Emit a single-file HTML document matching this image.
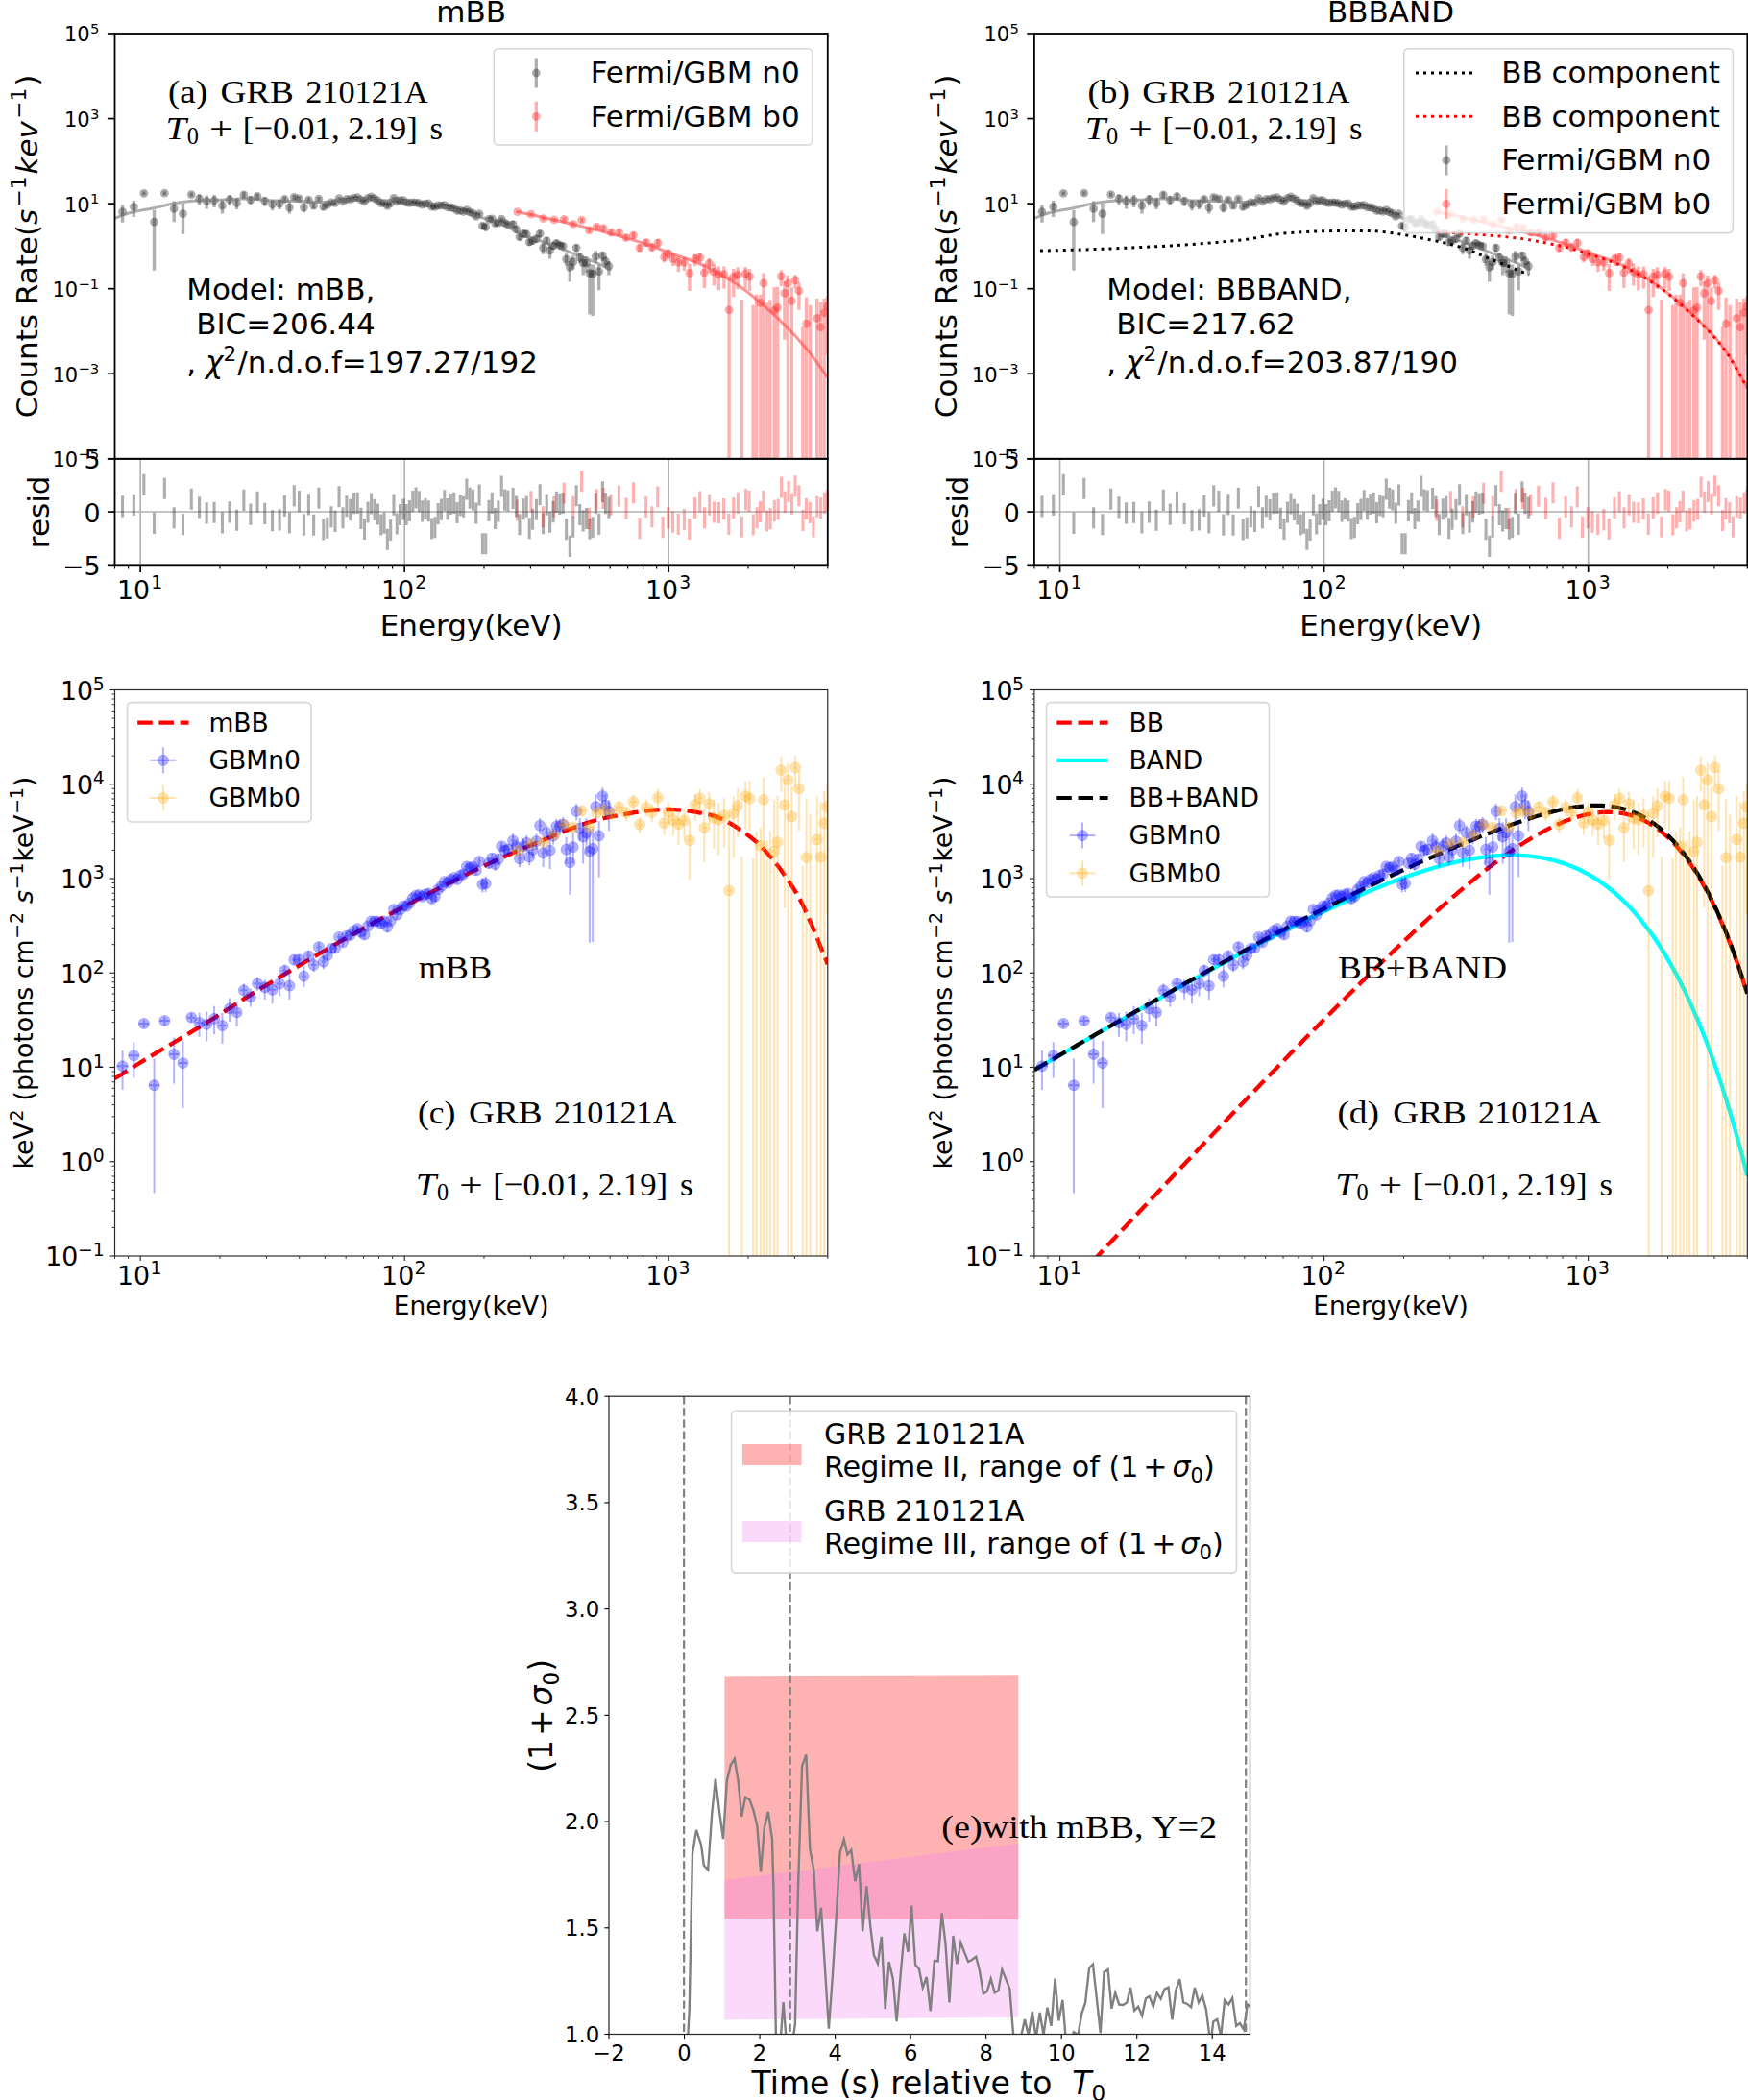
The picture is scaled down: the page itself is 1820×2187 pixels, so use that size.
<!DOCTYPE html>
<html><head><meta charset="utf-8"><title>GRB 210121A spectra</title>
<style>html,body{margin:0;padding:0;background:#fff;overflow:hidden}svg{display:block}</style></head>
<body>
<svg width="1820" height="2187" viewBox="0 0 1820 2187">
<rect x="0" y="0" width="1820" height="2187" fill="#fff" stroke="none" stroke-width="1" />
<!-- panel a -->
<line x1="146.15" y1="477.8" x2="146.15" y2="588.3" stroke="#b0b0b0" stroke-width="1.6" />
<line x1="421.18" y1="477.8" x2="421.18" y2="588.3" stroke="#b0b0b0" stroke-width="1.6" />
<line x1="696.21" y1="477.8" x2="696.21" y2="588.3" stroke="#b0b0b0" stroke-width="1.6" />
<line x1="119.5" y1="533.05" x2="861.8" y2="533.05" stroke="#b0b0b0" stroke-width="1.6" />
<clipPath id="clipa"><rect x="119.5" y="35" width="742.3" height="442.8"/></clipPath>
<g clip-path="url(#clipa)">
<path d="M127.55 213.4V231.8M139.35 209.1V225.9M149.85 199.5V203.3M160.56 218.7V281.8M171.36 199.3V203.3M181.21 209.5V231.2M190.47 212.1V243.7M199.27 200.6V204.8M207.57 202.2V213.4M215.17 203.5V217.4M223.08 202.9V216M231.48 208.2V222.6M239.08 202.9V214M246.58 206.2V218M253.88 199.8V206.4M260.89 204.2V212.8M268.09 201.5V207.9M275.69 205.5V214.7M283.59 208.2V219.3M291.1 208.2V218M296.4 204.8V210.5M301.4 209.5V222.6M306.3 203V207.9M311.5 204.4V209.5M316.4 210.8V221.3M321.4 205.8V210.8M326.61 211V217.4M331.91 205V209.6M336.81 212.3V218.8M340.81 211.22V215.5M344.95 209.01V212.84M349.02 209.38V213.39M353.04 205.18V208.41M356.99 208V211.87M360.89 205.84V209.33M364.73 206V209.6M368.51 204.6V208M372.23 204.13V207.53M375.9 206.14V210.03M379.51 207.71V212.06M383.07 204.67V208.35M386.57 203.36V206.77M390.02 205.1V208.69M393.42 207.02V210.77M396.77 209.72V213.87M400.07 209.53V213.6M403.37 212.08V216.96M406.67 209.54V213.93M409.98 204.78V208.22M413.28 207.8V211.91M416.58 206.84V210.6M419.88 206.97V210.55M423.18 209.02V212.78M426.48 209.64V213.27M429.78 209.27V212.61M433.08 209.49V212.74M436.38 210.17V213.52M439.68 211.29V214.93M442.98 210.39V213.96M446.29 210.26V213.9M449.59 213.11V217.42M452.89 213.4V217.66M456.19 212V215.73M459.49 212.41V216M462.79 212.01V215.34M466.09 214.18V217.76M469.39 214.39V217.81M472.69 215.23V218.62M475.99 217.72V221.42M479.3 217.59V221.06M482.6 218.76V222.35M485.9 217.07V220.27M489.2 219.19V222.72M492.5 220.29V223.99M495.8 223.35V227.69M499.1 221V224.72M502.4 232V239.02M505.7 233.08V240.42M509 226.27V230.98M512.31 225.76V230.2M515.61 230V235.5M518.91 229.63V234.75M522.21 226.21V230.19M525.51 230.01V234.69M528.81 231.59V236.42M534.16 230.06V237.56M537.56 235.41V242.91M540.97 243.19V250.69M544.86 239.79V247.29M548.27 240.27V247.77M551.19 248.54V256.04M554.59 247.08V254.58M558.48 245.14V252.64M562.18 239.79V247.29M565.59 252.53V264.69M569.19 247.08V254.58M572.59 254.47V269.55M576 252.43V259.93M579.41 249.81V257.31M582.81 251.95V259.45M586.22 252.92V260.42M589.62 264.2V276.85M593.32 271.98V293.39M596.73 266.15V280.74M600.13 254.47V262.26M603.73 263.23V273.93M607.14 267.12V286.58M610.54 267.12V283.66M613.95 274.9V327.43M617.16 275.39V328.89M620.27 261.28V273.93M623.68 275.88V302.14M627.38 262.26V271.98M630.49 267.12V278.79M633.9 271.98V286.58" stroke="#000" stroke-opacity="0.31" stroke-width="3.4" fill="none"/>
<g fill="#000" fill-opacity="0.32"><circle cx="127.55" cy="220.7" r="4.4"/><circle cx="139.35" cy="215.4" r="4.4"/><circle cx="149.85" cy="201.3" r="4.4"/><circle cx="160.56" cy="231.2" r="4.4"/><circle cx="171.36" cy="201.2" r="4.4"/><circle cx="181.21" cy="217.4" r="4.4"/><circle cx="190.47" cy="222.6" r="4.4"/><circle cx="199.27" cy="202.6" r="4.4"/><circle cx="207.57" cy="206.8" r="4.4"/><circle cx="215.17" cy="209.5" r="4.4"/><circle cx="223.08" cy="208.8" r="4.4"/><circle cx="231.48" cy="214.1" r="4.4"/><circle cx="239.08" cy="207.8" r="4.4"/><circle cx="246.58" cy="211.4" r="4.4"/><circle cx="253.88" cy="202.9" r="4.4"/><circle cx="260.89" cy="208.2" r="4.4"/><circle cx="268.09" cy="204.5" r="4.4"/><circle cx="275.69" cy="209.1" r="4.4"/><circle cx="283.59" cy="212.8" r="4.4"/><circle cx="291.1" cy="212.1" r="4.4"/><circle cx="296.4" cy="207.5" r="4.4"/><circle cx="301.4" cy="216.1" r="4.4"/><circle cx="306.3" cy="205.3" r="4.4"/><circle cx="311.5" cy="206.8" r="4.4"/><circle cx="316.4" cy="216.1" r="4.4"/><circle cx="321.4" cy="208.2" r="4.4"/><circle cx="326.61" cy="214.1" r="4.4"/><circle cx="331.91" cy="207.2" r="4.4"/><circle cx="336.81" cy="215.4" r="4.4"/><circle cx="340.81" cy="213.24" r="4.4"/><circle cx="344.95" cy="210.83" r="4.4"/><circle cx="349.02" cy="211.28" r="4.4"/><circle cx="353.04" cy="206.73" r="4.4"/><circle cx="356.99" cy="209.84" r="4.4"/><circle cx="360.89" cy="207.5" r="4.4"/><circle cx="364.73" cy="207.71" r="4.4"/><circle cx="368.51" cy="206.22" r="4.4"/><circle cx="372.23" cy="205.75" r="4.4"/><circle cx="375.9" cy="207.99" r="4.4"/><circle cx="379.51" cy="209.76" r="4.4"/><circle cx="383.07" cy="206.42" r="4.4"/><circle cx="386.57" cy="204.99" r="4.4"/><circle cx="390.02" cy="206.81" r="4.4"/><circle cx="393.42" cy="208.81" r="4.4"/><circle cx="396.77" cy="211.69" r="4.4"/><circle cx="400.07" cy="211.46" r="4.4"/><circle cx="403.37" cy="214.37" r="4.4"/><circle cx="406.67" cy="211.61" r="4.4"/><circle cx="409.98" cy="206.42" r="4.4"/><circle cx="413.28" cy="209.75" r="4.4"/><circle cx="416.58" cy="208.63" r="4.4"/><circle cx="419.88" cy="208.68" r="4.4"/><circle cx="423.18" cy="210.81" r="4.4"/><circle cx="426.48" cy="211.37" r="4.4"/><circle cx="429.78" cy="210.87" r="4.4"/><circle cx="433.08" cy="211.05" r="4.4"/><circle cx="436.38" cy="211.77" r="4.4"/><circle cx="439.68" cy="213.03" r="4.4"/><circle cx="442.98" cy="212.1" r="4.4"/><circle cx="446.29" cy="212" r="4.4"/><circle cx="449.59" cy="215.14" r="4.4"/><circle cx="452.89" cy="215.41" r="4.4"/><circle cx="456.19" cy="213.78" r="4.4"/><circle cx="459.49" cy="214.12" r="4.4"/><circle cx="462.79" cy="213.6" r="4.4"/><circle cx="466.09" cy="215.89" r="4.4"/><circle cx="469.39" cy="216.02" r="4.4"/><circle cx="472.69" cy="216.85" r="4.4"/><circle cx="475.99" cy="219.48" r="4.4"/><circle cx="479.3" cy="219.25" r="4.4"/><circle cx="482.6" cy="220.47" r="4.4"/><circle cx="485.9" cy="218.61" r="4.4"/><circle cx="489.2" cy="220.87" r="4.4"/><circle cx="492.5" cy="222.05" r="4.4"/><circle cx="495.8" cy="225.4" r="4.4"/><circle cx="499.1" cy="222.77" r="4.4"/><circle cx="502.4" cy="235.19" r="4.4"/><circle cx="505.7" cy="236.4" r="4.4"/><circle cx="509" cy="228.48" r="4.4"/><circle cx="512.31" cy="227.86" r="4.4"/><circle cx="515.61" cy="232.55" r="4.4"/><circle cx="518.91" cy="232.02" r="4.4"/><circle cx="522.21" cy="228.1" r="4.4"/><circle cx="525.51" cy="232.2" r="4.4"/><circle cx="528.81" cy="233.85" r="4.4"/><circle cx="534.16" cy="233.56" r="4.4"/><circle cx="537.56" cy="238.91" r="4.4"/><circle cx="540.97" cy="246.69" r="4.4"/><circle cx="544.86" cy="243.29" r="4.4"/><circle cx="548.27" cy="243.77" r="4.4"/><circle cx="551.19" cy="252.04" r="4.4"/><circle cx="554.59" cy="250.58" r="4.4"/><circle cx="558.48" cy="248.64" r="4.4"/><circle cx="562.18" cy="243.29" r="4.4"/><circle cx="565.59" cy="258.07" r="4.4"/><circle cx="569.19" cy="250.58" r="4.4"/><circle cx="572.59" cy="260.8" r="4.4"/><circle cx="576" cy="255.93" r="4.4"/><circle cx="579.41" cy="253.31" r="4.4"/><circle cx="582.81" cy="255.45" r="4.4"/><circle cx="586.22" cy="256.42" r="4.4"/><circle cx="589.62" cy="270.04" r="4.4"/><circle cx="593.32" cy="278.31" r="4.4"/><circle cx="596.73" cy="272.96" r="4.4"/><circle cx="600.13" cy="258.07" r="4.4"/><circle cx="603.73" cy="268.09" r="4.4"/><circle cx="607.14" cy="273.93" r="4.4"/><circle cx="610.54" cy="273.93" r="4.4"/><circle cx="613.95" cy="284.63" r="4.4"/><circle cx="617.16" cy="285.12" r="4.4"/><circle cx="620.27" cy="267.12" r="4.4"/><circle cx="623.68" cy="282.68" r="4.4"/><circle cx="627.38" cy="266.15" r="4.4"/><circle cx="630.49" cy="272.47" r="4.4"/><circle cx="633.9" cy="277.33" r="4.4"/></g>
<path d="M538.83 219.52V222.1M552.94 221.69V224.63M565.78 226V229.29M576.97 227.19V230.85M587.38 226.54V230.55M596.73 231.33V235.7M605.68 226.98V231.71M613.46 237.52V242.6M621.25 233.65V239.1M628.35 235.04V240.85M636.33 239.16V245.32M644.6 238.99V245.51M651.9 244.17V251.05M659.49 241.67V248.91M666.01 254.54V262.14M672.82 249.02V256.98M678.85 253.53V261.84M684.98 248.98V257.65M691.55 262.11V273.26M695.89 259.63V269.54M700.84 263.35V276.97M706.42 267.06V283.17M712.37 267.68V281.93M717.94 275.12V302.98M723.76 264.59V276.97M728.72 263.97V274.5M733.3 274.5V299.89M738.38 268.92V284.4M743.34 274.5V297.41M748.29 277.59V302.36M753.87 277.59V300.51M759.07 287.5V482.8M763.78 280.07V309.18M768.12 278.21V301.12M772.45 311.9V482.8M776.17 277.96V300.51M780.51 280.07V302.98M784.1 317.84V482.8M787.57 306.7V482.8M791.9 306.7V482.8M795 284.4V482.8M798.72 315.37V482.8M801.81 312.27V482.8M806.15 299.27V482.8M809.5 298.65V482.8M813.34 281.31V298.03M816.93 293.07V353.76M820.4 286.88V482.8M824.36 299.27V482.8M828.08 286.26V300.51M831.92 294.31V322.8M835.88 340.14V482.8M839.6 309.79V482.8M843.69 317.84V482.8M850.75 311.03V482.8M854.47 314.75V482.8M858.19 311.03V482.8M861.28 308.56V369.86" stroke="#ff0000" stroke-opacity="0.31" stroke-width="3.4" fill="none"/>
<g fill="#ff0000" fill-opacity="0.33"><circle cx="538.83" cy="220.72" r="4.4"/><circle cx="552.94" cy="223.05" r="4.4"/><circle cx="565.78" cy="227.53" r="4.4"/><circle cx="576.97" cy="228.89" r="4.4"/><circle cx="587.38" cy="228.4" r="4.4"/><circle cx="596.73" cy="233.37" r="4.4"/><circle cx="605.68" cy="229.18" r="4.4"/><circle cx="613.46" cy="239.88" r="4.4"/><circle cx="621.25" cy="236.19" r="4.4"/><circle cx="628.35" cy="237.74" r="4.4"/><circle cx="636.33" cy="242.02" r="4.4"/><circle cx="644.6" cy="242.02" r="4.4"/><circle cx="651.9" cy="247.37" r="4.4"/><circle cx="659.49" cy="245.04" r="4.4"/><circle cx="666.01" cy="258.07" r="4.4"/><circle cx="672.82" cy="252.72" r="4.4"/><circle cx="678.85" cy="257.39" r="4.4"/><circle cx="684.98" cy="253.02" r="4.4"/><circle cx="691.55" cy="267.68" r="4.4"/><circle cx="695.89" cy="263.97" r="4.4"/><circle cx="700.84" cy="269.54" r="4.4"/><circle cx="706.42" cy="273.26" r="4.4"/><circle cx="712.37" cy="273.26" r="4.4"/><circle cx="717.94" cy="284.4" r="4.4"/><circle cx="723.76" cy="269.54" r="4.4"/><circle cx="728.72" cy="268.3" r="4.4"/><circle cx="733.3" cy="283.78" r="4.4"/><circle cx="738.38" cy="274.5" r="4.4"/><circle cx="743.34" cy="283.17" r="4.4"/><circle cx="748.29" cy="285.64" r="4.4"/><circle cx="753.87" cy="285.64" r="4.4"/><circle cx="759.07" cy="322.8" r="4.4"/><circle cx="763.78" cy="288.12" r="4.4"/><circle cx="768.12" cy="286.26" r="4.4"/><circle cx="772.45" cy="1200" r="4.4"/><circle cx="776.17" cy="285.02" r="4.4"/><circle cx="780.51" cy="288.12" r="4.4"/><circle cx="784.1" cy="1200" r="4.4"/><circle cx="787.57" cy="1200" r="4.4"/><circle cx="791.9" cy="315.37" r="4.4"/><circle cx="795" cy="294.93" r="4.4"/><circle cx="798.72" cy="1200" r="4.4"/><circle cx="801.81" cy="1200" r="4.4"/><circle cx="806.15" cy="323.42" r="4.4"/><circle cx="809.5" cy="320.32" r="4.4"/><circle cx="813.34" cy="287.87" r="4.4"/><circle cx="816.93" cy="305.46" r="4.4"/><circle cx="820.4" cy="294.93" r="4.4"/><circle cx="824.36" cy="313.51" r="4.4"/><circle cx="828.08" cy="291.84" r="4.4"/><circle cx="831.92" cy="302.98" r="4.4"/><circle cx="835.88" cy="1200" r="4.4"/><circle cx="839.6" cy="337.04" r="4.4"/><circle cx="843.69" cy="1200" r="4.4"/><circle cx="850.75" cy="331.47" r="4.4"/><circle cx="854.47" cy="340.76" r="4.4"/><circle cx="858.19" cy="325.9" r="4.4"/><circle cx="861.28" cy="319.08" r="4.4"/></g>
<polyline points="119.48,227.41 122.72,226.18 125.97,224.9 129.22,223.64 132.47,222.49 135.72,221.49 138.97,220.69 142.21,219.99 145.46,219.37 148.71,218.79 151.96,218.23 155.21,217.66 158.46,217.05 161.71,216.36 164.95,215.61 168.2,214.8 171.45,213.98 174.7,213.19 177.95,212.46 181.2,211.83 184.44,211.31 187.69,210.81 190.94,210.35 194.19,209.94 197.44,209.58 200.69,209.31 203.94,209.11 207.18,208.95 210.43,208.81 213.68,208.7 216.93,208.59 220.18,208.49 223.43,208.39 226.68,208.28 229.92,208.14 233.17,207.97 236.42,207.78 239.67,207.59 242.92,207.4 246.17,207.23 249.41,207.1 252.66,207.02 255.91,207.01 259.16,207.11 262.41,207.3 265.66,207.56 268.91,207.86 272.15,208.17 275.4,208.45 278.65,208.68 281.9,208.82 285.15,208.93 288.4,209.01 291.64,209.09 294.89,209.15 298.14,209.22 301.39,209.28 304.64,209.35 307.89,209.43 311.14,209.53 314.38,209.67 317.63,209.84 320.88,210.03 324.13,210.2 327.38,210.35 330.63,210.46 333.87,210.5 337.12,210.45 340.37,210.29 343.62,210.07 346.87,209.78 350.12,209.47 353.37,209.14 356.61,208.82 359.86,208.53 363.11,208.24 366.36,207.89 369.61,207.51 372.86,207.14 376.1,206.81 379.35,206.54 382.6,206.36 385.85,206.31 389.1,206.88 392.35,208 395.6,209.07 398.84,209.5 402.09,209.16 405.34,208.47 408.59,207.8 411.84,207.5 415.09,207.81 418.34,208.61 421.58,209.71 424.83,210.93 428.08,212.09 431.33,213 434.58,213.47 437.83,213.38 441.07,212.92 444.32,212.38 447.57,212.03 450.82,212.15 454.07,212.83 457.32,213.81 460.57,214.84 463.81,215.73 467.06,216.64 470.31,217.59 473.56,218.57 476.81,219.57 480.06,220.57 483.3,221.56 486.55,222.53 489.8,223.47 493.05,224.37 496.3,225.24 499.55,226.1 502.8,226.97 506.04,227.87 509.29,228.83 512.54,229.85 515.79,230.97 519.04,232.23 522.29,233.6 525.53,235.04 528.78,236.52 532.03,238.12 535.28,239.8 538.53,241.44 541.78,242.95 545.03,244.37 548.27,245.71 551.52,246.98 554.77,248.16 558.02,249.29 561.27,250.43 564.52,251.62 567.77,252.83 571.01,254.03 574.26,255.25 577.51,256.48 580.76,257.72 584.01,258.98 587.26,260.24 590.5,261.51 593.75,262.78 597,264.04 600.25,265.31 603.5,266.58 606.75,267.86 610,269.16 613.24,270.49 616.49,271.85 619.74,273.24 622.99,274.68 626.24,276.16 629.49,277.71 632.73,279.37 635.98,281.12" fill="none" stroke="#777" stroke-width="3" stroke-opacity="0.6"/>
<polyline points="538.62,220.65 541.89,221.33 545.15,222.01 548.42,222.7 551.68,223.4 554.94,224.1 558.21,224.81 561.47,225.53 564.74,226.25 568,226.98 571.26,227.72 574.53,228.46 577.79,229.2 581.06,229.95 584.32,230.71 587.59,231.47 590.85,232.24 594.11,233 597.38,233.77 600.64,234.55 603.91,235.33 607.17,236.11 610.44,236.9 613.7,237.69 616.96,238.5 620.23,239.31 623.49,240.13 626.76,240.97 630.02,241.82 633.29,242.68 636.55,243.56 639.81,244.45 643.08,245.36 646.34,246.27 649.61,247.19 652.87,248.13 656.14,249.09 659.4,250.06 662.66,251.06 665.93,252.07 669.19,253.12 672.46,254.19 675.72,255.28 678.99,256.44 682.25,257.69 685.51,258.97 688.78,260.25 692.04,261.48 695.31,262.66 698.57,263.81 701.84,264.95 705.1,266.08 708.36,267.21 711.63,268.35 714.89,269.53 718.16,270.74 721.42,272 724.68,273.33 727.95,274.72 731.21,276.18 734.48,277.7 737.74,279.27 741.01,280.89 744.27,282.58 747.53,284.32 750.8,286.12 754.06,287.99 757.33,289.91 760.59,291.89 763.86,293.94 767.12,296.07 770.38,298.31 773.65,300.66 776.91,303.11 780.18,305.65 783.44,308.27 786.71,310.97 789.97,313.72 793.23,316.54 796.5,319.4 799.76,322.3 803.03,325.23 806.29,328.21 809.56,331.26 812.82,334.38 816.08,337.56 819.35,340.82 822.61,344.16 825.88,347.59 829.14,351.1 832.41,354.7 835.67,358.4 838.93,362.2 842.2,366.2 845.46,370.44 848.73,374.86 851.99,379.41 855.25,384 858.52,388.58 861.78,393.09" fill="none" stroke="#ff4a4a" stroke-width="3" stroke-opacity="0.6"/>
</g>
<path d="M127.55 516.36V538.46M139.35 514.82V536.92M149.85 493.82V515.92M160.56 533.82V555.92M171.36 497.69V519.79M181.21 528.19V550.29M190.47 535.26V557.36M199.27 508.74V530.84M207.57 517.36V539.46M215.17 523.37V545.47M223.08 522.64V544.74M231.48 533.35V555.45M239.08 522.35V544.45M246.58 530.67V552.77M253.88 509.86V531.96M260.89 524.55V546.65M268.09 511.72V533.82M275.69 523.78V545.88M283.59 531.24V553.34M291.1 530.37V552.47M296.4 515.86V537.96M301.4 533.49V555.59M306.3 505.33V527.43M311.5 510.94V533.04M316.4 535.56V557.66M321.4 514.35V536.45M326.61 535.71V557.81M331.91 507.69V529.79M336.81 540.52V562.62M340.81 538.65V560.75M344.95 527.16V549.26M349.02 531.85V553.95M353.04 506.23V528.33M356.99 528.19V550.29M360.89 516.17V538.27M364.73 519.84V541.94M368.51 513.08V535.18M372.23 512.82V534.92M375.9 528.8V550.9M379.51 540.02V562.12M383.07 522.47V544.57M386.57 513.44V535.54M390.02 519.79V541.89M393.42 524.51V546.61M396.77 535.44V557.54M400.07 533.62V555.72M403.37 550.73V572.83M406.67 541V563.1M409.98 514.61V536.71M413.28 534.48V556.58M416.58 525V547.1M419.88 519.38V541.48M423.18 524.98V547.08M426.48 520.97V543.07M429.78 510.97V533.07M433.08 507.4V529.5M436.38 511.2V533.3M439.68 521.28V543.38M442.98 518.93V541.03M446.29 521.19V543.29M449.59 539.39V561.49M452.89 538.15V560.25M456.19 523.93V546.03M459.49 519.62V541.72M462.79 510.25V532.35M466.09 519.08V541.18M469.39 513.88V535.98M472.69 512.83V534.93M475.99 523.01V545.11M479.3 515.25V537.35M482.6 516.74V538.84M485.9 498.5V520.6M489.2 507.69V529.79M492.5 509.72V531.82M495.8 523.51V545.61M499.1 504.38V526.48M502.4 555.15V577.25M505.7 555.15V577.25M509 520.78V542.88M512.31 512.86V534.96M515.61 528.96V551.06M518.91 521.32V543.42M522.21 495.48V517.58M525.51 509.54V531.64M528.81 510.49V532.59M534.16 507.89V529.99M537.56 516.4V538.5M540.97 535.16V557.26M544.86 519.17V541.27M548.27 516.7V538.8M551.19 539.16V561.26M554.59 529.66V551.76M558.48 519.71V541.81M562.18 504.17V526.27M565.59 534.24V556.34M569.19 514.57V536.67M572.59 532.74V554.84M576 522.07V544.17M579.41 511.84V533.94M582.81 513.84V535.94M586.22 513V535.1M589.62 540.26V562.36M593.32 557.82V579.92M596.73 537.57V559.67M600.13 505.26V527.36M603.73 524.95V547.05M607.14 531.36V553.46M610.54 528.93V551.03M613.95 539.7V561.8M617.16 538.19V560.29M620.27 513.23V535.33M623.68 534.79V556.89M627.38 501.2V523.3M630.49 513.1V535.2M633.9 517.56V539.66" stroke="#000" stroke-opacity="0.32" stroke-width="3.1" fill="none"/>
<path d="M538.51 520.47V542.57M552.89 511.27V533.37M565.35 527.17V549.27M576.66 517.02V539.12M587.2 502.64V524.74M596.79 516.63V538.73M605.6 490.19V512.29M613.27 529.09V551.19M620.94 509.35V531.45M628.03 508.01V530.11M636.08 514.72V536.82M644.33 505.71V527.81M652 518.55V540.65M659.47 502.26V524.36M665.99 539.06V561.16M672.7 517.02V539.12M678.83 527.17V549.27M684.78 506.48V528.58M690.14 538.1V560.2M695.7 528.13V550.23M700.5 532.54V554.64M706.25 534.84V556.94M712.38 530.05V552.15M717.75 540.01V562.11M723.5 517.98V540.08M728.68 511.46V533.56M733.47 528.13V550.23M738.64 514.72V536.82M743.44 522.38V544.48M748.42 522.96V545.06M753.6 518.93V541.03M758.77 534.84V556.94M763.76 517.98V540.08M768.36 512.8V534.9M772.38 537.71V559.81M776.6 509.35V531.45M780.05 510.88V532.98M784.27 535.41V557.51M788.1 528.13V550.23M791.55 522V544.1M794.81 510.88V532.98M798.65 531.39V553.49M802.1 529.09V551.19M806.32 521.04V543.14M810.15 519.51V541.61M813.6 496.51V518.61M817.24 511.84V533.94M821.08 500.92V523.02M824.53 513.76V535.86M827.98 495.17V517.27M831.81 505.14V527.24M836.03 531.01V553.11M839.48 518.93V541.03M843.31 522.96V545.06M846.96 537.71V559.81M850.79 516.63V538.73M854.62 517.98V540.08M858.46 512.8V534.9M861.33 509.93V532.03" stroke="#ff0000" stroke-opacity="0.31" stroke-width="3.1" fill="none"/>
<rect x="119.5" y="35" width="742.3" height="442.8" fill="none" stroke="#000" stroke-width="1.8" />
<rect x="119.5" y="477.8" width="742.3" height="110.5" fill="none" stroke="#000" stroke-width="1.8" />
<line x1="111.9" y1="35" x2="119.5" y2="35" stroke="#000" stroke-width="1.7" />
<text x="103.4" y="43.4" font-size="21" font-family="'DejaVu Sans','Liberation Sans',sans-serif" text-anchor="end">10<tspan font-size="14.7" dx="0.3" dy="-8.19">5</tspan></text>
<line x1="111.9" y1="123.56" x2="119.5" y2="123.56" stroke="#000" stroke-width="1.7" />
<text x="103.4" y="131.96" font-size="21" font-family="'DejaVu Sans','Liberation Sans',sans-serif" text-anchor="end">10<tspan font-size="14.7" dx="0.3" dy="-8.19">3</tspan></text>
<line x1="111.9" y1="212.12" x2="119.5" y2="212.12" stroke="#000" stroke-width="1.7" />
<text x="103.4" y="220.52" font-size="21" font-family="'DejaVu Sans','Liberation Sans',sans-serif" text-anchor="end">10<tspan font-size="14.7" dx="0.3" dy="-8.19">1</tspan></text>
<line x1="111.9" y1="300.68" x2="119.5" y2="300.68" stroke="#000" stroke-width="1.7" />
<text x="103.1" y="309.08" font-size="21" font-family="'DejaVu Sans','Liberation Sans',sans-serif" text-anchor="end">10<tspan font-size="14.7" dx="0.3" dy="-8.19">−1</tspan></text>
<line x1="111.9" y1="389.24" x2="119.5" y2="389.24" stroke="#000" stroke-width="1.7" />
<text x="103.1" y="397.64" font-size="21" font-family="'DejaVu Sans','Liberation Sans',sans-serif" text-anchor="end">10<tspan font-size="14.7" dx="0.3" dy="-8.19">−3</tspan></text>
<line x1="111.9" y1="477.8" x2="119.5" y2="477.8" stroke="#000" stroke-width="1.7" />
<text x="103.1" y="486.2" font-size="21" font-family="'DejaVu Sans','Liberation Sans',sans-serif" text-anchor="end">10<tspan font-size="14.7" dx="0.3" dy="-8.19">−5</tspan></text>
<line x1="111.9" y1="477.8" x2="119.5" y2="477.8" stroke="#000" stroke-width="1.7" />
<text x="104.5" y="488.3" font-size="26.8" font-family="'DejaVu Sans','Liberation Sans',sans-serif" text-anchor="end" fill="#000" >5</text>
<line x1="111.9" y1="533.05" x2="119.5" y2="533.05" stroke="#000" stroke-width="1.7" />
<text x="104.5" y="543.55" font-size="26.8" font-family="'DejaVu Sans','Liberation Sans',sans-serif" text-anchor="end" fill="#000" >0</text>
<line x1="111.9" y1="588.3" x2="119.5" y2="588.3" stroke="#000" stroke-width="1.7" />
<text x="104.5" y="598.8" font-size="26.8" font-family="'DejaVu Sans','Liberation Sans',sans-serif" text-anchor="end" fill="#000" >−5</text>
<line x1="146.15" y1="588.3" x2="146.15" y2="595.9" stroke="#000" stroke-width="1.7" />
<text x="145.55" y="623.5" font-size="26.8" font-family="'DejaVu Sans','Liberation Sans',sans-serif" text-anchor="middle">10<tspan font-size="18.76" dx="1.2" dy="-10.45">1</tspan></text>
<line x1="421.18" y1="588.3" x2="421.18" y2="595.9" stroke="#000" stroke-width="1.7" />
<text x="420.58" y="623.5" font-size="26.8" font-family="'DejaVu Sans','Liberation Sans',sans-serif" text-anchor="middle">10<tspan font-size="18.76" dx="1.2" dy="-10.45">2</tspan></text>
<line x1="696.21" y1="588.3" x2="696.21" y2="595.9" stroke="#000" stroke-width="1.7" />
<text x="695.61" y="623.5" font-size="26.8" font-family="'DejaVu Sans','Liberation Sans',sans-serif" text-anchor="middle">10<tspan font-size="18.76" dx="1.2" dy="-10.45">3</tspan></text>
<line x1="119.5" y1="588.3" x2="119.5" y2="592.5" stroke="#000" stroke-width="1.2" />
<line x1="133.57" y1="588.3" x2="133.57" y2="592.5" stroke="#000" stroke-width="1.2" />
<line x1="228.95" y1="588.3" x2="228.95" y2="592.5" stroke="#000" stroke-width="1.2" />
<line x1="277.38" y1="588.3" x2="277.38" y2="592.5" stroke="#000" stroke-width="1.2" />
<line x1="311.74" y1="588.3" x2="311.74" y2="592.5" stroke="#000" stroke-width="1.2" />
<line x1="338.39" y1="588.3" x2="338.39" y2="592.5" stroke="#000" stroke-width="1.2" />
<line x1="360.17" y1="588.3" x2="360.17" y2="592.5" stroke="#000" stroke-width="1.2" />
<line x1="378.58" y1="588.3" x2="378.58" y2="592.5" stroke="#000" stroke-width="1.2" />
<line x1="394.53" y1="588.3" x2="394.53" y2="592.5" stroke="#000" stroke-width="1.2" />
<line x1="408.6" y1="588.3" x2="408.6" y2="592.5" stroke="#000" stroke-width="1.2" />
<line x1="503.98" y1="588.3" x2="503.98" y2="592.5" stroke="#000" stroke-width="1.2" />
<line x1="552.41" y1="588.3" x2="552.41" y2="592.5" stroke="#000" stroke-width="1.2" />
<line x1="586.77" y1="588.3" x2="586.77" y2="592.5" stroke="#000" stroke-width="1.2" />
<line x1="613.42" y1="588.3" x2="613.42" y2="592.5" stroke="#000" stroke-width="1.2" />
<line x1="635.2" y1="588.3" x2="635.2" y2="592.5" stroke="#000" stroke-width="1.2" />
<line x1="653.61" y1="588.3" x2="653.61" y2="592.5" stroke="#000" stroke-width="1.2" />
<line x1="669.56" y1="588.3" x2="669.56" y2="592.5" stroke="#000" stroke-width="1.2" />
<line x1="683.63" y1="588.3" x2="683.63" y2="592.5" stroke="#000" stroke-width="1.2" />
<line x1="779.01" y1="588.3" x2="779.01" y2="592.5" stroke="#000" stroke-width="1.2" />
<line x1="827.44" y1="588.3" x2="827.44" y2="592.5" stroke="#000" stroke-width="1.2" />
<line x1="861.8" y1="588.3" x2="861.8" y2="592.5" stroke="#000" stroke-width="1.2" />
<text x="490.65" y="22.9" font-size="31" font-family="'DejaVu Sans','Liberation Sans',sans-serif" text-anchor="middle" fill="#000" >mBB</text>
<text x="490.65" y="661.8" font-size="31" font-family="'DejaVu Sans','Liberation Sans',sans-serif" text-anchor="middle" fill="#000" >Energy(keV)</text>
<text transform="translate(38.5,256.4) rotate(-90)" font-size="31" font-family="'DejaVu Sans','Liberation Sans',sans-serif" text-anchor="middle">Counts Rate(<tspan font-style="oblique">s</tspan><tspan font-size="21.7" dy="-12" dx="2.4">−1</tspan><tspan font-style="oblique" dy="12" dx="2">kev</tspan><tspan font-size="21.7" dy="-12" dx="2.4">−1</tspan><tspan dy="12" dx="2">)</tspan></text>
<text transform="translate(50.7,533.35) rotate(-90)" font-size="31" font-family="'DejaVu Sans','Liberation Sans',sans-serif" text-anchor="middle">resid</text>
<g font-family="'Liberation Serif','DejaVu Serif',serif" font-size="34.71" fill="#000">
<text x="175" y="107.2" textLength="41" lengthAdjust="spacingAndGlyphs">(a)</text>
<text x="229.4" y="107.2" textLength="76.5" lengthAdjust="spacingAndGlyphs">GRB</text>
<text x="318.2" y="107.2" textLength="127.5" lengthAdjust="spacingAndGlyphs">210121A</text>
</g>
<g font-family="'Liberation Serif','DejaVu Serif',serif" font-size="34.71" fill="#000">
<text x="172.4" y="144.6" font-style="italic" textLength="21.5" lengthAdjust="spacingAndGlyphs">T</text>
<text x="194.7" y="149.8" font-size="24.26">0</text>
<text x="217.9" y="144.6" textLength="24.5" lengthAdjust="spacingAndGlyphs">+</text>
<text x="252.8" y="144.6" textLength="182" lengthAdjust="spacingAndGlyphs">[−0.01, 2.19]</text>
<text x="447.6" y="144.6">s</text>
</g>
<rect x="514.3" y="50.8" width="331.6" height="100.2" rx="4.5" ry="4.5" fill="#fff" fill-opacity="0.8" stroke="#ccc" stroke-opacity="0.8" stroke-width="1.6"/>
<line x1="558.3" y1="60.4" x2="558.3" y2="91.6" stroke="#000" stroke-opacity="0.31" stroke-width="3.4"/>
<circle cx="558.3" cy="76" r="4.4" fill="#000" fill-opacity="0.32"/>
<line x1="558.3" y1="105.7" x2="558.3" y2="136.9" stroke="#ff0000" stroke-opacity="0.31" stroke-width="3.4"/>
<circle cx="558.3" cy="121.3" r="4.4" fill="#ff0000" fill-opacity="0.33"/>
<text x="614.7" y="85.9" font-size="31" font-family="'DejaVu Sans','Liberation Sans',sans-serif" text-anchor="start" fill="#000" >Fermi/GBM n0</text>
<text x="614.7" y="131.7" font-size="31" font-family="'DejaVu Sans','Liberation Sans',sans-serif" text-anchor="start" fill="#000" >Fermi/GBM b0</text>
<text x="194.3" y="312.3" font-size="31" font-family="'DejaVu Sans','Liberation Sans',sans-serif" text-anchor="start" fill="#000" >Model: mBB,</text>
<text x="194.3" y="347.7" font-size="31" font-family="'DejaVu Sans','Liberation Sans',sans-serif" text-anchor="start" fill="#000" > BIC=206.44</text>
<text x="194.3" y="387.8" font-size="31" font-family="'DejaVu Sans','Liberation Sans',sans-serif">, <tspan font-style="oblique">χ</tspan><tspan font-size="21.7" dy="-12">2</tspan><tspan dy="12" dx="1">/n.d.o.f=197.27/192</tspan></text>
<!-- panel b -->
<line x1="1103.56" y1="477.8" x2="1103.56" y2="588.3" stroke="#b0b0b0" stroke-width="1.6" />
<line x1="1378.62" y1="477.8" x2="1378.62" y2="588.3" stroke="#b0b0b0" stroke-width="1.6" />
<line x1="1653.69" y1="477.8" x2="1653.69" y2="588.3" stroke="#b0b0b0" stroke-width="1.6" />
<line x1="1076.9" y1="533.05" x2="1819.3" y2="533.05" stroke="#b0b0b0" stroke-width="1.6" />
<clipPath id="clipb"><rect x="1076.9" y="35" width="742.4" height="442.8"/></clipPath>
<g clip-path="url(#clipb)">
<path d="M1084.95 213.4V231.8M1096.75 209.1V225.9M1107.26 199.5V203.3M1117.96 218.7V281.8M1128.77 199.3V203.3M1138.62 209.5V231.2M1147.88 212.1V243.7M1156.68 200.6V204.8M1164.98 202.2V213.4M1172.59 203.5V217.4M1180.49 202.9V216M1188.89 208.2V222.6M1196.5 202.9V214M1204 206.2V218M1211.3 199.8V206.4M1218.31 204.2V212.8M1225.51 201.5V207.9M1233.11 205.5V214.7M1241.02 208.2V219.3M1248.52 208.2V218M1253.82 204.8V210.5M1258.82 209.5V222.6M1263.73 203V207.9M1268.93 204.4V209.5M1273.83 210.8V221.3M1278.83 205.8V210.8M1284.03 211V217.4M1289.34 205V209.6M1294.24 212.3V218.8M1298.24 211.22V215.5M1302.38 209.01V212.84M1306.46 209.38V213.39M1310.47 205.18V208.41M1314.43 208V211.87M1318.32 205.84V209.33M1322.16 206V209.6M1325.94 204.6V208M1329.66 204.13V207.53M1333.33 206.14V210.03M1336.94 207.71V212.06M1340.5 204.67V208.35M1344.01 203.36V206.77M1347.46 205.1V208.69M1350.86 207.02V210.77M1354.21 209.72V213.87M1357.51 209.53V213.6M1360.81 212.08V216.96M1364.11 209.54V213.93M1367.41 204.78V208.22M1370.72 207.8V211.91M1374.02 206.84V210.6M1377.32 206.97V210.55M1380.62 209.02V212.78M1383.92 209.64V213.27M1387.22 209.27V212.61M1390.52 209.49V212.74M1393.83 210.17V213.52M1397.13 211.29V214.93M1400.43 210.39V213.96M1403.73 210.26V213.9M1407.03 213.11V217.42M1410.33 213.4V217.66M1413.63 212V215.73M1416.94 212.41V216M1420.24 212.01V215.34M1423.54 214.18V217.76M1426.84 214.39V217.81M1430.14 215.23V218.62M1433.44 217.72V221.42M1436.74 217.59V221.06M1440.05 218.76V222.35M1443.35 217.07V220.27M1446.65 219.19V222.72M1449.95 220.29V223.99M1453.25 223.35V227.69M1456.55 221V224.72M1459.85 232V239.02M1463.16 233.08V240.42M1466.46 226.27V230.98M1469.76 225.76V230.2M1473.06 230V235.5M1476.36 229.63V234.75M1479.66 226.21V230.19M1482.96 230.01V234.69M1486.27 231.59V236.42M1491.61 230.06V237.56M1495.02 235.41V242.91M1498.43 243.19V250.69M1502.32 239.79V247.29M1505.73 240.27V247.77M1508.64 248.54V256.04M1512.05 247.08V254.58M1515.94 245.14V252.64M1519.64 239.79V247.29M1523.05 252.53V264.69M1526.65 247.08V254.58M1530.05 254.47V269.55M1533.46 252.43V259.93M1536.87 249.81V257.31M1540.27 251.95V259.45M1543.68 252.92V260.42M1547.09 264.2V276.85M1550.78 271.98V293.39M1554.19 266.15V280.74M1557.6 254.47V262.26M1561.2 263.23V273.93M1564.6 267.12V286.58M1568.01 267.12V283.66M1571.41 274.9V327.43M1574.63 275.39V328.89M1577.74 261.28V273.93M1581.15 275.88V302.14M1584.84 262.26V271.98M1587.96 267.12V278.79M1591.37 271.98V286.58" stroke="#000" stroke-opacity="0.31" stroke-width="3.4" fill="none"/>
<g fill="#000" fill-opacity="0.32"><circle cx="1084.95" cy="220.7" r="4.4"/><circle cx="1096.75" cy="215.4" r="4.4"/><circle cx="1107.26" cy="201.3" r="4.4"/><circle cx="1117.96" cy="231.2" r="4.4"/><circle cx="1128.77" cy="201.2" r="4.4"/><circle cx="1138.62" cy="217.4" r="4.4"/><circle cx="1147.88" cy="222.6" r="4.4"/><circle cx="1156.68" cy="202.6" r="4.4"/><circle cx="1164.98" cy="206.8" r="4.4"/><circle cx="1172.59" cy="209.5" r="4.4"/><circle cx="1180.49" cy="208.8" r="4.4"/><circle cx="1188.89" cy="214.1" r="4.4"/><circle cx="1196.5" cy="207.8" r="4.4"/><circle cx="1204" cy="211.4" r="4.4"/><circle cx="1211.3" cy="202.9" r="4.4"/><circle cx="1218.31" cy="208.2" r="4.4"/><circle cx="1225.51" cy="204.5" r="4.4"/><circle cx="1233.11" cy="209.1" r="4.4"/><circle cx="1241.02" cy="212.8" r="4.4"/><circle cx="1248.52" cy="212.1" r="4.4"/><circle cx="1253.82" cy="207.5" r="4.4"/><circle cx="1258.82" cy="216.1" r="4.4"/><circle cx="1263.73" cy="205.3" r="4.4"/><circle cx="1268.93" cy="206.8" r="4.4"/><circle cx="1273.83" cy="216.1" r="4.4"/><circle cx="1278.83" cy="208.2" r="4.4"/><circle cx="1284.03" cy="214.1" r="4.4"/><circle cx="1289.34" cy="207.2" r="4.4"/><circle cx="1294.24" cy="215.4" r="4.4"/><circle cx="1298.24" cy="213.24" r="4.4"/><circle cx="1302.38" cy="210.83" r="4.4"/><circle cx="1306.46" cy="211.28" r="4.4"/><circle cx="1310.47" cy="206.73" r="4.4"/><circle cx="1314.43" cy="209.84" r="4.4"/><circle cx="1318.32" cy="207.5" r="4.4"/><circle cx="1322.16" cy="207.71" r="4.4"/><circle cx="1325.94" cy="206.22" r="4.4"/><circle cx="1329.66" cy="205.75" r="4.4"/><circle cx="1333.33" cy="207.99" r="4.4"/><circle cx="1336.94" cy="209.76" r="4.4"/><circle cx="1340.5" cy="206.42" r="4.4"/><circle cx="1344.01" cy="204.99" r="4.4"/><circle cx="1347.46" cy="206.81" r="4.4"/><circle cx="1350.86" cy="208.81" r="4.4"/><circle cx="1354.21" cy="211.69" r="4.4"/><circle cx="1357.51" cy="211.46" r="4.4"/><circle cx="1360.81" cy="214.37" r="4.4"/><circle cx="1364.11" cy="211.61" r="4.4"/><circle cx="1367.41" cy="206.42" r="4.4"/><circle cx="1370.72" cy="209.75" r="4.4"/><circle cx="1374.02" cy="208.63" r="4.4"/><circle cx="1377.32" cy="208.68" r="4.4"/><circle cx="1380.62" cy="210.81" r="4.4"/><circle cx="1383.92" cy="211.37" r="4.4"/><circle cx="1387.22" cy="210.87" r="4.4"/><circle cx="1390.52" cy="211.05" r="4.4"/><circle cx="1393.83" cy="211.77" r="4.4"/><circle cx="1397.13" cy="213.03" r="4.4"/><circle cx="1400.43" cy="212.1" r="4.4"/><circle cx="1403.73" cy="212" r="4.4"/><circle cx="1407.03" cy="215.14" r="4.4"/><circle cx="1410.33" cy="215.41" r="4.4"/><circle cx="1413.63" cy="213.78" r="4.4"/><circle cx="1416.94" cy="214.12" r="4.4"/><circle cx="1420.24" cy="213.6" r="4.4"/><circle cx="1423.54" cy="215.89" r="4.4"/><circle cx="1426.84" cy="216.02" r="4.4"/><circle cx="1430.14" cy="216.85" r="4.4"/><circle cx="1433.44" cy="219.48" r="4.4"/><circle cx="1436.74" cy="219.25" r="4.4"/><circle cx="1440.05" cy="220.47" r="4.4"/><circle cx="1443.35" cy="218.61" r="4.4"/><circle cx="1446.65" cy="220.87" r="4.4"/><circle cx="1449.95" cy="222.05" r="4.4"/><circle cx="1453.25" cy="225.4" r="4.4"/><circle cx="1456.55" cy="222.77" r="4.4"/><circle cx="1459.85" cy="235.19" r="4.4"/><circle cx="1463.16" cy="236.4" r="4.4"/><circle cx="1466.46" cy="228.48" r="4.4"/><circle cx="1469.76" cy="227.86" r="4.4"/><circle cx="1473.06" cy="232.55" r="4.4"/><circle cx="1476.36" cy="232.02" r="4.4"/><circle cx="1479.66" cy="228.1" r="4.4"/><circle cx="1482.96" cy="232.2" r="4.4"/><circle cx="1486.27" cy="233.85" r="4.4"/><circle cx="1491.61" cy="233.56" r="4.4"/><circle cx="1495.02" cy="238.91" r="4.4"/><circle cx="1498.43" cy="246.69" r="4.4"/><circle cx="1502.32" cy="243.29" r="4.4"/><circle cx="1505.73" cy="243.77" r="4.4"/><circle cx="1508.64" cy="252.04" r="4.4"/><circle cx="1512.05" cy="250.58" r="4.4"/><circle cx="1515.94" cy="248.64" r="4.4"/><circle cx="1519.64" cy="243.29" r="4.4"/><circle cx="1523.05" cy="258.07" r="4.4"/><circle cx="1526.65" cy="250.58" r="4.4"/><circle cx="1530.05" cy="260.8" r="4.4"/><circle cx="1533.46" cy="255.93" r="4.4"/><circle cx="1536.87" cy="253.31" r="4.4"/><circle cx="1540.27" cy="255.45" r="4.4"/><circle cx="1543.68" cy="256.42" r="4.4"/><circle cx="1547.09" cy="270.04" r="4.4"/><circle cx="1550.78" cy="278.31" r="4.4"/><circle cx="1554.19" cy="272.96" r="4.4"/><circle cx="1557.6" cy="258.07" r="4.4"/><circle cx="1561.2" cy="268.09" r="4.4"/><circle cx="1564.6" cy="273.93" r="4.4"/><circle cx="1568.01" cy="273.93" r="4.4"/><circle cx="1571.41" cy="284.63" r="4.4"/><circle cx="1574.63" cy="285.12" r="4.4"/><circle cx="1577.74" cy="267.12" r="4.4"/><circle cx="1581.15" cy="282.68" r="4.4"/><circle cx="1584.84" cy="266.15" r="4.4"/><circle cx="1587.96" cy="272.47" r="4.4"/><circle cx="1591.37" cy="277.33" r="4.4"/></g>
<path d="M1496.29 219.52V222.1M1510.4 221.69V224.63M1523.24 226V229.29M1534.43 227.19V230.85M1544.85 226.54V230.55M1554.19 231.33V235.7M1563.14 226.98V231.71M1570.93 237.52V242.6M1578.71 233.65V239.1M1585.82 235.04V240.85M1593.8 239.16V245.32M1602.07 238.99V245.51M1609.37 244.17V251.05M1616.96 241.67V248.91M1623.48 254.54V262.14M1630.29 249.02V256.98M1636.33 253.53V261.84M1642.46 248.98V257.65M1649.03 262.11V273.26M1653.37 259.63V269.54M1658.32 263.35V276.97M1663.9 267.06V283.17M1669.85 267.68V281.93M1675.42 275.12V302.98M1681.25 264.59V276.97M1686.2 263.97V274.5M1690.79 274.5V299.89M1695.87 268.92V284.4M1700.82 274.5V297.41M1705.78 277.59V302.36M1711.35 277.59V300.51M1716.56 287.5V482.8M1721.27 280.07V309.18M1725.6 278.21V301.12M1729.94 311.9V482.8M1733.66 277.96V300.51M1737.99 280.07V302.98M1741.59 317.84V482.8M1745.06 306.7V482.8M1749.39 306.7V482.8M1752.49 284.4V482.8M1756.21 315.37V482.8M1759.31 312.27V482.8M1763.64 299.27V482.8M1766.99 298.65V482.8M1770.83 281.31V298.03M1774.42 293.07V353.76M1777.89 286.88V482.8M1781.86 299.27V482.8M1785.58 286.26V300.51M1789.42 294.31V322.8M1793.38 340.14V482.8M1797.1 309.79V482.8M1801.19 317.84V482.8M1808.25 311.03V482.8M1811.97 314.75V482.8M1815.68 311.03V482.8M1818.78 308.56V369.86" stroke="#ff0000" stroke-opacity="0.31" stroke-width="3.4" fill="none"/>
<g fill="#ff0000" fill-opacity="0.33"><circle cx="1496.29" cy="220.72" r="4.4"/><circle cx="1510.4" cy="223.05" r="4.4"/><circle cx="1523.24" cy="227.53" r="4.4"/><circle cx="1534.43" cy="228.89" r="4.4"/><circle cx="1544.85" cy="228.4" r="4.4"/><circle cx="1554.19" cy="233.37" r="4.4"/><circle cx="1563.14" cy="229.18" r="4.4"/><circle cx="1570.93" cy="239.88" r="4.4"/><circle cx="1578.71" cy="236.19" r="4.4"/><circle cx="1585.82" cy="237.74" r="4.4"/><circle cx="1593.8" cy="242.02" r="4.4"/><circle cx="1602.07" cy="242.02" r="4.4"/><circle cx="1609.37" cy="247.37" r="4.4"/><circle cx="1616.96" cy="245.04" r="4.4"/><circle cx="1623.48" cy="258.07" r="4.4"/><circle cx="1630.29" cy="252.72" r="4.4"/><circle cx="1636.33" cy="257.39" r="4.4"/><circle cx="1642.46" cy="253.02" r="4.4"/><circle cx="1649.03" cy="267.68" r="4.4"/><circle cx="1653.37" cy="263.97" r="4.4"/><circle cx="1658.32" cy="269.54" r="4.4"/><circle cx="1663.9" cy="273.26" r="4.4"/><circle cx="1669.85" cy="273.26" r="4.4"/><circle cx="1675.42" cy="284.4" r="4.4"/><circle cx="1681.25" cy="269.54" r="4.4"/><circle cx="1686.2" cy="268.3" r="4.4"/><circle cx="1690.79" cy="283.78" r="4.4"/><circle cx="1695.87" cy="274.5" r="4.4"/><circle cx="1700.82" cy="283.17" r="4.4"/><circle cx="1705.78" cy="285.64" r="4.4"/><circle cx="1711.35" cy="285.64" r="4.4"/><circle cx="1716.56" cy="322.8" r="4.4"/><circle cx="1721.27" cy="288.12" r="4.4"/><circle cx="1725.6" cy="286.26" r="4.4"/><circle cx="1729.94" cy="1200" r="4.4"/><circle cx="1733.66" cy="285.02" r="4.4"/><circle cx="1737.99" cy="288.12" r="4.4"/><circle cx="1741.59" cy="1200" r="4.4"/><circle cx="1745.06" cy="1200" r="4.4"/><circle cx="1749.39" cy="315.37" r="4.4"/><circle cx="1752.49" cy="294.93" r="4.4"/><circle cx="1756.21" cy="1200" r="4.4"/><circle cx="1759.31" cy="1200" r="4.4"/><circle cx="1763.64" cy="323.42" r="4.4"/><circle cx="1766.99" cy="320.32" r="4.4"/><circle cx="1770.83" cy="287.87" r="4.4"/><circle cx="1774.42" cy="305.46" r="4.4"/><circle cx="1777.89" cy="294.93" r="4.4"/><circle cx="1781.86" cy="313.51" r="4.4"/><circle cx="1785.58" cy="291.84" r="4.4"/><circle cx="1789.42" cy="302.98" r="4.4"/><circle cx="1793.38" cy="1200" r="4.4"/><circle cx="1797.1" cy="337.04" r="4.4"/><circle cx="1801.19" cy="1200" r="4.4"/><circle cx="1808.25" cy="331.47" r="4.4"/><circle cx="1811.97" cy="340.76" r="4.4"/><circle cx="1815.68" cy="325.9" r="4.4"/><circle cx="1818.78" cy="319.08" r="4.4"/></g>
<polyline points="1076.88,227.41 1080.12,226.18 1083.37,224.9 1086.62,223.64 1089.87,222.49 1093.12,221.49 1096.37,220.69 1099.62,219.99 1102.87,219.37 1106.12,218.79 1109.36,218.23 1112.61,217.66 1115.86,217.05 1119.11,216.36 1122.36,215.61 1125.61,214.8 1128.86,213.98 1132.11,213.19 1135.36,212.46 1138.6,211.83 1141.85,211.31 1145.1,210.81 1148.35,210.35 1151.6,209.94 1154.85,209.58 1158.1,209.31 1161.35,209.11 1164.6,208.95 1167.84,208.81 1171.09,208.7 1174.34,208.59 1177.59,208.49 1180.84,208.39 1184.09,208.28 1187.34,208.14 1190.59,207.97 1193.84,207.78 1197.09,207.59 1200.33,207.4 1203.58,207.23 1206.83,207.1 1210.08,207.02 1213.33,207.01 1216.58,207.11 1219.83,207.3 1223.08,207.56 1226.33,207.86 1229.57,208.17 1232.82,208.45 1236.07,208.68 1239.32,208.82 1242.57,208.93 1245.82,209.01 1249.07,209.09 1252.32,209.15 1255.57,209.22 1258.81,209.28 1262.06,209.35 1265.31,209.43 1268.56,209.53 1271.81,209.67 1275.06,209.84 1278.31,210.03 1281.56,210.2 1284.81,210.35 1288.05,210.46 1291.3,210.5 1294.55,210.45 1297.8,210.29 1301.05,210.07 1304.3,209.78 1307.55,209.47 1310.8,209.14 1314.05,208.82 1317.29,208.53 1320.54,208.24 1323.79,207.89 1327.04,207.51 1330.29,207.14 1333.54,206.81 1336.79,206.54 1340.04,206.36 1343.29,206.31 1346.54,206.88 1349.78,208 1353.03,209.07 1356.28,209.5 1359.53,209.16 1362.78,208.47 1366.03,207.8 1369.28,207.5 1372.53,207.81 1375.78,208.61 1379.02,209.71 1382.27,210.93 1385.52,212.09 1388.77,213 1392.02,213.47 1395.27,213.38 1398.52,212.92 1401.77,212.38 1405.02,212.03 1408.26,212.15 1411.51,212.83 1414.76,213.81 1418.01,214.84 1421.26,215.73 1424.51,216.64 1427.76,217.59 1431.01,218.57 1434.26,219.57 1437.5,220.57 1440.75,221.56 1444,222.53 1447.25,223.47 1450.5,224.37 1453.75,225.24 1457,226.1 1460.25,226.97 1463.5,227.87 1466.75,228.83 1469.99,229.85 1473.24,230.97 1476.49,232.23 1479.74,233.6 1482.99,235.04 1486.24,236.52 1489.49,238.12 1492.74,239.8 1495.99,241.44 1499.23,242.95 1502.48,244.37 1505.73,245.71 1508.98,246.98 1512.23,248.16 1515.48,249.29 1518.73,250.43 1521.98,251.62 1525.23,252.83 1528.47,254.03 1531.72,255.25 1534.97,256.48 1538.22,257.72 1541.47,258.98 1544.72,260.24 1547.97,261.51 1551.22,262.78 1554.47,264.04 1557.71,265.31 1560.96,266.58 1564.21,267.86 1567.46,269.16 1570.71,270.49 1573.96,271.85 1577.21,273.24 1580.46,274.68 1583.71,276.16 1586.95,277.71 1590.2,279.37 1593.45,281.12" fill="none" stroke="#777" stroke-width="3" stroke-opacity="0.6"/>
<polyline points="1496.08,220.65 1499.34,221.33 1502.61,222.01 1505.87,222.7 1509.14,223.4 1512.4,224.1 1515.67,224.81 1518.93,225.53 1522.2,226.25 1525.46,226.98 1528.73,227.72 1531.99,228.46 1535.26,229.2 1538.52,229.95 1541.78,230.71 1545.05,231.47 1548.31,232.24 1551.58,233 1554.84,233.77 1558.11,234.55 1561.37,235.33 1564.64,236.11 1567.9,236.9 1571.17,237.69 1574.43,238.5 1577.7,239.31 1580.96,240.13 1584.23,240.97 1587.49,241.82 1590.75,242.68 1594.02,243.56 1597.28,244.45 1600.55,245.36 1603.81,246.27 1607.08,247.19 1610.34,248.13 1613.61,249.09 1616.87,250.06 1620.14,251.06 1623.4,252.07 1626.67,253.12 1629.93,254.19 1633.2,255.28 1636.46,256.44 1639.73,257.69 1642.99,258.97 1646.25,260.25 1649.52,261.48 1652.78,262.66 1656.05,263.81 1659.31,264.94 1662.58,266.06 1665.84,267.19 1669.11,268.33 1672.37,269.51 1675.64,270.72 1678.9,271.99 1682.17,273.32 1685.43,274.72 1688.7,276.2 1691.96,277.74 1695.23,279.34 1698.49,281.01 1701.75,282.73 1705.02,284.52 1708.28,286.37 1711.55,288.28 1714.81,290.25 1718.08,292.28 1721.34,294.37 1724.61,296.54 1727.87,298.81 1731.14,301.19 1734.4,303.66 1737.67,306.23 1740.93,308.88 1744.2,311.6 1747.46,314.39 1750.72,317.25 1753.99,320.17 1757.25,323.14 1760.52,326.14 1763.78,329.18 1767.05,332.27 1770.31,335.41 1773.58,338.64 1776.84,341.96 1780.11,345.39 1783.37,348.95 1786.64,352.66 1789.9,356.54 1793.17,360.6 1796.43,364.86 1799.7,369.55 1802.96,374.79 1806.22,380.42 1809.49,386.26 1812.75,392.15 1816.02,397.93 1819.28,403.43" fill="none" stroke="#ff4a4a" stroke-width="3" stroke-opacity="0.6"/>
<polyline points="1082.93,261 1087.2,260.95 1091.48,260.88 1095.76,260.8 1100.03,260.72 1104.31,260.62 1108.58,260.52 1112.86,260.41 1117.14,260.3 1121.41,260.17 1125.69,260.04 1129.97,259.9 1134.24,259.76 1138.52,259.61 1142.79,259.45 1147.07,259.29 1151.35,259.12 1155.62,258.95 1159.9,258.78 1164.18,258.6 1168.45,258.42 1172.73,258.23 1177,258.04 1181.28,257.85 1185.56,257.65 1189.83,257.46 1194.11,257.26 1198.39,257.05 1202.66,256.84 1206.94,256.61 1211.21,256.38 1215.49,256.13 1219.77,255.88 1224.04,255.62 1228.32,255.34 1232.6,255.06 1236.87,254.76 1241.15,254.46 1245.42,254.14 1249.7,253.81 1253.98,253.48 1258.25,253.13 1262.53,252.77 1266.81,252.4 1271.08,252.02 1275.36,251.63 1279.63,251.23 1283.91,250.81 1288.19,250.39 1292.46,249.95 1296.74,249.43 1301.02,248.81 1305.29,248.1 1309.57,247.35 1313.85,246.56 1318.12,245.77 1322.4,245.01 1326.67,244.29 1330.95,243.65 1335.23,243.12 1339.5,242.71 1343.78,242.42 1348.06,242.16 1352.33,241.9 1356.61,241.66 1360.88,241.43 1365.16,241.23 1369.44,241.04 1373.71,240.89 1377.99,240.76 1382.27,240.67 1386.54,240.61 1390.82,240.59 1395.09,240.59 1399.37,240.59 1403.65,240.59 1407.92,240.59 1412.2,240.59 1416.48,240.59 1420.75,240.59 1425.03,240.59 1429.3,240.61 1433.58,240.8 1437.86,241.16 1442.13,241.65 1446.41,242.23 1450.69,242.88 1454.96,243.56 1459.24,244.23 1463.51,244.88 1467.79,245.56 1472.07,246.31 1476.34,247.11 1480.62,247.95 1484.9,248.84 1489.17,249.75 1493.45,250.68 1497.72,251.61 1502,252.57 1506.28,253.55 1510.55,254.58 1514.83,255.68 1519.11,256.87 1523.38,258.18 1527.66,259.69 1531.93,261.37 1536.21,263.17 1540.49,265.01 1544.76,266.84 1549.04,268.6 1553.32,270.33 1557.59,272.06 1561.87,273.79 1566.14,275.53 1570.42,277.27 1574.7,279.03 1578.97,280.79 1583.25,282.57 1587.53,284.36 1591.8,286.17" fill="none" stroke="#000" stroke-width="3" stroke-dasharray="3 4.95"/>
<polyline points="1496.08,241.79 1499.34,241.92 1502.61,242.06 1505.87,242.22 1509.14,242.38 1512.4,242.54 1515.67,242.72 1518.93,242.9 1522.2,243.09 1525.46,243.29 1528.73,243.5 1531.99,243.71 1535.26,243.93 1538.52,244.15 1541.78,244.38 1545.05,244.62 1548.31,244.87 1551.58,245.14 1554.84,245.41 1558.11,245.69 1561.37,245.99 1564.64,246.31 1567.9,246.63 1571.17,246.98 1574.43,247.34 1577.7,247.72 1580.96,248.14 1584.23,248.59 1587.49,249.06 1590.75,249.56 1594.02,250.09 1597.28,250.65 1600.55,251.22 1603.81,251.82 1607.08,252.45 1610.34,253.09 1613.61,253.75 1616.87,254.43 1620.14,255.13 1623.4,255.84 1626.67,256.57 1629.93,257.36 1633.2,258.22 1636.46,259.13 1639.73,260.09 1642.99,261.09 1646.25,262.1 1649.52,263.13 1652.78,264.16 1656.05,265.19 1659.31,266.22 1662.58,267.27 1665.84,268.34 1669.11,269.43 1672.37,270.57 1675.64,271.74 1678.9,272.97 1682.17,274.25 1685.43,275.6 1688.7,277.02 1691.96,278.5 1695.23,280.06 1698.49,281.68 1701.75,283.37 1705.02,285.12 1708.28,286.94 1711.55,288.82 1714.81,290.76 1718.08,292.76 1721.34,294.82 1724.61,296.96 1727.87,299.22 1731.14,301.59 1734.4,304.06 1737.67,306.63 1740.93,309.28 1744.2,312.01 1747.46,314.82 1750.72,317.68 1753.99,320.61 1757.25,323.58 1760.52,326.59 1763.78,329.63 1767.05,332.71 1770.31,335.86 1773.58,339.08 1776.84,342.4 1780.11,345.83 1783.37,349.39 1786.64,353.11 1789.9,356.98 1793.17,361.04 1796.43,365.3 1799.7,369.99 1802.96,375.23 1806.22,380.86 1809.49,386.7 1812.75,392.59 1816.02,398.37 1819.28,403.87" fill="none" stroke="#f00" stroke-width="3" stroke-dasharray="3 4.95"/>
</g>
<path d="M1084.95 516.36V538.46M1096.75 514.82V536.92M1107.26 493.82V515.92M1117.96 533.82V555.92M1128.77 497.69V519.79M1138.62 528.19V550.29M1147.88 535.26V557.36M1156.68 508.74V530.84M1164.98 517.36V539.46M1172.59 523.37V545.47M1180.49 522.64V544.74M1188.89 533.35V555.45M1196.5 522.35V544.45M1204 530.67V552.77M1211.3 509.86V531.96M1218.31 524.55V546.65M1225.51 511.72V533.82M1233.11 523.78V545.88M1241.02 531.24V553.34M1248.52 530.37V552.47M1253.82 515.86V537.96M1258.82 533.49V555.59M1263.73 505.33V527.43M1268.93 510.94V533.04M1273.83 535.56V557.66M1278.83 514.35V536.45M1284.03 535.71V557.81M1289.34 507.69V529.79M1294.24 540.52V562.62M1298.24 538.65V560.75M1302.38 527.16V549.26M1306.46 531.85V553.95M1310.47 506.23V528.33M1314.43 528.19V550.29M1318.32 516.17V538.27M1322.16 519.84V541.94M1325.94 513.08V535.18M1329.66 512.82V534.92M1333.33 528.8V550.9M1336.94 540.02V562.12M1340.5 522.47V544.57M1344.01 513.44V535.54M1347.46 519.79V541.89M1350.86 524.51V546.61M1354.21 535.44V557.54M1357.51 533.62V555.72M1360.81 550.73V572.83M1364.11 541V563.1M1367.41 514.61V536.71M1370.72 534.48V556.58M1374.02 525V547.1M1377.32 519.38V541.48M1380.62 524.98V547.08M1383.92 520.97V543.07M1387.22 510.97V533.07M1390.52 507.4V529.5M1393.83 511.2V533.3M1397.13 521.28V543.38M1400.43 518.93V541.03M1403.73 521.19V543.29M1407.03 539.39V561.49M1410.33 538.15V560.25M1413.63 523.93V546.03M1416.94 519.62V541.72M1420.24 510.25V532.35M1423.54 519.08V541.18M1426.84 513.88V535.98M1430.14 512.83V534.93M1433.44 523.01V545.11M1436.74 515.25V537.35M1440.05 516.74V538.84M1443.35 498.5V520.6M1446.65 507.69V529.79M1449.95 509.72V531.82M1453.25 523.51V545.61M1456.55 504.38V526.48M1459.85 555.15V577.25M1463.16 555.15V577.25M1466.46 520.78V542.88M1469.76 512.86V534.96M1473.06 528.96V551.06M1476.36 521.32V543.42M1479.66 495.48V517.58M1482.96 509.54V531.64M1486.27 510.49V532.59M1491.61 507.89V529.99M1495.02 516.4V538.5M1498.43 535.16V557.26M1502.32 519.17V541.27M1505.73 516.7V538.8M1508.64 539.16V561.26M1512.05 529.66V551.76M1515.94 519.71V541.81M1519.64 504.17V526.27M1523.05 534.24V556.34M1526.65 514.57V536.67M1530.05 532.74V554.84M1533.46 522.07V544.17M1536.87 511.84V533.94M1540.27 513.84V535.94M1543.68 513V535.1M1547.09 540.26V562.36M1550.78 557.82V579.92M1554.19 537.57V559.67M1557.6 505.26V527.36M1561.2 524.95V547.05M1564.6 531.36V553.46M1568.01 528.93V551.03M1571.41 539.7V561.8M1574.63 538.19V560.29M1577.74 513.23V535.33M1581.15 534.79V556.89M1584.84 501.2V523.3M1587.96 513.1V535.2M1591.37 517.56V539.66" stroke="#000" stroke-opacity="0.32" stroke-width="3.1" fill="none"/>
<path d="M1495.97 520.47V542.57M1510.35 511.27V533.37M1522.81 527.17V549.27M1534.12 517.02V539.12M1544.66 502.64V524.74M1554.25 516.63V538.73M1563.07 490.19V512.29M1570.74 529.09V551.19M1578.41 509.35V531.45M1585.5 508.01V530.11M1593.55 514.72V536.82M1601.8 505.71V527.81M1609.47 518.55V540.65M1616.95 502.26V524.36M1623.46 539.06V561.16M1630.17 517.02V539.12M1636.31 527.17V549.27M1642.25 506.48V528.58M1647.62 538.1V560.2M1653.18 528.13V550.23M1657.97 532.54V554.64M1663.73 534.84V556.94M1669.86 530.05V552.15M1675.23 540.01V562.11M1680.98 517.98V540.08M1686.16 511.46V533.56M1690.95 528.13V550.23M1696.13 514.72V536.82M1700.92 522.38V544.48M1705.91 522.96V545.06M1711.08 518.93V541.03M1716.26 534.84V556.94M1721.24 517.98V540.08M1725.85 512.8V534.9M1729.87 537.71V559.81M1734.09 509.35V531.45M1737.54 510.88V532.98M1741.76 535.41V557.51M1745.59 528.13V550.23M1749.04 522V544.1M1752.3 510.88V532.98M1756.14 531.39V553.49M1759.59 529.09V551.19M1763.81 521.04V543.14M1767.64 519.51V541.61M1771.09 496.51V518.61M1774.74 511.84V533.94M1778.57 500.92V523.02M1782.02 513.76V535.86M1785.47 495.17V517.27M1789.31 505.14V527.24M1793.53 531.01V553.11M1796.98 518.93V541.03M1800.81 522.96V545.06M1804.45 537.71V559.81M1808.29 516.63V538.73M1812.12 517.98V540.08M1815.96 512.8V534.9M1818.83 509.93V532.03" stroke="#ff0000" stroke-opacity="0.31" stroke-width="3.1" fill="none"/>
<rect x="1076.9" y="35" width="742.4" height="442.8" fill="none" stroke="#000" stroke-width="1.8" />
<rect x="1076.9" y="477.8" width="742.4" height="110.5" fill="none" stroke="#000" stroke-width="1.8" />
<line x1="1069.3" y1="35" x2="1076.9" y2="35" stroke="#000" stroke-width="1.7" />
<text x="1060.8" y="43.4" font-size="21" font-family="'DejaVu Sans','Liberation Sans',sans-serif" text-anchor="end">10<tspan font-size="14.7" dx="0.3" dy="-8.19">5</tspan></text>
<line x1="1069.3" y1="123.56" x2="1076.9" y2="123.56" stroke="#000" stroke-width="1.7" />
<text x="1060.8" y="131.96" font-size="21" font-family="'DejaVu Sans','Liberation Sans',sans-serif" text-anchor="end">10<tspan font-size="14.7" dx="0.3" dy="-8.19">3</tspan></text>
<line x1="1069.3" y1="212.12" x2="1076.9" y2="212.12" stroke="#000" stroke-width="1.7" />
<text x="1060.8" y="220.52" font-size="21" font-family="'DejaVu Sans','Liberation Sans',sans-serif" text-anchor="end">10<tspan font-size="14.7" dx="0.3" dy="-8.19">1</tspan></text>
<line x1="1069.3" y1="300.68" x2="1076.9" y2="300.68" stroke="#000" stroke-width="1.7" />
<text x="1060.5" y="309.08" font-size="21" font-family="'DejaVu Sans','Liberation Sans',sans-serif" text-anchor="end">10<tspan font-size="14.7" dx="0.3" dy="-8.19">−1</tspan></text>
<line x1="1069.3" y1="389.24" x2="1076.9" y2="389.24" stroke="#000" stroke-width="1.7" />
<text x="1060.5" y="397.64" font-size="21" font-family="'DejaVu Sans','Liberation Sans',sans-serif" text-anchor="end">10<tspan font-size="14.7" dx="0.3" dy="-8.19">−3</tspan></text>
<line x1="1069.3" y1="477.8" x2="1076.9" y2="477.8" stroke="#000" stroke-width="1.7" />
<text x="1060.5" y="486.2" font-size="21" font-family="'DejaVu Sans','Liberation Sans',sans-serif" text-anchor="end">10<tspan font-size="14.7" dx="0.3" dy="-8.19">−5</tspan></text>
<line x1="1069.3" y1="477.8" x2="1076.9" y2="477.8" stroke="#000" stroke-width="1.7" />
<text x="1061.9" y="488.3" font-size="26.8" font-family="'DejaVu Sans','Liberation Sans',sans-serif" text-anchor="end" fill="#000" >5</text>
<line x1="1069.3" y1="533.05" x2="1076.9" y2="533.05" stroke="#000" stroke-width="1.7" />
<text x="1061.9" y="543.55" font-size="26.8" font-family="'DejaVu Sans','Liberation Sans',sans-serif" text-anchor="end" fill="#000" >0</text>
<line x1="1069.3" y1="588.3" x2="1076.9" y2="588.3" stroke="#000" stroke-width="1.7" />
<text x="1061.9" y="598.8" font-size="26.8" font-family="'DejaVu Sans','Liberation Sans',sans-serif" text-anchor="end" fill="#000" >−5</text>
<line x1="1103.56" y1="588.3" x2="1103.56" y2="595.9" stroke="#000" stroke-width="1.7" />
<text x="1102.96" y="623.5" font-size="26.8" font-family="'DejaVu Sans','Liberation Sans',sans-serif" text-anchor="middle">10<tspan font-size="18.76" dx="1.2" dy="-10.45">1</tspan></text>
<line x1="1378.62" y1="588.3" x2="1378.62" y2="595.9" stroke="#000" stroke-width="1.7" />
<text x="1378.02" y="623.5" font-size="26.8" font-family="'DejaVu Sans','Liberation Sans',sans-serif" text-anchor="middle">10<tspan font-size="18.76" dx="1.2" dy="-10.45">2</tspan></text>
<line x1="1653.69" y1="588.3" x2="1653.69" y2="595.9" stroke="#000" stroke-width="1.7" />
<text x="1653.09" y="623.5" font-size="26.8" font-family="'DejaVu Sans','Liberation Sans',sans-serif" text-anchor="middle">10<tspan font-size="18.76" dx="1.2" dy="-10.45">3</tspan></text>
<line x1="1076.9" y1="588.3" x2="1076.9" y2="592.5" stroke="#000" stroke-width="1.2" />
<line x1="1090.97" y1="588.3" x2="1090.97" y2="592.5" stroke="#000" stroke-width="1.2" />
<line x1="1186.36" y1="588.3" x2="1186.36" y2="592.5" stroke="#000" stroke-width="1.2" />
<line x1="1234.8" y1="588.3" x2="1234.8" y2="592.5" stroke="#000" stroke-width="1.2" />
<line x1="1269.16" y1="588.3" x2="1269.16" y2="592.5" stroke="#000" stroke-width="1.2" />
<line x1="1295.82" y1="588.3" x2="1295.82" y2="592.5" stroke="#000" stroke-width="1.2" />
<line x1="1317.6" y1="588.3" x2="1317.6" y2="592.5" stroke="#000" stroke-width="1.2" />
<line x1="1336.02" y1="588.3" x2="1336.02" y2="592.5" stroke="#000" stroke-width="1.2" />
<line x1="1351.97" y1="588.3" x2="1351.97" y2="592.5" stroke="#000" stroke-width="1.2" />
<line x1="1366.04" y1="588.3" x2="1366.04" y2="592.5" stroke="#000" stroke-width="1.2" />
<line x1="1461.43" y1="588.3" x2="1461.43" y2="592.5" stroke="#000" stroke-width="1.2" />
<line x1="1509.87" y1="588.3" x2="1509.87" y2="592.5" stroke="#000" stroke-width="1.2" />
<line x1="1544.23" y1="588.3" x2="1544.23" y2="592.5" stroke="#000" stroke-width="1.2" />
<line x1="1570.89" y1="588.3" x2="1570.89" y2="592.5" stroke="#000" stroke-width="1.2" />
<line x1="1592.67" y1="588.3" x2="1592.67" y2="592.5" stroke="#000" stroke-width="1.2" />
<line x1="1611.08" y1="588.3" x2="1611.08" y2="592.5" stroke="#000" stroke-width="1.2" />
<line x1="1627.04" y1="588.3" x2="1627.04" y2="592.5" stroke="#000" stroke-width="1.2" />
<line x1="1641.11" y1="588.3" x2="1641.11" y2="592.5" stroke="#000" stroke-width="1.2" />
<line x1="1736.5" y1="588.3" x2="1736.5" y2="592.5" stroke="#000" stroke-width="1.2" />
<line x1="1784.93" y1="588.3" x2="1784.93" y2="592.5" stroke="#000" stroke-width="1.2" />
<line x1="1819.3" y1="588.3" x2="1819.3" y2="592.5" stroke="#000" stroke-width="1.2" />
<text x="1448.1" y="22.9" font-size="31" font-family="'DejaVu Sans','Liberation Sans',sans-serif" text-anchor="middle" fill="#000" >BBBAND</text>
<text x="1448.1" y="661.8" font-size="31" font-family="'DejaVu Sans','Liberation Sans',sans-serif" text-anchor="middle" fill="#000" >Energy(keV)</text>
<text transform="translate(995.9,256.4) rotate(-90)" font-size="31" font-family="'DejaVu Sans','Liberation Sans',sans-serif" text-anchor="middle">Counts Rate(<tspan font-style="oblique">s</tspan><tspan font-size="21.7" dy="-12" dx="2.4">−1</tspan><tspan font-style="oblique" dy="12" dx="2">kev</tspan><tspan font-size="21.7" dy="-12" dx="2.4">−1</tspan><tspan dy="12" dx="2">)</tspan></text>
<text transform="translate(1008.1,533.35) rotate(-90)" font-size="31" font-family="'DejaVu Sans','Liberation Sans',sans-serif" text-anchor="middle">resid</text>
<g font-family="'Liberation Serif','DejaVu Serif',serif" font-size="34.71" fill="#000">
<text x="1132.4" y="107.2" textLength="43.6" lengthAdjust="spacingAndGlyphs">(b)</text>
<text x="1189.3" y="107.2" textLength="76.5" lengthAdjust="spacingAndGlyphs">GRB</text>
<text x="1278.1" y="107.2" textLength="127.5" lengthAdjust="spacingAndGlyphs">210121A</text>
</g>
<g font-family="'Liberation Serif','DejaVu Serif',serif" font-size="34.71" fill="#000">
<text x="1129.8" y="144.6" font-style="italic" textLength="21.5" lengthAdjust="spacingAndGlyphs">T</text>
<text x="1152.1" y="149.8" font-size="24.26">0</text>
<text x="1175.3" y="144.6" textLength="24.5" lengthAdjust="spacingAndGlyphs">+</text>
<text x="1210.2" y="144.6" textLength="182" lengthAdjust="spacingAndGlyphs">[−0.01, 2.19]</text>
<text x="1405" y="144.6">s</text>
</g>
<rect x="1461.8" y="50.8" width="342.6" height="191.8" rx="4.5" ry="4.5" fill="#fff" fill-opacity="0.8" stroke="#ccc" stroke-opacity="0.8" stroke-width="1.6"/>
<line x1="1474" y1="76" x2="1536" y2="76" stroke="#000" stroke-width="3" stroke-dasharray="3 5"/>
<line x1="1474" y1="121.3" x2="1536" y2="121.3" stroke="#f00" stroke-width="3" stroke-dasharray="3 5"/>
<line x1="1505.8" y1="151.4" x2="1505.8" y2="182.6" stroke="#000" stroke-opacity="0.31" stroke-width="3.4"/>
<circle cx="1505.8" cy="167" r="4.4" fill="#000" fill-opacity="0.32"/>
<line x1="1505.8" y1="196.9" x2="1505.8" y2="228.1" stroke="#ff0000" stroke-opacity="0.31" stroke-width="3.4"/>
<circle cx="1505.8" cy="212.5" r="4.4" fill="#ff0000" fill-opacity="0.33"/>
<text x="1563.2" y="85.9" font-size="31" font-family="'DejaVu Sans','Liberation Sans',sans-serif" text-anchor="start" fill="#000" >BB component</text>
<text x="1563.2" y="131.7" font-size="31" font-family="'DejaVu Sans','Liberation Sans',sans-serif" text-anchor="start" fill="#000" >BB component</text>
<text x="1563.2" y="177.3" font-size="31" font-family="'DejaVu Sans','Liberation Sans',sans-serif" text-anchor="start" fill="#000" >Fermi/GBM n0</text>
<text x="1563.2" y="223" font-size="31" font-family="'DejaVu Sans','Liberation Sans',sans-serif" text-anchor="start" fill="#000" >Fermi/GBM b0</text>
<text x="1152.3" y="312.3" font-size="31" font-family="'DejaVu Sans','Liberation Sans',sans-serif" text-anchor="start" fill="#000" >Model: BBBAND,</text>
<text x="1152.3" y="347.7" font-size="31" font-family="'DejaVu Sans','Liberation Sans',sans-serif" text-anchor="start" fill="#000" > BIC=217.62</text>
<text x="1152.3" y="387.8" font-size="31" font-family="'DejaVu Sans','Liberation Sans',sans-serif">, <tspan font-style="oblique">χ</tspan><tspan font-size="21.7" dy="-12">2</tspan><tspan dy="12" dx="1">/n.d.o.f=203.87/190</tspan></text>
<!-- panel c -->
<clipPath id="clipc"><rect x="119.5" y="718.5" width="742.3" height="589.5"/></clipPath>
<g clip-path="url(#clipc)">
<polyline points="119.48,1123.29 121.96,1121.76 124.44,1120.21 126.92,1118.65 129.41,1117.09 131.89,1115.52 134.37,1113.95 136.85,1112.39 139.34,1110.83 141.82,1109.27 144.3,1107.73 146.78,1106.2 149.27,1104.68 151.75,1103.17 154.23,1101.66 156.71,1100.16 159.2,1098.67 161.68,1097.18 164.16,1095.69 166.65,1094.21 169.13,1092.73 171.61,1091.25 174.09,1089.78 176.58,1088.3 179.06,1086.83 181.54,1085.35 184.02,1083.88 186.51,1082.4 188.99,1080.92 191.47,1079.44 193.95,1077.95 196.44,1076.46 198.92,1074.96 201.4,1073.46 203.88,1071.96 206.37,1070.44 208.85,1068.92 211.33,1067.39 213.82,1065.85 216.3,1064.31 218.78,1062.75 221.26,1061.19 223.75,1059.62 226.23,1058.05 228.71,1056.48 231.19,1054.9 233.68,1053.32 236.16,1051.74 238.64,1050.15 241.12,1048.57 243.61,1046.98 246.09,1045.4 248.57,1043.82 251.05,1042.25 253.54,1040.67 256.02,1039.1 258.5,1037.54 260.99,1035.98 263.47,1034.43 265.95,1032.89 268.43,1031.35 270.92,1029.83 273.4,1028.31 275.88,1026.81 278.36,1025.31 280.85,1023.82 283.33,1022.33 285.81,1020.84 288.29,1019.35 290.78,1017.86 293.26,1016.38 295.74,1014.89 298.23,1013.41 300.71,1011.93 303.19,1010.45 305.67,1008.98 308.16,1007.5 310.64,1006.03 313.12,1004.56 315.6,1003.09 318.09,1001.62 320.57,1000.16 323.05,998.7 325.53,997.24 328.02,995.79 330.5,994.33 332.98,992.88 335.46,991.43 337.95,989.99 340.43,988.55 342.91,987.11 345.4,985.67 347.88,984.24 350.36,982.81 352.84,981.39 355.33,979.96 357.81,978.54 360.29,977.13 362.77,975.72 365.26,974.31 367.74,972.91 370.22,971.51 372.7,970.11 375.19,968.72 377.67,967.33 380.15,965.95 382.63,964.57 385.12,963.2 387.6,961.83 390.08,960.46 392.57,959.1 395.05,957.75 397.53,956.4 400.01,955.05 402.5,953.71 404.98,952.38 407.46,951.04 409.94,949.72 412.43,948.4 414.91,947.09 417.39,945.78 419.87,944.47 422.36,943.17 424.84,941.88 427.32,940.58 429.8,939.28 432.29,937.99 434.77,936.7 437.25,935.4 439.74,934.11 442.22,932.82 444.7,931.54 447.18,930.25 449.67,928.97 452.15,927.69 454.63,926.41 457.11,925.14 459.6,923.87 462.08,922.6 464.56,921.33 467.04,920.07 469.53,918.81 472.01,917.56 474.49,916.31 476.97,915.07 479.46,913.83 481.94,912.6 484.42,911.37 486.91,910.14 489.39,908.92 491.87,907.71 494.35,906.5 496.84,905.3 499.32,904.11 501.8,902.92 504.28,901.73 506.77,900.56 509.25,899.39 511.73,898.23 514.21,897.08 516.7,895.93 519.18,894.79 521.66,893.66 524.14,892.54 526.63,891.43 529.11,890.32 531.59,889.22 534.08,888.14 536.56,887.06 539.04,885.99 541.52,884.93 544.01,883.88 546.49,882.84 548.97,881.81 551.45,880.79 553.94,879.78 556.42,878.76 558.9,877.72 561.38,876.69 563.87,875.64 566.35,874.59 568.83,873.54 571.32,872.49 573.8,871.45 576.28,870.4 578.76,869.36 581.25,868.32 583.73,867.3 586.21,866.28 588.69,865.28 591.18,864.28 593.66,863.31 596.14,862.35 598.62,861.4 601.11,860.48 603.59,859.58 606.07,858.7 608.55,857.85 611.04,857.03 613.52,856.23 616,855.46 618.49,854.73 620.97,854.03 623.45,853.36 625.93,852.73 628.42,852.14 630.9,851.59 633.38,851.08 635.86,850.62 638.35,850.16 640.83,849.7 643.31,849.24 645.79,848.79 648.28,848.34 650.76,847.9 653.24,847.46 655.72,847.04 658.21,846.62 660.69,846.22 663.17,845.84 665.66,845.47 668.14,845.12 670.62,844.79 673.1,844.48 675.59,844.2 678.07,843.94 680.55,843.71 683.03,843.5 685.52,843.33 688,843.19 690.48,843.09 692.96,843.02 695.45,842.98 697.93,843 700.41,843.06 702.89,843.16 705.38,843.32 707.86,843.51 710.34,843.75 712.83,844.02 715.31,844.33 717.79,844.67 720.27,845.04 722.76,845.44 725.24,845.86 727.72,846.3 730.2,846.76 732.69,847.24 735.17,847.73 737.65,848.23 740.13,848.81 742.62,849.51 745.1,850.34 747.58,851.28 750.06,852.32 752.55,853.46 755.03,854.7 757.51,856.01 760,857.41 762.48,858.88 764.96,860.42 767.44,862.01 769.93,863.66 772.41,865.35 774.89,867.08 777.37,868.84 779.86,870.63 782.34,872.53 784.82,874.56 787.3,876.72 789.79,879.01 792.27,881.42 794.75,883.95 797.23,886.6 799.72,889.36 802.2,892.24 804.68,895.22 807.17,898.31 809.65,901.51 812.13,904.81 814.61,908.21 817.1,911.7 819.58,915.29 822.06,918.97 824.54,922.74 827.03,926.59 829.51,930.64 831.99,935.07 834.47,939.84 836.96,944.92 839.44,950.27 841.92,955.85 844.41,961.62 846.89,967.54 849.37,973.57 851.85,979.68 854.34,985.83 856.82,991.97 859.3,998.08 861.78,1004.11" fill="none" stroke="#f00" stroke-width="4.3" stroke-dasharray="15.5 6.7"/>
<path d="M127.55 1094.11V1134.94M121.65 1110.31H133.45M139.35 1085.3V1122.57M133.77 1099.28H144.93M149.85 1061.96V1070.39M144.55 1065.95H155.16M160.56 1102.47V1242.48M155.18 1130.21H165.93M171.36 1058.77V1067.65M166.2 1062.99H176.52M181.21 1080.39V1128.54M176.44 1097.92H185.99M190.47 1083.77V1153.88M185.95 1107.07H194.98M199.27 1055.19V1064.51M194.99 1059.63H203.55M207.57 1054.77V1079.63M203.6 1064.98H211.55M215.17 1053.58V1084.42M211.3 1066.9H219.05M223.08 1047.84V1076.91M219 1060.93H227.15M231.48 1055.02V1086.97M227.48 1068.11H235.48M239.08 1039.4V1064.02M235.3 1050.27H242.86M246.58 1042.85V1069.03M242.88 1054.39H250.28M253.88 1024.47V1039.11M250.31 1031.35H257.46M260.89 1029.39V1048.47M257.34 1038.26H264.44M268.09 1017.62V1031.82M264.39 1024.27H271.79M275.69 1020.32V1040.74M271.82 1028.31H279.57M283.59 1020.66V1045.29M279.74 1030.87H287.44M291.1 1015.73V1037.48M287.89 1024.39H294.3M296.4 1004.78V1017.43M293.82 1010.77H298.97M301.4 1012.01V1041.07M298.92 1026.65H303.87M306.3 994.42V1005.3M303.77 999.53H308.83M311.5 994.1V1005.42M308.98 999.43H314.03M316.4 1004.89V1028.19M313.93 1016.65H318.88M321.4 990.23V1001.32M318.85 995.55H323.96M326.61 998.12V1012.32M323.98 1004.99H329.23M331.91 981.34V991.55M329.36 986.22H334.46M336.81 994.74V1009.17M334.58 1001.62H339.03M340.81 990.43V999.93M338.78 994.92H342.85M344.95 983.82V992.33M342.9 987.87H347M349.02 983.14V992.03M347 987.35H351.05M353.04 972.42V979.57M351.05 975.85H355.03M356.99 977.26V985.86M355.03 981.34H358.96M360.89 971.01V978.75M358.96 974.7H362.82M364.73 970.02V978M362.82 973.82H366.63M368.51 965.71V973.26M366.63 969.32H370.38M372.23 963.54V971.07M370.38 967.14H374.08M375.9 966.79V975.43M374.08 970.89H377.72M379.51 968.95V978.58M377.72 973.49H381.3M383.07 960.62V968.78M381.3 964.51H384.83M386.57 955.75V963.32M384.83 959.37H388.31M390.02 955.89V963.87M388.31 959.69H391.74M393.42 955.61V963.92M391.73 959.57H395.11M396.77 957.69V966.9M395.11 962.05H398.43M400.07 955.23V964.27M398.42 959.51H401.72M403.37 960.27V971.1M401.72 965.34H405.02M406.67 954.49V964.22M405.02 959.08H408.32M409.98 943.42V951.07M408.32 947.08H411.63M413.28 948.48V957.59M411.63 952.79H414.93M416.58 943.35V951.7M414.93 947.32H418.23M419.88 939.73V947.68M418.23 943.52H421.53M423.18 939.88V948.23M421.53 943.85H424.83M426.48 936.8V944.86M424.83 940.64H428.13M429.78 931.88V939.3M428.13 935.43H431.43M433.08 929.07V936.29M431.43 932.53H434.73M436.38 928.51V935.95M434.73 932.07H438.03M439.68 930.03V938.11M438.03 933.88H441.33M442.98 927.54V935.46M441.33 931.32H444.64M446.29 926.57V934.65M444.64 930.42H447.94M449.59 931.4V940.97M447.94 935.92H451.24M452.89 929.22V938.67M451.24 933.69H454.54M456.19 922.39V930.66M454.54 926.33H457.84M459.49 919.26V927.22M457.84 923.06H461.14M462.79 914.6V921.98M461.14 918.13H464.44M466.09 915.72V923.65M464.44 919.5H467.74M469.39 912.37V919.97M467.74 916H471.04M472.69 910.38V917.91M471.04 913.98H474.34M475.99 912.03V920.23M474.34 915.93H477.64M479.3 907.83V915.52M477.64 911.5H480.95M482.6 906.54V914.5M480.95 910.34H484.25M485.9 898.96V906.05M484.25 902.36H487.55M489.2 899.89V907.73M487.55 903.63H490.85M492.5 898.69V906.9M490.85 902.6H494.15M495.8 901.91V911.53M494.15 906.45H497.45M499.1 893.17V901.41M497.45 897.09H500.75M502.4 914.02V929.61M500.75 921.11H504.05M505.7 912.82V929.11M504.05 920.19H507.35M509 894.01V904.48M507.35 898.93H510.65M512.31 889.06V898.91M510.65 893.7H513.96M515.61 894.42V906.63M513.96 900.09H517.26M518.91 889.26V900.64M517.26 894.57H520.56M522.21 877.1V885.93M520.56 881.29H523.86M525.51 880.79V891.17M523.86 885.66H527.16M528.81 879.49V890.2M526.65 884.51H530.97M534.16 867.78V884.42M531.97 875.55H536.35M537.56 874.31V890.95M535.86 882.07H539.27M540.97 886.5V903.14M539.15 894.27H542.79M544.86 873.51V890.15M543.04 881.28H546.69M548.27 870.05V886.69M546.67 877.81H549.87M551.19 884.66V901.3M549.59 892.42H552.79M554.59 877.27V893.91M552.77 885.04H556.42M558.48 868.33V884.97M556.59 876.09H560.38M562.18 851.99V868.63M560.41 859.76H563.96M565.59 876.05V903.03M563.84 888.35H567.34M569.19 859.48V876.12M567.44 867.25H570.94M572.59 871.62V905.07M570.89 885.65H574.3M576 862.81V879.45M574.3 870.57H577.7M579.41 852.68V869.32M577.7 860.44H581.11M582.81 853.11V869.75M581.11 860.88H584.51M586.22 850.94V867.58M584.51 858.71H587.92M589.62 871.64V899.69M587.85 884.59H591.4M593.32 884.24V931.72M591.54 898.26H595.1M596.73 867.03V899.41M595.02 882.14H598.43M600.13 836.91V854.18M598.38 844.9H601.88M603.73 851.9V875.64M601.98 862.69H605.48M607.14 856.35V899.52M605.43 871.46H608.84M610.54 852.16V888.86M608.84 867.27H612.25M613.95 865.24V981.79M612.29 886.82H615.6M617.16 862.34V981.05M615.56 883.93H618.76M620.27 827.17V855.23M618.64 840.12H621.9M623.68 855.26V913.54M621.9 870.37H625.45M627.38 820.34V841.93M625.67 828.98H629.08M630.49 827.06V852.96M628.86 838.93H632.12M633.9 833.22V865.6M632.19 845.09H635.6" stroke="#0000ff" stroke-opacity="0.3" stroke-width="2" fill="none"/>
<g fill="#0000ff" fill-opacity="0.3" stroke="#0000ff" stroke-opacity="0.18" stroke-width="1"><circle cx="127.55" cy="1110.31" r="5.6"/><circle cx="139.35" cy="1099.28" r="5.6"/><circle cx="149.85" cy="1065.95" r="5.6"/><circle cx="160.56" cy="1130.21" r="5.6"/><circle cx="171.36" cy="1062.99" r="5.6"/><circle cx="181.21" cy="1097.92" r="5.6"/><circle cx="190.47" cy="1107.07" r="5.6"/><circle cx="199.27" cy="1059.63" r="5.6"/><circle cx="207.57" cy="1064.98" r="5.6"/><circle cx="215.17" cy="1066.9" r="5.6"/><circle cx="223.08" cy="1060.93" r="5.6"/><circle cx="231.48" cy="1068.11" r="5.6"/><circle cx="239.08" cy="1050.27" r="5.6"/><circle cx="246.58" cy="1054.39" r="5.6"/><circle cx="253.88" cy="1031.35" r="5.6"/><circle cx="260.89" cy="1038.26" r="5.6"/><circle cx="268.09" cy="1024.27" r="5.6"/><circle cx="275.69" cy="1028.31" r="5.6"/><circle cx="283.59" cy="1030.87" r="5.6"/><circle cx="291.1" cy="1024.39" r="5.6"/><circle cx="296.4" cy="1010.77" r="5.6"/><circle cx="301.4" cy="1026.65" r="5.6"/><circle cx="306.3" cy="999.53" r="5.6"/><circle cx="311.5" cy="999.43" r="5.6"/><circle cx="316.4" cy="1016.65" r="5.6"/><circle cx="321.4" cy="995.55" r="5.6"/><circle cx="326.61" cy="1004.99" r="5.6"/><circle cx="331.91" cy="986.22" r="5.6"/><circle cx="336.81" cy="1001.62" r="5.6"/><circle cx="340.81" cy="994.92" r="5.6"/><circle cx="344.95" cy="987.87" r="5.6"/><circle cx="349.02" cy="987.35" r="5.6"/><circle cx="353.04" cy="975.85" r="5.6"/><circle cx="356.99" cy="981.34" r="5.6"/><circle cx="360.89" cy="974.7" r="5.6"/><circle cx="364.73" cy="973.82" r="5.6"/><circle cx="368.51" cy="969.32" r="5.6"/><circle cx="372.23" cy="967.14" r="5.6"/><circle cx="375.9" cy="970.89" r="5.6"/><circle cx="379.51" cy="973.49" r="5.6"/><circle cx="383.07" cy="964.51" r="5.6"/><circle cx="386.57" cy="959.37" r="5.6"/><circle cx="390.02" cy="959.69" r="5.6"/><circle cx="393.42" cy="959.57" r="5.6"/><circle cx="396.77" cy="962.05" r="5.6"/><circle cx="400.07" cy="959.51" r="5.6"/><circle cx="403.37" cy="965.34" r="5.6"/><circle cx="406.67" cy="959.08" r="5.6"/><circle cx="409.98" cy="947.08" r="5.6"/><circle cx="413.28" cy="952.79" r="5.6"/><circle cx="416.58" cy="947.32" r="5.6"/><circle cx="419.88" cy="943.52" r="5.6"/><circle cx="423.18" cy="943.85" r="5.6"/><circle cx="426.48" cy="940.64" r="5.6"/><circle cx="429.78" cy="935.43" r="5.6"/><circle cx="433.08" cy="932.53" r="5.6"/><circle cx="436.38" cy="932.07" r="5.6"/><circle cx="439.68" cy="933.88" r="5.6"/><circle cx="442.98" cy="931.32" r="5.6"/><circle cx="446.29" cy="930.42" r="5.6"/><circle cx="449.59" cy="935.92" r="5.6"/><circle cx="452.89" cy="933.69" r="5.6"/><circle cx="456.19" cy="926.33" r="5.6"/><circle cx="459.49" cy="923.06" r="5.6"/><circle cx="462.79" cy="918.13" r="5.6"/><circle cx="466.09" cy="919.5" r="5.6"/><circle cx="469.39" cy="916" r="5.6"/><circle cx="472.69" cy="913.98" r="5.6"/><circle cx="475.99" cy="915.93" r="5.6"/><circle cx="479.3" cy="911.5" r="5.6"/><circle cx="482.6" cy="910.34" r="5.6"/><circle cx="485.9" cy="902.36" r="5.6"/><circle cx="489.2" cy="903.63" r="5.6"/><circle cx="492.5" cy="902.6" r="5.6"/><circle cx="495.8" cy="906.45" r="5.6"/><circle cx="499.1" cy="897.09" r="5.6"/><circle cx="502.4" cy="921.11" r="5.6"/><circle cx="505.7" cy="920.19" r="5.6"/><circle cx="509" cy="898.93" r="5.6"/><circle cx="512.31" cy="893.7" r="5.6"/><circle cx="515.61" cy="900.09" r="5.6"/><circle cx="518.91" cy="894.57" r="5.6"/><circle cx="522.21" cy="881.29" r="5.6"/><circle cx="525.51" cy="885.66" r="5.6"/><circle cx="528.81" cy="884.51" r="5.6"/><circle cx="534.16" cy="875.55" r="5.6"/><circle cx="537.56" cy="882.07" r="5.6"/><circle cx="540.97" cy="894.27" r="5.6"/><circle cx="544.86" cy="881.28" r="5.6"/><circle cx="548.27" cy="877.81" r="5.6"/><circle cx="551.19" cy="892.42" r="5.6"/><circle cx="554.59" cy="885.04" r="5.6"/><circle cx="558.48" cy="876.09" r="5.6"/><circle cx="562.18" cy="859.76" r="5.6"/><circle cx="565.59" cy="888.35" r="5.6"/><circle cx="569.19" cy="867.25" r="5.6"/><circle cx="572.59" cy="885.65" r="5.6"/><circle cx="576" cy="870.57" r="5.6"/><circle cx="579.41" cy="860.44" r="5.6"/><circle cx="582.81" cy="860.88" r="5.6"/><circle cx="586.22" cy="858.71" r="5.6"/><circle cx="589.62" cy="884.59" r="5.6"/><circle cx="593.32" cy="898.26" r="5.6"/><circle cx="596.73" cy="882.14" r="5.6"/><circle cx="600.13" cy="844.9" r="5.6"/><circle cx="603.73" cy="862.69" r="5.6"/><circle cx="607.14" cy="871.46" r="5.6"/><circle cx="610.54" cy="867.27" r="5.6"/><circle cx="613.95" cy="886.82" r="5.6"/><circle cx="617.16" cy="883.93" r="5.6"/><circle cx="620.27" cy="840.12" r="5.6"/><circle cx="623.68" cy="870.37" r="5.6"/><circle cx="627.38" cy="828.98" r="5.6"/><circle cx="630.49" cy="838.93" r="5.6"/><circle cx="633.9" cy="845.09" r="5.6"/></g>
<path d="M538.83 883.47V889.19M531.77 886.13H545.88M552.94 875.79V882.31M546.2 878.83H559.68M565.78 873.75V881.06M559.77 877.15H571.79M576.97 866.06V874.17M571.57 869.83H582.37M587.38 854.96V863.87M582.45 859.11H592.32M596.73 857.05V866.75M592.15 861.56H601.3M605.68 839.39V849.88M601.49 844.27H609.86M613.46 855.98V867.27M609.57 861.24H617.35M621.25 840.83V852.92M617.52 846.45H624.97M628.35 838.09V850.97M624.58 844.08H632.12M636.33 840.89V854.57M632.27 847.25H640.39M644.6 833.95V848.42M640.71 840.68H648.49M651.9 839.54V854.81M648.18 846.64H655.62M659.49 827.74V843.81M655.96 835.21H663.01M666.01 850.84V867.69M662.67 858.68H669.34M672.82 832.8V850.45M669.61 841.01H676.03M678.85 837.5V855.94M675.81 846.08H681.89M684.98 821.67V840.91M681.81 830.62H688.16M691.55 844.86V869.6M688.83 857.23H694.28M695.89 835.81V857.79M693.57 845.43H698.21M700.84 840.29V870.51M698.21 854.03H703.48M706.42 844.58V880.3M703.54 858.32H709.3M712.37 841.9V873.5M709.49 854.27H715.25M717.94 854.58V916.41M715.09 875.19H720.79M723.76 827.06V854.54M721.07 838.05H726.46M728.72 821.87V845.23M726.33 831.49H731.1M733.3 841.48V897.82M730.89 862.09H735.72M738.38 824.73V859.09M735.87 837.1H740.89M743.34 832.89V883.73M740.86 852.13H745.82M748.29 835.72V890.68M745.66 853.58H750.93M753.87 831.29V882.13M751.17 849.16H756.56M759.07 849.2V1313M756.59 927.52H761.55M763.78 829.01V893.59M761.52 846.87H766.04M768.12 821.34V872.18M765.95 839.2H770.28M772.45 892.25V1313M770.44 2862.8H774.47M776.17 813.44V863.45M774.16 829.1H778.18M780.51 813.77V864.61M778.52 831.64H782.49M784.1 894V1313M782.33 2851.36H785.86M787.57 865.88V1313M785.62 2847.97H789.52M791.9 861.78V1313M790.05 881.01H793.76M795 809.48V1313M793.3 832.84H796.7M798.72 874.92V1313M797.01 2837.77H800.42M801.81 865.45V1313M799.96 2835.18H803.67M806.15 833.09V1313M804.23 886.68H808.07M809.5 829.07V1313M807.7 877.16H811.29M813.34 787.59V824.69M811.48 802.15H815.2M816.93 810.9V945.55M815.16 838.38H818.69M820.4 794.44V1313M818.54 812.3H822.26M824.36 818.79V1313M822.44 850.39H826.28M828.08 786.95V818.55M826.19 799.32H829.97M831.92 802.14V865.35M829.97 821.38H833.87M835.88 901.62V1313M833.96 2809.51H837.81M839.6 832.58V1313M837.65 893.04H841.55M843.69 848.41V1313M840.9 2805.76H846.48M850.75 829.1V1313M848.06 874.45H853.45M854.47 834.96V1313M852.61 892.67H856.33M858.19 824.31V1313M856.48 857.28H859.89M861.28 816.85V952.88M859.68 840.21H862.88" stroke="#ffa500" stroke-opacity="0.3" stroke-width="2" fill="none"/>
<g fill="#ffa500" fill-opacity="0.3" stroke="#ffa500" stroke-opacity="0.18" stroke-width="1"><circle cx="538.83" cy="886.13" r="5.6"/><circle cx="552.94" cy="878.83" r="5.6"/><circle cx="565.78" cy="877.15" r="5.6"/><circle cx="576.97" cy="869.83" r="5.6"/><circle cx="587.38" cy="859.11" r="5.6"/><circle cx="596.73" cy="861.56" r="5.6"/><circle cx="605.68" cy="844.27" r="5.6"/><circle cx="613.46" cy="861.24" r="5.6"/><circle cx="621.25" cy="846.45" r="5.6"/><circle cx="628.35" cy="844.08" r="5.6"/><circle cx="636.33" cy="847.25" r="5.6"/><circle cx="644.6" cy="840.68" r="5.6"/><circle cx="651.9" cy="846.64" r="5.6"/><circle cx="659.49" cy="835.21" r="5.6"/><circle cx="666.01" cy="858.68" r="5.6"/><circle cx="672.82" cy="841.01" r="5.6"/><circle cx="678.85" cy="846.08" r="5.6"/><circle cx="684.98" cy="830.62" r="5.6"/><circle cx="691.55" cy="857.23" r="5.6"/><circle cx="695.89" cy="845.43" r="5.6"/><circle cx="700.84" cy="854.03" r="5.6"/><circle cx="706.42" cy="858.32" r="5.6"/><circle cx="712.37" cy="854.27" r="5.6"/><circle cx="717.94" cy="875.19" r="5.6"/><circle cx="723.76" cy="838.05" r="5.6"/><circle cx="728.72" cy="831.49" r="5.6"/><circle cx="733.3" cy="862.09" r="5.6"/><circle cx="738.38" cy="837.1" r="5.6"/><circle cx="743.34" cy="852.13" r="5.6"/><circle cx="748.29" cy="853.58" r="5.6"/><circle cx="753.87" cy="849.16" r="5.6"/><circle cx="759.07" cy="927.52" r="5.6"/><circle cx="763.78" cy="846.87" r="5.6"/><circle cx="768.12" cy="839.2" r="5.6"/><circle cx="772.45" cy="2862.8" r="5.6"/><circle cx="776.17" cy="829.1" r="5.6"/><circle cx="780.51" cy="831.64" r="5.6"/><circle cx="784.1" cy="2851.36" r="5.6"/><circle cx="787.57" cy="2847.97" r="5.6"/><circle cx="791.9" cy="881.01" r="5.6"/><circle cx="795" cy="832.84" r="5.6"/><circle cx="798.72" cy="2837.77" r="5.6"/><circle cx="801.81" cy="2835.18" r="5.6"/><circle cx="806.15" cy="886.68" r="5.6"/><circle cx="809.5" cy="877.16" r="5.6"/><circle cx="813.34" cy="802.15" r="5.6"/><circle cx="816.93" cy="838.38" r="5.6"/><circle cx="820.4" cy="812.3" r="5.6"/><circle cx="824.36" cy="850.39" r="5.6"/><circle cx="828.08" cy="799.32" r="5.6"/><circle cx="831.92" cy="821.38" r="5.6"/><circle cx="835.88" cy="2809.51" r="5.6"/><circle cx="839.6" cy="893.04" r="5.6"/><circle cx="843.69" cy="2805.76" r="5.6"/><circle cx="850.75" cy="874.45" r="5.6"/><circle cx="854.47" cy="892.67" r="5.6"/><circle cx="858.19" cy="857.28" r="5.6"/><circle cx="861.28" cy="840.21" r="5.6"/></g>
</g>
<rect x="119.5" y="718.5" width="742.3" height="589.5" fill="none" stroke="#262626" stroke-width="1.15" />
<line x1="114.5" y1="1308" x2="119.5" y2="1308" stroke="#262626" stroke-width="1.15" />
<text x="108.6" y="1318.4" font-size="26.8" font-family="'DejaVu Sans','Liberation Sans',sans-serif" text-anchor="end">10<tspan font-size="18.76" dx="-0.4" dy="-10.05">−1</tspan></text>
<line x1="114.5" y1="1209.75" x2="119.5" y2="1209.75" stroke="#262626" stroke-width="1.15" />
<text x="108.6" y="1220.15" font-size="26.8" font-family="'DejaVu Sans','Liberation Sans',sans-serif" text-anchor="end">10<tspan font-size="18.76" dx="-0.4" dy="-10.05">0</tspan></text>
<line x1="114.5" y1="1111.5" x2="119.5" y2="1111.5" stroke="#262626" stroke-width="1.15" />
<text x="108.6" y="1121.9" font-size="26.8" font-family="'DejaVu Sans','Liberation Sans',sans-serif" text-anchor="end">10<tspan font-size="18.76" dx="-0.4" dy="-10.05">1</tspan></text>
<line x1="114.5" y1="1013.25" x2="119.5" y2="1013.25" stroke="#262626" stroke-width="1.15" />
<text x="108.6" y="1023.65" font-size="26.8" font-family="'DejaVu Sans','Liberation Sans',sans-serif" text-anchor="end">10<tspan font-size="18.76" dx="-0.4" dy="-10.05">2</tspan></text>
<line x1="114.5" y1="915" x2="119.5" y2="915" stroke="#262626" stroke-width="1.15" />
<text x="108.6" y="925.4" font-size="26.8" font-family="'DejaVu Sans','Liberation Sans',sans-serif" text-anchor="end">10<tspan font-size="18.76" dx="-0.4" dy="-10.05">3</tspan></text>
<line x1="114.5" y1="816.75" x2="119.5" y2="816.75" stroke="#262626" stroke-width="1.15" />
<text x="108.6" y="827.15" font-size="26.8" font-family="'DejaVu Sans','Liberation Sans',sans-serif" text-anchor="end">10<tspan font-size="18.76" dx="-0.4" dy="-10.05">4</tspan></text>
<line x1="114.5" y1="718.5" x2="119.5" y2="718.5" stroke="#262626" stroke-width="1.15" />
<text x="108.6" y="728.9" font-size="26.8" font-family="'DejaVu Sans','Liberation Sans',sans-serif" text-anchor="end">10<tspan font-size="18.76" dx="-0.4" dy="-10.05">5</tspan></text>
<line x1="116.5" y1="1278.42" x2="119.5" y2="1278.42" stroke="#262626" stroke-width="0.9" />
<line x1="116.5" y1="1261.12" x2="119.5" y2="1261.12" stroke="#262626" stroke-width="0.9" />
<line x1="116.5" y1="1248.85" x2="119.5" y2="1248.85" stroke="#262626" stroke-width="0.9" />
<line x1="116.5" y1="1239.33" x2="119.5" y2="1239.33" stroke="#262626" stroke-width="0.9" />
<line x1="116.5" y1="1231.55" x2="119.5" y2="1231.55" stroke="#262626" stroke-width="0.9" />
<line x1="116.5" y1="1224.97" x2="119.5" y2="1224.97" stroke="#262626" stroke-width="0.9" />
<line x1="116.5" y1="1219.27" x2="119.5" y2="1219.27" stroke="#262626" stroke-width="0.9" />
<line x1="116.5" y1="1214.25" x2="119.5" y2="1214.25" stroke="#262626" stroke-width="0.9" />
<line x1="116.5" y1="1180.17" x2="119.5" y2="1180.17" stroke="#262626" stroke-width="0.9" />
<line x1="116.5" y1="1162.87" x2="119.5" y2="1162.87" stroke="#262626" stroke-width="0.9" />
<line x1="116.5" y1="1150.6" x2="119.5" y2="1150.6" stroke="#262626" stroke-width="0.9" />
<line x1="116.5" y1="1141.08" x2="119.5" y2="1141.08" stroke="#262626" stroke-width="0.9" />
<line x1="116.5" y1="1133.3" x2="119.5" y2="1133.3" stroke="#262626" stroke-width="0.9" />
<line x1="116.5" y1="1126.72" x2="119.5" y2="1126.72" stroke="#262626" stroke-width="0.9" />
<line x1="116.5" y1="1121.02" x2="119.5" y2="1121.02" stroke="#262626" stroke-width="0.9" />
<line x1="116.5" y1="1116" x2="119.5" y2="1116" stroke="#262626" stroke-width="0.9" />
<line x1="116.5" y1="1081.92" x2="119.5" y2="1081.92" stroke="#262626" stroke-width="0.9" />
<line x1="116.5" y1="1064.62" x2="119.5" y2="1064.62" stroke="#262626" stroke-width="0.9" />
<line x1="116.5" y1="1052.35" x2="119.5" y2="1052.35" stroke="#262626" stroke-width="0.9" />
<line x1="116.5" y1="1042.83" x2="119.5" y2="1042.83" stroke="#262626" stroke-width="0.9" />
<line x1="116.5" y1="1035.05" x2="119.5" y2="1035.05" stroke="#262626" stroke-width="0.9" />
<line x1="116.5" y1="1028.47" x2="119.5" y2="1028.47" stroke="#262626" stroke-width="0.9" />
<line x1="116.5" y1="1022.77" x2="119.5" y2="1022.77" stroke="#262626" stroke-width="0.9" />
<line x1="116.5" y1="1017.75" x2="119.5" y2="1017.75" stroke="#262626" stroke-width="0.9" />
<line x1="116.5" y1="983.67" x2="119.5" y2="983.67" stroke="#262626" stroke-width="0.9" />
<line x1="116.5" y1="966.37" x2="119.5" y2="966.37" stroke="#262626" stroke-width="0.9" />
<line x1="116.5" y1="954.1" x2="119.5" y2="954.1" stroke="#262626" stroke-width="0.9" />
<line x1="116.5" y1="944.58" x2="119.5" y2="944.58" stroke="#262626" stroke-width="0.9" />
<line x1="116.5" y1="936.8" x2="119.5" y2="936.8" stroke="#262626" stroke-width="0.9" />
<line x1="116.5" y1="930.22" x2="119.5" y2="930.22" stroke="#262626" stroke-width="0.9" />
<line x1="116.5" y1="924.52" x2="119.5" y2="924.52" stroke="#262626" stroke-width="0.9" />
<line x1="116.5" y1="919.5" x2="119.5" y2="919.5" stroke="#262626" stroke-width="0.9" />
<line x1="116.5" y1="885.42" x2="119.5" y2="885.42" stroke="#262626" stroke-width="0.9" />
<line x1="116.5" y1="868.12" x2="119.5" y2="868.12" stroke="#262626" stroke-width="0.9" />
<line x1="116.5" y1="855.85" x2="119.5" y2="855.85" stroke="#262626" stroke-width="0.9" />
<line x1="116.5" y1="846.33" x2="119.5" y2="846.33" stroke="#262626" stroke-width="0.9" />
<line x1="116.5" y1="838.55" x2="119.5" y2="838.55" stroke="#262626" stroke-width="0.9" />
<line x1="116.5" y1="831.97" x2="119.5" y2="831.97" stroke="#262626" stroke-width="0.9" />
<line x1="116.5" y1="826.27" x2="119.5" y2="826.27" stroke="#262626" stroke-width="0.9" />
<line x1="116.5" y1="821.25" x2="119.5" y2="821.25" stroke="#262626" stroke-width="0.9" />
<line x1="116.5" y1="787.17" x2="119.5" y2="787.17" stroke="#262626" stroke-width="0.9" />
<line x1="116.5" y1="769.87" x2="119.5" y2="769.87" stroke="#262626" stroke-width="0.9" />
<line x1="116.5" y1="757.6" x2="119.5" y2="757.6" stroke="#262626" stroke-width="0.9" />
<line x1="116.5" y1="748.08" x2="119.5" y2="748.08" stroke="#262626" stroke-width="0.9" />
<line x1="116.5" y1="740.3" x2="119.5" y2="740.3" stroke="#262626" stroke-width="0.9" />
<line x1="116.5" y1="733.72" x2="119.5" y2="733.72" stroke="#262626" stroke-width="0.9" />
<line x1="116.5" y1="728.02" x2="119.5" y2="728.02" stroke="#262626" stroke-width="0.9" />
<line x1="116.5" y1="723" x2="119.5" y2="723" stroke="#262626" stroke-width="0.9" />
<line x1="146.15" y1="1308" x2="146.15" y2="1313" stroke="#262626" stroke-width="1.15" />
<text x="145.25" y="1337.6" font-size="26.8" font-family="'DejaVu Sans','Liberation Sans',sans-serif" text-anchor="middle">10<tspan font-size="18.76" dx="0.3" dy="-10.45">1</tspan></text>
<line x1="421.18" y1="1308" x2="421.18" y2="1313" stroke="#262626" stroke-width="1.15" />
<text x="420.28" y="1337.6" font-size="26.8" font-family="'DejaVu Sans','Liberation Sans',sans-serif" text-anchor="middle">10<tspan font-size="18.76" dx="0.3" dy="-10.45">2</tspan></text>
<line x1="696.21" y1="1308" x2="696.21" y2="1313" stroke="#262626" stroke-width="1.15" />
<text x="695.31" y="1337.6" font-size="26.8" font-family="'DejaVu Sans','Liberation Sans',sans-serif" text-anchor="middle">10<tspan font-size="18.76" dx="0.3" dy="-10.45">3</tspan></text>
<line x1="119.5" y1="1308" x2="119.5" y2="1311" stroke="#262626" stroke-width="0.9" />
<line x1="133.57" y1="1308" x2="133.57" y2="1311" stroke="#262626" stroke-width="0.9" />
<line x1="228.95" y1="1308" x2="228.95" y2="1311" stroke="#262626" stroke-width="0.9" />
<line x1="277.38" y1="1308" x2="277.38" y2="1311" stroke="#262626" stroke-width="0.9" />
<line x1="311.74" y1="1308" x2="311.74" y2="1311" stroke="#262626" stroke-width="0.9" />
<line x1="338.39" y1="1308" x2="338.39" y2="1311" stroke="#262626" stroke-width="0.9" />
<line x1="360.17" y1="1308" x2="360.17" y2="1311" stroke="#262626" stroke-width="0.9" />
<line x1="378.58" y1="1308" x2="378.58" y2="1311" stroke="#262626" stroke-width="0.9" />
<line x1="394.53" y1="1308" x2="394.53" y2="1311" stroke="#262626" stroke-width="0.9" />
<line x1="408.6" y1="1308" x2="408.6" y2="1311" stroke="#262626" stroke-width="0.9" />
<line x1="503.98" y1="1308" x2="503.98" y2="1311" stroke="#262626" stroke-width="0.9" />
<line x1="552.41" y1="1308" x2="552.41" y2="1311" stroke="#262626" stroke-width="0.9" />
<line x1="586.77" y1="1308" x2="586.77" y2="1311" stroke="#262626" stroke-width="0.9" />
<line x1="613.42" y1="1308" x2="613.42" y2="1311" stroke="#262626" stroke-width="0.9" />
<line x1="635.2" y1="1308" x2="635.2" y2="1311" stroke="#262626" stroke-width="0.9" />
<line x1="653.61" y1="1308" x2="653.61" y2="1311" stroke="#262626" stroke-width="0.9" />
<line x1="669.56" y1="1308" x2="669.56" y2="1311" stroke="#262626" stroke-width="0.9" />
<line x1="683.63" y1="1308" x2="683.63" y2="1311" stroke="#262626" stroke-width="0.9" />
<line x1="779.01" y1="1308" x2="779.01" y2="1311" stroke="#262626" stroke-width="0.9" />
<line x1="827.44" y1="1308" x2="827.44" y2="1311" stroke="#262626" stroke-width="0.9" />
<line x1="861.8" y1="1308" x2="861.8" y2="1311" stroke="#262626" stroke-width="0.9" />
<text x="490.65" y="1368.8" font-size="26.4" font-family="'DejaVu Sans','Liberation Sans',sans-serif" text-anchor="middle" fill="#000" >Energy(keV)</text>
<text transform="translate(34,1013.25) rotate(-90)" font-size="26.8" font-family="'DejaVu Sans','Liberation Sans',sans-serif" text-anchor="middle">keV<tspan font-size="18.8" dy="-10.4" dx="0.6">2</tspan><tspan dy="10.4" dx="0.6"> (photons cm</tspan><tspan font-size="18.8" dy="-10.4" dx="0.7">−2</tspan><tspan dy="10.4" dx="0.7"> </tspan><tspan font-style="oblique">s</tspan><tspan font-size="18.8" dy="-10.4" dx="0.7">−1</tspan><tspan dy="10.4" dx="0.7">keV</tspan><tspan font-size="18.8" dy="-10.4" dx="0.7">−1</tspan><tspan dy="10.4" dx="0.7">)</tspan></text>
<text x="435.7" y="1018.5" font-family="'Liberation Serif','DejaVu Serif',serif" font-size="34.71" textLength="76.5" lengthAdjust="spacingAndGlyphs" >mBB</text>
<g font-family="'Liberation Serif','DejaVu Serif',serif" font-size="34.71" fill="#000">
<text x="435" y="1169.5" textLength="39.4" lengthAdjust="spacingAndGlyphs">(c)</text>
<text x="488.1" y="1169.5" textLength="76.5" lengthAdjust="spacingAndGlyphs">GRB</text>
<text x="576.9" y="1169.5" textLength="127.5" lengthAdjust="spacingAndGlyphs">210121A</text>
</g>
<g font-family="'Liberation Serif','DejaVu Serif',serif" font-size="34.71" fill="#000">
<text x="432.8" y="1244.5" font-style="italic" textLength="21.5" lengthAdjust="spacingAndGlyphs">T</text>
<text x="455.1" y="1249.7" font-size="24.26">0</text>
<text x="478.3" y="1244.5" textLength="24.5" lengthAdjust="spacingAndGlyphs">+</text>
<text x="513.2" y="1244.5" textLength="182" lengthAdjust="spacingAndGlyphs">[−0.01, 2.19]</text>
<text x="708" y="1244.5">s</text>
</g>
<rect x="132.5" y="731.6" width="191.5" height="124.4" rx="4.5" ry="4.5" fill="#fff" fill-opacity="0.8" stroke="#ccc" stroke-opacity="0.8" stroke-width="1.6"/>
<line x1="143.2" y1="752.7" x2="196.5" y2="752.7" stroke="#f00" stroke-width="4.2" stroke-dasharray="15.5 6.7"/>
<line x1="156.4" y1="791.8" x2="183.4" y2="791.8" stroke="#0000ff" stroke-opacity="0.3" stroke-width="2"/>
<line x1="169.9" y1="778.3" x2="169.9" y2="805.3" stroke="#0000ff" stroke-opacity="0.3" stroke-width="2"/>
<circle cx="169.9" cy="791.8" r="5.6" fill="#0000ff" fill-opacity="0.3" stroke="#0000ff" stroke-opacity="0.18" stroke-width="1"/>
<line x1="156.4" y1="831" x2="183.4" y2="831" stroke="#ffa500" stroke-opacity="0.3" stroke-width="2"/>
<line x1="169.9" y1="817.5" x2="169.9" y2="844.5" stroke="#ffa500" stroke-opacity="0.3" stroke-width="2"/>
<circle cx="169.9" cy="831" r="5.6" fill="#ffa500" fill-opacity="0.3" stroke="#ffa500" stroke-opacity="0.18" stroke-width="1"/>
<text x="217.4" y="762" font-size="26.6" font-family="'DejaVu Sans','Liberation Sans',sans-serif" text-anchor="start" fill="#000" >mBB</text>
<text x="217.4" y="801.2" font-size="26.6" font-family="'DejaVu Sans','Liberation Sans',sans-serif" text-anchor="start" fill="#000" >GBMn0</text>
<text x="217.4" y="840.3" font-size="26.6" font-family="'DejaVu Sans','Liberation Sans',sans-serif" text-anchor="start" fill="#000" >GBMb0</text>
<!-- panel d -->
<clipPath id="clipd"><rect x="1076.9" y="718.5" width="742.4" height="589.5"/></clipPath>
<g clip-path="url(#clipd)">
<polyline points="1076.88,1378.3 1079.36,1375.65 1081.84,1373 1084.32,1370.35 1086.81,1367.7 1089.29,1365.06 1091.77,1362.41 1094.26,1359.76 1096.74,1357.11 1099.22,1354.47 1101.7,1351.82 1104.19,1349.18 1106.67,1346.53 1109.15,1343.88 1111.64,1341.24 1114.12,1338.59 1116.6,1335.95 1119.09,1333.31 1121.57,1330.66 1124.05,1328.02 1126.53,1325.38 1129.02,1322.73 1131.5,1320.09 1133.98,1317.45 1136.47,1314.81 1138.95,1312.17 1141.43,1309.53 1143.92,1306.89 1146.4,1304.25 1148.88,1301.61 1151.36,1298.97 1153.85,1296.33 1156.33,1293.69 1158.81,1291.05 1161.3,1288.42 1163.78,1285.78 1166.26,1283.15 1168.75,1280.51 1171.23,1277.88 1173.71,1275.24 1176.19,1272.61 1178.68,1269.97 1181.16,1267.34 1183.64,1264.71 1186.13,1262.08 1188.61,1259.45 1191.09,1256.82 1193.57,1254.19 1196.06,1251.56 1198.54,1248.93 1201.02,1246.3 1203.51,1243.68 1205.99,1241.05 1208.47,1238.42 1210.96,1235.8 1213.44,1233.18 1215.92,1230.55 1218.4,1227.93 1220.89,1225.31 1223.37,1222.69 1225.85,1220.07 1228.34,1217.45 1230.82,1214.83 1233.3,1212.22 1235.79,1209.6 1238.27,1206.98 1240.75,1204.37 1243.23,1201.76 1245.72,1199.14 1248.2,1196.53 1250.68,1193.92 1253.17,1191.31 1255.65,1188.71 1258.13,1186.1 1260.62,1183.49 1263.1,1180.89 1265.58,1178.29 1268.06,1175.68 1270.55,1173.08 1273.03,1170.48 1275.51,1167.89 1278,1165.29 1280.48,1162.69 1282.96,1160.1 1285.44,1157.51 1287.93,1154.92 1290.41,1152.33 1292.89,1149.74 1295.38,1147.15 1297.86,1144.57 1300.34,1141.98 1302.83,1139.4 1305.31,1136.82 1307.79,1134.24 1310.27,1131.67 1312.76,1129.09 1315.24,1126.52 1317.72,1123.95 1320.21,1121.38 1322.69,1118.81 1325.17,1116.25 1327.66,1113.69 1330.14,1111.13 1332.62,1108.57 1335.1,1106.01 1337.59,1103.46 1340.07,1100.91 1342.55,1098.36 1345.04,1095.81 1347.52,1093.27 1350,1090.72 1352.48,1088.18 1354.97,1085.65 1357.45,1083.11 1359.93,1080.58 1362.42,1078.05 1364.9,1075.53 1367.38,1073.01 1369.87,1070.49 1372.35,1067.97 1374.83,1065.46 1377.31,1062.95 1379.8,1060.44 1382.28,1057.94 1384.76,1055.44 1387.25,1052.94 1389.73,1050.45 1392.21,1047.96 1394.7,1045.48 1397.18,1043 1399.66,1040.52 1402.14,1038.05 1404.63,1035.58 1407.11,1033.12 1409.59,1030.66 1412.08,1028.2 1414.56,1025.75 1417.04,1023.31 1419.53,1020.86 1422.01,1018.43 1424.49,1016 1426.97,1013.57 1429.46,1011.15 1431.94,1008.74 1434.42,1006.33 1436.91,1003.92 1439.39,1001.52 1441.87,999.13 1444.35,996.75 1446.84,994.37 1449.32,991.99 1451.8,989.63 1454.29,987.27 1456.77,984.91 1459.25,982.57 1461.74,980.23 1464.22,977.9 1466.7,975.57 1469.18,973.26 1471.67,970.95 1474.15,968.65 1476.63,966.36 1479.12,964.08 1481.6,961.8 1484.08,959.54 1486.57,957.28 1489.05,955.04 1491.53,952.8 1494.01,950.57 1496.5,948.36 1498.98,946.15 1501.46,943.96 1503.95,941.77 1506.43,939.6 1508.91,937.44 1511.4,935.29 1513.88,933.15 1516.36,931.03 1518.84,928.92 1521.33,926.82 1523.81,924.74 1526.29,922.67 1528.78,920.61 1531.26,918.57 1533.74,916.54 1536.22,914.53 1538.71,912.53 1541.19,910.56 1543.67,908.59 1546.16,906.65 1548.64,904.72 1551.12,902.81 1553.61,900.92 1556.09,899.05 1558.57,897.19 1561.05,895.36 1563.54,893.55 1566.02,891.76 1568.5,889.99 1570.99,888.24 1573.47,886.52 1575.95,884.82 1578.44,883.14 1580.92,881.49 1583.4,879.87 1585.88,878.27 1588.37,876.69 1590.85,875.15 1593.33,873.63 1595.82,872.15 1598.3,870.69 1600.78,869.26 1603.27,867.87 1605.75,866.5 1608.23,865.17 1610.71,863.88 1613.2,862.62 1615.68,861.39 1618.16,860.2 1620.65,859.06 1623.13,857.95 1625.61,856.87 1628.09,855.85 1630.58,854.86 1633.06,853.92 1635.54,853.02 1638.03,852.16 1640.51,851.36 1642.99,850.6 1645.48,849.89 1647.96,849.23 1650.44,848.63 1652.92,848.07 1655.41,847.58 1657.89,847.13 1660.37,846.75 1662.86,846.43 1665.34,846.16 1667.82,845.96 1670.31,845.82 1672.79,845.75 1675.27,845.74 1677.75,845.8 1680.24,845.93 1682.72,846.14 1685.2,846.42 1687.69,846.77 1690.17,847.2 1692.65,847.71 1695.13,848.3 1697.62,848.98 1700.1,849.74 1702.58,850.58 1705.07,851.52 1707.55,852.54 1710.03,853.66 1712.52,854.88 1715,856.19 1717.48,857.6 1719.96,859.12 1722.45,860.74 1724.93,862.46 1727.41,864.3 1729.9,866.24 1732.38,868.3 1734.86,870.48 1737.35,872.78 1739.83,875.19 1742.31,877.73 1744.79,880.4 1747.28,883.2 1749.76,886.13 1752.24,889.2 1754.73,892.4 1757.21,895.75 1759.69,899.24 1762.18,902.88 1764.66,906.66 1767.14,910.61 1769.62,914.71 1772.11,918.96 1774.59,923.39 1777.07,927.98 1779.56,932.74 1782.04,937.67 1784.52,942.79 1787,948.08 1789.49,953.56 1791.97,959.23 1794.45,965.1 1796.94,971.16 1799.42,977.42 1801.9,983.89 1804.39,990.57 1806.87,997.47 1809.35,1004.58 1811.83,1011.92 1814.32,1019.48 1816.8,1027.28 1819.28,1035.32" fill="none" stroke="#f00" stroke-width="4.3" stroke-dasharray="15.5 6.7"/>
<polyline points="1076.88,1114.37 1079.36,1112.93 1081.84,1111.49 1084.32,1110.05 1086.81,1108.61 1089.29,1107.17 1091.77,1105.74 1094.26,1104.3 1096.74,1102.86 1099.22,1101.43 1101.7,1099.99 1104.19,1098.56 1106.67,1097.12 1109.15,1095.69 1111.64,1094.25 1114.12,1092.82 1116.6,1091.39 1119.09,1089.96 1121.57,1088.53 1124.05,1087.1 1126.53,1085.67 1129.02,1084.24 1131.5,1082.81 1133.98,1081.39 1136.47,1079.96 1138.95,1078.53 1141.43,1077.11 1143.92,1075.69 1146.4,1074.26 1148.88,1072.84 1151.36,1071.42 1153.85,1070 1156.33,1068.58 1158.81,1067.16 1161.3,1065.74 1163.78,1064.33 1166.26,1062.91 1168.75,1061.5 1171.23,1060.08 1173.71,1058.67 1176.19,1057.26 1178.68,1055.85 1181.16,1054.44 1183.64,1053.03 1186.13,1051.62 1188.61,1050.22 1191.09,1048.81 1193.57,1047.41 1196.06,1046.01 1198.54,1044.61 1201.02,1043.21 1203.51,1041.81 1205.99,1040.41 1208.47,1039.02 1210.96,1037.62 1213.44,1036.23 1215.92,1034.84 1218.4,1033.45 1220.89,1032.06 1223.37,1030.68 1225.85,1029.29 1228.34,1027.91 1230.82,1026.53 1233.3,1025.15 1235.79,1023.77 1238.27,1022.39 1240.75,1021.02 1243.23,1019.65 1245.72,1018.28 1248.2,1016.91 1250.68,1015.54 1253.17,1014.18 1255.65,1012.81 1258.13,1011.45 1260.62,1010.09 1263.1,1008.74 1265.58,1007.38 1268.06,1006.03 1270.55,1004.68 1273.03,1003.34 1275.51,1001.99 1278,1000.65 1280.48,999.31 1282.96,997.98 1285.44,996.64 1287.93,995.31 1290.41,993.98 1292.89,992.66 1295.38,991.33 1297.86,990.01 1300.34,988.7 1302.83,987.38 1305.31,986.07 1307.79,984.77 1310.27,983.46 1312.76,982.16 1315.24,980.86 1317.72,979.57 1320.21,978.28 1322.69,976.99 1325.17,975.71 1327.66,974.43 1330.14,973.15 1332.62,971.88 1335.1,970.62 1337.59,969.35 1340.07,968.09 1342.55,966.84 1345.04,965.59 1347.52,964.34 1350,963.1 1352.48,961.87 1354.97,960.63 1357.45,959.41 1359.93,958.18 1362.42,956.97 1364.9,955.76 1367.38,954.55 1369.87,953.35 1372.35,952.15 1374.83,950.96 1377.31,949.78 1379.8,948.6 1382.28,947.43 1384.76,946.26 1387.25,945.1 1389.73,943.95 1392.21,942.8 1394.7,941.66 1397.18,940.53 1399.66,939.4 1402.14,938.28 1404.63,937.17 1407.11,936.06 1409.59,934.97 1412.08,933.88 1414.56,932.79 1417.04,931.72 1419.53,930.65 1422.01,929.6 1424.49,928.55 1426.97,927.51 1429.46,926.47 1431.94,925.45 1434.42,924.44 1436.91,923.44 1439.39,922.44 1441.87,921.46 1444.35,920.48 1446.84,919.52 1449.32,918.57 1451.8,917.62 1454.29,916.69 1456.77,915.77 1459.25,914.86 1461.74,913.97 1464.22,913.08 1466.7,912.21 1469.18,911.35 1471.67,910.5 1474.15,909.66 1476.63,908.84 1479.12,908.03 1481.6,907.24 1484.08,906.45 1486.57,905.69 1489.05,904.94 1491.53,904.2 1494.01,903.48 1496.5,902.77 1498.98,902.08 1501.46,901.41 1503.95,900.75 1506.43,900.11 1508.91,899.48 1511.4,898.88 1513.88,898.29 1516.36,897.72 1518.84,897.17 1521.33,896.64 1523.81,896.13 1526.29,895.64 1528.78,895.16 1531.26,894.71 1533.74,894.28 1536.22,893.88 1538.71,893.49 1541.19,893.13 1543.67,892.79 1546.16,892.47 1548.64,892.18 1551.12,891.91 1553.61,891.67 1556.09,891.45 1558.57,891.26 1561.05,891.1 1563.54,890.96 1566.02,890.86 1568.5,890.78 1570.99,890.72 1573.47,890.7 1575.95,890.71 1578.44,890.75 1580.92,890.82 1583.4,890.93 1585.88,891.06 1588.37,891.23 1590.85,891.44 1593.33,891.68 1595.82,891.95 1598.3,892.26 1600.78,892.61 1603.27,893 1605.75,893.43 1608.23,893.89 1610.71,894.4 1613.2,894.95 1615.68,895.54 1618.16,896.17 1620.65,896.84 1623.13,897.57 1625.61,898.33 1628.09,899.15 1630.58,900.01 1633.06,900.92 1635.54,901.88 1638.03,902.9 1640.51,903.96 1642.99,905.08 1645.48,906.25 1647.96,907.48 1650.44,908.76 1652.92,910.1 1655.41,911.5 1657.89,912.96 1660.37,914.48 1662.86,916.06 1665.34,917.71 1667.82,919.43 1670.31,921.21 1672.79,923.05 1675.27,924.97 1677.75,926.96 1680.24,929.02 1682.72,931.16 1685.2,933.37 1687.69,935.66 1690.17,938.02 1692.65,940.47 1695.13,943 1697.62,945.61 1700.1,948.31 1702.58,951.1 1705.07,953.97 1707.55,956.94 1710.03,960 1712.52,963.15 1715,966.4 1717.48,969.76 1719.96,973.21 1722.45,976.76 1724.93,980.42 1727.41,984.19 1729.9,988.07 1732.38,992.06 1734.86,996.16 1737.35,1000.38 1739.83,1004.73 1742.31,1009.19 1744.79,1013.78 1747.28,1018.49 1749.76,1023.33 1752.24,1028.31 1754.73,1033.42 1757.21,1038.67 1759.69,1044.06 1762.18,1049.6 1764.66,1055.28 1767.14,1061.11 1769.62,1067.1 1772.11,1073.24 1774.59,1079.54 1777.07,1086 1779.56,1092.64 1782.04,1099.44 1784.52,1106.41 1787,1113.56 1789.49,1120.9 1791.97,1128.41 1794.45,1136.12 1796.94,1144.02 1799.42,1152.11 1801.9,1160.41 1804.39,1168.91 1806.87,1177.62 1809.35,1186.54 1811.83,1195.68 1814.32,1205.05 1816.8,1214.64 1819.28,1224.47" fill="none" stroke="#00ffff" stroke-width="4.3" />
<polyline points="1076.88,1114.28 1079.36,1112.84 1081.84,1111.4 1084.32,1109.96 1086.81,1108.51 1089.29,1107.07 1091.77,1105.63 1094.26,1104.19 1096.74,1102.75 1099.22,1101.31 1101.7,1099.87 1104.19,1098.44 1106.67,1097 1109.15,1095.56 1111.64,1094.12 1114.12,1092.69 1116.6,1091.25 1119.09,1089.82 1121.57,1088.38 1124.05,1086.95 1126.53,1085.51 1129.02,1084.08 1131.5,1082.65 1133.98,1081.22 1136.47,1079.79 1138.95,1078.36 1141.43,1076.93 1143.92,1075.5 1146.4,1074.07 1148.88,1072.64 1151.36,1071.21 1153.85,1069.79 1156.33,1068.36 1158.81,1066.94 1161.3,1065.51 1163.78,1064.09 1166.26,1062.67 1168.75,1061.25 1171.23,1059.83 1173.71,1058.41 1176.19,1056.99 1178.68,1055.57 1181.16,1054.15 1183.64,1052.73 1186.13,1051.32 1188.61,1049.9 1191.09,1048.49 1193.57,1047.08 1196.06,1045.66 1198.54,1044.25 1201.02,1042.84 1203.51,1041.44 1205.99,1040.03 1208.47,1038.62 1210.96,1037.22 1213.44,1035.81 1215.92,1034.41 1218.4,1033.01 1220.89,1031.6 1223.37,1030.2 1225.85,1028.81 1228.34,1027.41 1230.82,1026.01 1233.3,1024.62 1235.79,1023.22 1238.27,1021.83 1240.75,1020.44 1243.23,1019.05 1245.72,1017.66 1248.2,1016.28 1250.68,1014.89 1253.17,1013.51 1255.65,1012.13 1258.13,1010.75 1260.62,1009.37 1263.1,1007.99 1265.58,1006.61 1268.06,1005.24 1270.55,1003.87 1273.03,1002.5 1275.51,1001.13 1278,999.76 1280.48,998.39 1282.96,997.03 1285.44,995.67 1287.93,994.31 1290.41,992.95 1292.89,991.59 1295.38,990.24 1297.86,988.89 1300.34,987.54 1302.83,986.19 1305.31,984.84 1307.79,983.5 1310.27,982.16 1312.76,980.82 1315.24,979.48 1317.72,978.15 1320.21,976.81 1322.69,975.48 1325.17,974.15 1327.66,972.83 1330.14,971.51 1332.62,970.18 1335.1,968.87 1337.59,967.55 1340.07,966.24 1342.55,964.93 1345.04,963.62 1347.52,962.31 1350,961.01 1352.48,959.71 1354.97,958.41 1357.45,957.12 1359.93,955.83 1362.42,954.54 1364.9,953.25 1367.38,951.97 1369.87,950.69 1372.35,949.42 1374.83,948.14 1377.31,946.87 1379.8,945.61 1382.28,944.34 1384.76,943.08 1387.25,941.82 1389.73,940.57 1392.21,939.32 1394.7,938.07 1397.18,936.83 1399.66,935.59 1402.14,934.35 1404.63,933.12 1407.11,931.89 1409.59,930.66 1412.08,929.44 1414.56,928.22 1417.04,927 1419.53,925.79 1422.01,924.58 1424.49,923.38 1426.97,922.18 1429.46,920.98 1431.94,919.79 1434.42,918.6 1436.91,917.41 1439.39,916.23 1441.87,915.05 1444.35,913.88 1446.84,912.71 1449.32,911.54 1451.8,910.38 1454.29,909.22 1456.77,908.07 1459.25,906.92 1461.74,905.77 1464.22,904.63 1466.7,903.5 1469.18,902.36 1471.67,901.23 1474.15,900.11 1476.63,898.99 1479.12,897.87 1481.6,896.76 1484.08,895.65 1486.57,894.54 1489.05,893.44 1491.53,892.35 1494.01,891.26 1496.5,890.17 1498.98,889.09 1501.46,888.01 1503.95,886.93 1506.43,885.86 1508.91,884.8 1511.4,883.74 1513.88,882.68 1516.36,881.63 1518.84,880.58 1521.33,879.54 1523.81,878.5 1526.29,877.47 1528.78,876.44 1531.26,875.42 1533.74,874.4 1536.22,873.39 1538.71,872.38 1541.19,871.38 1543.67,870.39 1546.16,869.4 1548.64,868.42 1551.12,867.44 1553.61,866.47 1556.09,865.51 1558.57,864.55 1561.05,863.6 1563.54,862.66 1566.02,861.73 1568.5,860.8 1570.99,859.89 1573.47,858.98 1575.95,858.09 1578.44,857.2 1580.92,856.33 1583.4,855.46 1585.88,854.61 1588.37,853.77 1590.85,852.94 1593.33,852.13 1595.82,851.33 1598.3,850.55 1600.78,849.78 1603.27,849.03 1605.75,848.3 1608.23,847.58 1610.71,846.89 1613.2,846.21 1615.68,845.56 1618.16,844.93 1620.65,844.32 1623.13,843.74 1625.61,843.18 1628.09,842.65 1630.58,842.15 1633.06,841.67 1635.54,841.23 1638.03,840.82 1640.51,840.44 1642.99,840.1 1645.48,839.8 1647.96,839.53 1650.44,839.3 1652.92,839.11 1655.41,838.97 1657.89,838.87 1660.37,838.81 1662.86,838.8 1665.34,838.85 1667.82,838.94 1670.31,839.09 1672.79,839.29 1675.27,839.55 1677.75,839.87 1680.24,840.24 1682.72,840.68 1685.2,841.19 1687.69,841.76 1690.17,842.4 1692.65,843.12 1695.13,843.9 1697.62,844.76 1700.1,845.7 1702.58,846.72 1705.07,847.82 1707.55,849 1710.03,850.27 1712.52,851.63 1715,853.08 1717.48,854.63 1719.96,856.27 1722.45,858.01 1724.93,859.86 1727.41,861.8 1729.9,863.86 1732.38,866.02 1734.86,868.29 1737.35,870.68 1739.83,873.19 1742.31,875.82 1744.79,878.57 1747.28,881.45 1749.76,884.45 1752.24,887.59 1754.73,890.86 1757.21,894.28 1759.69,897.83 1762.18,901.53 1764.66,905.37 1767.14,909.37 1769.62,913.52 1772.11,917.83 1774.59,922.3 1777.07,926.94 1779.56,931.74 1782.04,936.72 1784.52,941.88 1787,947.21 1789.49,952.73 1791.97,958.43 1794.45,964.33 1796.94,970.42 1799.42,976.72 1801.9,983.22 1804.39,989.92 1806.87,996.85 1809.35,1003.99 1811.83,1011.35 1814.32,1018.94 1816.8,1026.76 1819.28,1034.82" fill="none" stroke="#000" stroke-width="4.3" stroke-dasharray="15.5 6.7"/>
<path d="M1084.95 1094.11V1134.94M1079.05 1110.31H1090.85M1096.75 1085.3V1122.57M1091.18 1099.28H1102.33M1107.26 1061.96V1070.39M1101.96 1065.95H1112.56M1117.96 1102.47V1242.48M1112.59 1130.21H1123.34M1128.77 1058.77V1067.65M1123.6 1062.99H1133.93M1138.62 1080.39V1128.54M1133.85 1097.92H1143.4M1147.88 1083.77V1153.88M1143.36 1107.07H1152.39M1156.68 1055.19V1064.51M1152.4 1059.63H1160.96M1164.98 1054.77V1079.63M1161.01 1064.98H1168.96M1172.59 1053.58V1084.42M1168.71 1066.9H1176.46M1180.49 1047.84V1076.91M1176.41 1060.93H1184.57M1188.89 1055.02V1086.97M1184.89 1068.11H1192.89M1196.5 1039.4V1064.02M1192.72 1050.27H1200.27M1204 1042.85V1069.03M1200.3 1054.39H1207.7M1211.3 1024.47V1039.11M1207.73 1031.35H1214.88M1218.31 1029.39V1048.47M1214.75 1038.26H1221.86M1225.51 1017.62V1031.82M1221.81 1024.27H1229.21M1233.11 1020.32V1040.74M1229.24 1028.31H1236.99M1241.02 1020.66V1045.29M1237.16 1030.87H1244.87M1248.52 1015.73V1037.48M1245.32 1024.39H1251.72M1253.82 1004.78V1017.43M1251.25 1010.77H1256.4M1258.82 1012.01V1041.07M1256.35 1026.65H1261.3M1263.73 994.42V1005.3M1261.2 999.53H1266.25M1268.93 994.1V1005.42M1266.4 999.43H1271.45M1273.83 1004.89V1028.19M1271.35 1016.65H1276.31M1278.83 990.23V1001.32M1276.28 995.55H1281.38M1284.03 998.12V1012.32M1281.41 1004.99H1286.66M1289.34 981.34V991.55M1286.79 986.22H1291.89M1294.24 994.74V1009.17M1292.01 1001.62H1296.46M1298.24 990.43V999.93M1296.21 994.92H1300.28M1302.38 983.82V992.33M1300.33 987.87H1304.43M1306.46 983.14V992.03M1304.43 987.35H1308.48M1310.47 972.42V979.57M1308.48 975.85H1312.46M1314.43 977.26V985.86M1312.46 981.34H1316.39M1318.32 971.01V978.75M1316.39 974.7H1320.26M1322.16 970.02V978M1320.26 973.82H1324.06M1325.94 965.71V973.26M1324.06 969.32H1327.82M1329.66 963.54V971.07M1327.82 967.14H1331.51M1333.33 966.79V975.43M1331.51 970.89H1335.15M1336.94 968.95V978.58M1335.15 973.49H1338.74M1340.5 960.62V968.78M1338.74 964.51H1342.27M1344.01 955.75V963.32M1342.27 959.37H1345.75M1347.46 955.89V963.87M1345.75 959.69H1349.17M1350.86 955.61V963.92M1349.17 959.57H1352.55M1354.21 957.69V966.9M1352.55 962.05H1355.87M1357.51 955.23V964.27M1355.86 959.51H1359.16M1360.81 960.27V971.1M1359.16 965.34H1362.46M1364.11 954.49V964.22M1362.46 959.08H1365.76M1367.41 943.42V951.07M1365.76 947.08H1369.06M1370.72 948.48V957.59M1369.07 952.79H1372.37M1374.02 943.35V951.7M1372.37 947.32H1375.67M1377.32 939.73V947.68M1375.67 943.52H1378.97M1380.62 939.88V948.23M1378.97 943.85H1382.27M1383.92 936.8V944.86M1382.27 940.64H1385.57M1387.22 931.88V939.3M1385.57 935.43H1388.87M1390.52 929.07V936.29M1388.87 932.53H1392.17M1393.83 928.51V935.95M1392.18 932.07H1395.48M1397.13 930.03V938.11M1395.48 933.88H1398.78M1400.43 927.54V935.46M1398.78 931.32H1402.08M1403.73 926.57V934.65M1402.08 930.42H1405.38M1407.03 931.4V940.97M1405.38 935.92H1408.68M1410.33 929.22V938.67M1408.68 933.69H1411.98M1413.63 922.39V930.66M1411.98 926.33H1415.28M1416.94 919.26V927.22M1415.28 923.06H1418.59M1420.24 914.6V921.98M1418.59 918.13H1421.89M1423.54 915.72V923.65M1421.89 919.5H1425.19M1426.84 912.37V919.97M1425.19 916H1428.49M1430.14 910.38V917.91M1428.49 913.98H1431.79M1433.44 912.03V920.23M1431.79 915.93H1435.09M1436.74 907.83V915.52M1435.09 911.5H1438.39M1440.05 906.54V914.5M1438.39 910.34H1441.7M1443.35 898.96V906.05M1441.7 902.36H1445M1446.65 899.89V907.73M1445 903.63H1448.3M1449.95 898.69V906.9M1448.3 902.6H1451.6M1453.25 901.91V911.53M1451.6 906.45H1454.9M1456.55 893.17V901.41M1454.9 897.09H1458.2M1459.85 914.02V929.61M1458.2 921.11H1461.5M1463.16 912.82V929.11M1461.5 920.19H1464.81M1466.46 894.01V904.48M1464.81 898.93H1468.11M1469.76 889.06V898.91M1468.11 893.7H1471.41M1473.06 894.42V906.63M1471.41 900.09H1474.71M1476.36 889.26V900.64M1474.71 894.57H1478.01M1479.66 877.1V885.93M1478.01 881.29H1481.31M1482.96 880.79V891.17M1481.31 885.66H1484.61M1486.27 879.49V890.2M1484.1 884.51H1488.43M1491.61 867.78V884.42M1489.43 875.55H1493.8M1495.02 874.31V890.95M1493.32 882.07H1496.72M1498.43 886.5V903.14M1496.6 894.27H1500.25M1502.32 873.51V890.15M1500.49 881.28H1504.14M1505.73 870.05V886.69M1504.13 877.81H1507.33M1508.64 884.66V901.3M1507.04 892.42H1510.24M1512.05 877.27V893.91M1510.23 885.04H1513.88M1515.94 868.33V884.97M1514.05 876.09H1517.84M1519.64 851.99V868.63M1517.87 859.76H1521.42M1523.05 876.05V903.03M1521.3 888.35H1524.8M1526.65 859.48V876.12M1524.9 867.25H1528.4M1530.05 871.62V905.07M1528.35 885.65H1531.76M1533.46 862.81V879.45M1531.76 870.57H1535.16M1536.87 852.68V869.32M1535.16 860.44H1538.57M1540.27 853.11V869.75M1538.57 860.88H1541.98M1543.68 850.94V867.58M1541.98 858.71H1545.38M1547.09 871.64V899.69M1545.31 884.59H1548.86M1550.78 884.24V931.72M1549.01 898.26H1552.56M1554.19 867.03V899.41M1552.49 882.14H1555.89M1557.6 836.91V854.18M1555.84 844.9H1559.35M1561.2 851.9V875.64M1559.45 862.69H1562.95M1564.6 856.35V899.52M1562.9 871.46H1566.31M1568.01 852.16V888.86M1566.31 867.27H1569.71M1571.41 865.24V981.79M1569.76 886.82H1573.07M1574.63 862.34V981.05M1573.03 883.93H1576.23M1577.74 827.17V855.23M1576.11 840.12H1579.37M1581.15 855.26V913.54M1579.37 870.37H1582.92M1584.84 820.34V841.93M1583.14 828.98H1586.55M1587.96 827.06V852.96M1586.33 838.93H1589.59M1591.37 833.22V865.6M1589.66 845.09H1593.07" stroke="#0000ff" stroke-opacity="0.3" stroke-width="2" fill="none"/>
<g fill="#0000ff" fill-opacity="0.3" stroke="#0000ff" stroke-opacity="0.18" stroke-width="1"><circle cx="1084.95" cy="1110.31" r="5.6"/><circle cx="1096.75" cy="1099.28" r="5.6"/><circle cx="1107.26" cy="1065.95" r="5.6"/><circle cx="1117.96" cy="1130.21" r="5.6"/><circle cx="1128.77" cy="1062.99" r="5.6"/><circle cx="1138.62" cy="1097.92" r="5.6"/><circle cx="1147.88" cy="1107.07" r="5.6"/><circle cx="1156.68" cy="1059.63" r="5.6"/><circle cx="1164.98" cy="1064.98" r="5.6"/><circle cx="1172.59" cy="1066.9" r="5.6"/><circle cx="1180.49" cy="1060.93" r="5.6"/><circle cx="1188.89" cy="1068.11" r="5.6"/><circle cx="1196.5" cy="1050.27" r="5.6"/><circle cx="1204" cy="1054.39" r="5.6"/><circle cx="1211.3" cy="1031.35" r="5.6"/><circle cx="1218.31" cy="1038.26" r="5.6"/><circle cx="1225.51" cy="1024.27" r="5.6"/><circle cx="1233.11" cy="1028.31" r="5.6"/><circle cx="1241.02" cy="1030.87" r="5.6"/><circle cx="1248.52" cy="1024.39" r="5.6"/><circle cx="1253.82" cy="1010.77" r="5.6"/><circle cx="1258.82" cy="1026.65" r="5.6"/><circle cx="1263.73" cy="999.53" r="5.6"/><circle cx="1268.93" cy="999.43" r="5.6"/><circle cx="1273.83" cy="1016.65" r="5.6"/><circle cx="1278.83" cy="995.55" r="5.6"/><circle cx="1284.03" cy="1004.99" r="5.6"/><circle cx="1289.34" cy="986.22" r="5.6"/><circle cx="1294.24" cy="1001.62" r="5.6"/><circle cx="1298.24" cy="994.92" r="5.6"/><circle cx="1302.38" cy="987.87" r="5.6"/><circle cx="1306.46" cy="987.35" r="5.6"/><circle cx="1310.47" cy="975.85" r="5.6"/><circle cx="1314.43" cy="981.34" r="5.6"/><circle cx="1318.32" cy="974.7" r="5.6"/><circle cx="1322.16" cy="973.82" r="5.6"/><circle cx="1325.94" cy="969.32" r="5.6"/><circle cx="1329.66" cy="967.14" r="5.6"/><circle cx="1333.33" cy="970.89" r="5.6"/><circle cx="1336.94" cy="973.49" r="5.6"/><circle cx="1340.5" cy="964.51" r="5.6"/><circle cx="1344.01" cy="959.37" r="5.6"/><circle cx="1347.46" cy="959.69" r="5.6"/><circle cx="1350.86" cy="959.57" r="5.6"/><circle cx="1354.21" cy="962.05" r="5.6"/><circle cx="1357.51" cy="959.51" r="5.6"/><circle cx="1360.81" cy="965.34" r="5.6"/><circle cx="1364.11" cy="959.08" r="5.6"/><circle cx="1367.41" cy="947.08" r="5.6"/><circle cx="1370.72" cy="952.79" r="5.6"/><circle cx="1374.02" cy="947.32" r="5.6"/><circle cx="1377.32" cy="943.52" r="5.6"/><circle cx="1380.62" cy="943.85" r="5.6"/><circle cx="1383.92" cy="940.64" r="5.6"/><circle cx="1387.22" cy="935.43" r="5.6"/><circle cx="1390.52" cy="932.53" r="5.6"/><circle cx="1393.83" cy="932.07" r="5.6"/><circle cx="1397.13" cy="933.88" r="5.6"/><circle cx="1400.43" cy="931.32" r="5.6"/><circle cx="1403.73" cy="930.42" r="5.6"/><circle cx="1407.03" cy="935.92" r="5.6"/><circle cx="1410.33" cy="933.69" r="5.6"/><circle cx="1413.63" cy="926.33" r="5.6"/><circle cx="1416.94" cy="923.06" r="5.6"/><circle cx="1420.24" cy="918.13" r="5.6"/><circle cx="1423.54" cy="919.5" r="5.6"/><circle cx="1426.84" cy="916" r="5.6"/><circle cx="1430.14" cy="913.98" r="5.6"/><circle cx="1433.44" cy="915.93" r="5.6"/><circle cx="1436.74" cy="911.5" r="5.6"/><circle cx="1440.05" cy="910.34" r="5.6"/><circle cx="1443.35" cy="902.36" r="5.6"/><circle cx="1446.65" cy="903.63" r="5.6"/><circle cx="1449.95" cy="902.6" r="5.6"/><circle cx="1453.25" cy="906.45" r="5.6"/><circle cx="1456.55" cy="897.09" r="5.6"/><circle cx="1459.85" cy="921.11" r="5.6"/><circle cx="1463.16" cy="920.19" r="5.6"/><circle cx="1466.46" cy="898.93" r="5.6"/><circle cx="1469.76" cy="893.7" r="5.6"/><circle cx="1473.06" cy="900.09" r="5.6"/><circle cx="1476.36" cy="894.57" r="5.6"/><circle cx="1479.66" cy="881.29" r="5.6"/><circle cx="1482.96" cy="885.66" r="5.6"/><circle cx="1486.27" cy="884.51" r="5.6"/><circle cx="1491.61" cy="875.55" r="5.6"/><circle cx="1495.02" cy="882.07" r="5.6"/><circle cx="1498.43" cy="894.27" r="5.6"/><circle cx="1502.32" cy="881.28" r="5.6"/><circle cx="1505.73" cy="877.81" r="5.6"/><circle cx="1508.64" cy="892.42" r="5.6"/><circle cx="1512.05" cy="885.04" r="5.6"/><circle cx="1515.94" cy="876.09" r="5.6"/><circle cx="1519.64" cy="859.76" r="5.6"/><circle cx="1523.05" cy="888.35" r="5.6"/><circle cx="1526.65" cy="867.25" r="5.6"/><circle cx="1530.05" cy="885.65" r="5.6"/><circle cx="1533.46" cy="870.57" r="5.6"/><circle cx="1536.87" cy="860.44" r="5.6"/><circle cx="1540.27" cy="860.88" r="5.6"/><circle cx="1543.68" cy="858.71" r="5.6"/><circle cx="1547.09" cy="884.59" r="5.6"/><circle cx="1550.78" cy="898.26" r="5.6"/><circle cx="1554.19" cy="882.14" r="5.6"/><circle cx="1557.6" cy="844.9" r="5.6"/><circle cx="1561.2" cy="862.69" r="5.6"/><circle cx="1564.6" cy="871.46" r="5.6"/><circle cx="1568.01" cy="867.27" r="5.6"/><circle cx="1571.41" cy="886.82" r="5.6"/><circle cx="1574.63" cy="883.93" r="5.6"/><circle cx="1577.74" cy="840.12" r="5.6"/><circle cx="1581.15" cy="870.37" r="5.6"/><circle cx="1584.84" cy="828.98" r="5.6"/><circle cx="1587.96" cy="838.93" r="5.6"/><circle cx="1591.37" cy="845.09" r="5.6"/></g>
<path d="M1496.29 883.47V889.19M1489.23 886.13H1503.34M1510.4 875.79V882.31M1503.66 878.83H1517.13M1523.24 873.75V881.06M1517.23 877.15H1529.25M1534.43 866.06V874.17M1529.03 869.83H1539.83M1544.85 854.96V863.87M1539.91 859.11H1549.79M1554.19 857.05V866.75M1549.62 861.56H1558.76M1563.14 839.39V849.88M1558.96 844.27H1567.33M1570.93 855.98V867.27M1567.04 861.24H1574.82M1578.71 840.83V852.92M1574.99 846.45H1582.44M1585.82 838.09V850.97M1582.05 844.08H1589.59M1593.8 840.89V854.57M1589.74 847.25H1597.86M1602.07 833.95V848.42M1598.18 840.68H1605.96M1609.37 839.54V854.81M1605.65 846.64H1613.09M1616.96 827.74V843.81M1613.43 835.21H1620.49M1623.48 850.84V867.69M1620.15 858.68H1626.81M1630.29 832.8V850.45M1627.08 841.01H1633.5M1636.33 837.5V855.94M1633.29 846.08H1639.37M1642.46 821.67V840.91M1639.28 830.62H1645.63M1649.03 844.86V869.6M1646.3 857.23H1651.76M1653.37 835.81V857.79M1651.04 845.43H1655.69M1658.32 840.29V870.51M1655.69 854.03H1660.95M1663.9 844.58V880.3M1661.02 858.32H1666.78M1669.85 841.9V873.5M1666.97 854.27H1672.73M1675.42 854.58V916.41M1672.57 875.19H1678.27M1681.25 827.06V854.54M1678.55 838.05H1683.94M1686.2 821.87V845.23M1683.82 831.49H1688.59M1690.79 841.48V897.82M1688.37 862.09H1693.2M1695.87 824.73V859.09M1693.36 837.1H1698.37M1700.82 832.89V883.73M1698.34 852.13H1703.3M1705.78 835.72V890.68M1703.15 853.58H1708.41M1711.35 831.29V882.13M1708.66 849.16H1714.05M1716.56 849.2V1313M1714.08 927.52H1719.04M1721.27 829.01V893.59M1719.01 846.87H1723.53M1725.6 821.34V872.18M1723.44 839.2H1727.77M1729.94 892.25V1313M1727.93 2862.8H1731.95M1733.66 813.44V863.45M1731.64 829.1H1735.67M1737.99 813.77V864.61M1736.01 831.64H1739.98M1741.59 894V1313M1739.82 2851.36H1743.35M1745.06 865.88V1313M1743.11 2847.97H1747.01M1749.39 861.78V1313M1747.54 881.01H1751.25M1752.49 809.48V1313M1750.79 832.84H1754.2M1756.21 874.92V1313M1754.51 2837.77H1757.91M1759.31 865.45V1313M1757.45 2835.18H1761.17M1763.64 833.09V1313M1761.72 886.68H1765.56M1766.99 829.07V1313M1765.19 877.16H1768.79M1770.83 787.59V824.69M1768.97 802.15H1772.69M1774.42 810.9V945.55M1772.66 838.38H1776.19M1777.89 794.44V1313M1776.03 812.3H1779.75M1781.86 818.79V1313M1779.94 850.39H1783.78M1785.58 786.95V818.55M1783.69 799.32H1787.46M1789.42 802.14V865.35M1787.47 821.38H1791.37M1793.38 901.62V1313M1791.46 2809.51H1795.3M1797.1 832.58V1313M1795.15 893.04H1799.05M1801.19 848.41V1313M1798.4 2805.76H1803.98M1808.25 829.1V1313M1805.56 874.45H1810.94M1811.97 834.96V1313M1810.11 892.67H1813.83M1815.68 824.31V1313M1813.98 857.28H1817.39M1818.78 816.85V952.88M1817.18 840.21H1820.38" stroke="#ffa500" stroke-opacity="0.3" stroke-width="2" fill="none"/>
<g fill="#ffa500" fill-opacity="0.3" stroke="#ffa500" stroke-opacity="0.18" stroke-width="1"><circle cx="1496.29" cy="886.13" r="5.6"/><circle cx="1510.4" cy="878.83" r="5.6"/><circle cx="1523.24" cy="877.15" r="5.6"/><circle cx="1534.43" cy="869.83" r="5.6"/><circle cx="1544.85" cy="859.11" r="5.6"/><circle cx="1554.19" cy="861.56" r="5.6"/><circle cx="1563.14" cy="844.27" r="5.6"/><circle cx="1570.93" cy="861.24" r="5.6"/><circle cx="1578.71" cy="846.45" r="5.6"/><circle cx="1585.82" cy="844.08" r="5.6"/><circle cx="1593.8" cy="847.25" r="5.6"/><circle cx="1602.07" cy="840.68" r="5.6"/><circle cx="1609.37" cy="846.64" r="5.6"/><circle cx="1616.96" cy="835.21" r="5.6"/><circle cx="1623.48" cy="858.68" r="5.6"/><circle cx="1630.29" cy="841.01" r="5.6"/><circle cx="1636.33" cy="846.08" r="5.6"/><circle cx="1642.46" cy="830.62" r="5.6"/><circle cx="1649.03" cy="857.23" r="5.6"/><circle cx="1653.37" cy="845.43" r="5.6"/><circle cx="1658.32" cy="854.03" r="5.6"/><circle cx="1663.9" cy="858.32" r="5.6"/><circle cx="1669.85" cy="854.27" r="5.6"/><circle cx="1675.42" cy="875.19" r="5.6"/><circle cx="1681.25" cy="838.05" r="5.6"/><circle cx="1686.2" cy="831.49" r="5.6"/><circle cx="1690.79" cy="862.09" r="5.6"/><circle cx="1695.87" cy="837.1" r="5.6"/><circle cx="1700.82" cy="852.13" r="5.6"/><circle cx="1705.78" cy="853.58" r="5.6"/><circle cx="1711.35" cy="849.16" r="5.6"/><circle cx="1716.56" cy="927.52" r="5.6"/><circle cx="1721.27" cy="846.87" r="5.6"/><circle cx="1725.6" cy="839.2" r="5.6"/><circle cx="1729.94" cy="2862.8" r="5.6"/><circle cx="1733.66" cy="829.1" r="5.6"/><circle cx="1737.99" cy="831.64" r="5.6"/><circle cx="1741.59" cy="2851.36" r="5.6"/><circle cx="1745.06" cy="2847.97" r="5.6"/><circle cx="1749.39" cy="881.01" r="5.6"/><circle cx="1752.49" cy="832.84" r="5.6"/><circle cx="1756.21" cy="2837.77" r="5.6"/><circle cx="1759.31" cy="2835.18" r="5.6"/><circle cx="1763.64" cy="886.68" r="5.6"/><circle cx="1766.99" cy="877.16" r="5.6"/><circle cx="1770.83" cy="802.15" r="5.6"/><circle cx="1774.42" cy="838.38" r="5.6"/><circle cx="1777.89" cy="812.3" r="5.6"/><circle cx="1781.86" cy="850.39" r="5.6"/><circle cx="1785.58" cy="799.32" r="5.6"/><circle cx="1789.42" cy="821.38" r="5.6"/><circle cx="1793.38" cy="2809.51" r="5.6"/><circle cx="1797.1" cy="893.04" r="5.6"/><circle cx="1801.19" cy="2805.76" r="5.6"/><circle cx="1808.25" cy="874.45" r="5.6"/><circle cx="1811.97" cy="892.67" r="5.6"/><circle cx="1815.68" cy="857.28" r="5.6"/><circle cx="1818.78" cy="840.21" r="5.6"/></g>
</g>
<rect x="1076.9" y="718.5" width="742.4" height="589.5" fill="none" stroke="#262626" stroke-width="1.15" />
<line x1="1071.9" y1="1308" x2="1076.9" y2="1308" stroke="#262626" stroke-width="1.15" />
<text x="1066" y="1318.4" font-size="26.8" font-family="'DejaVu Sans','Liberation Sans',sans-serif" text-anchor="end">10<tspan font-size="18.76" dx="-0.4" dy="-10.05">−1</tspan></text>
<line x1="1071.9" y1="1209.75" x2="1076.9" y2="1209.75" stroke="#262626" stroke-width="1.15" />
<text x="1066" y="1220.15" font-size="26.8" font-family="'DejaVu Sans','Liberation Sans',sans-serif" text-anchor="end">10<tspan font-size="18.76" dx="-0.4" dy="-10.05">0</tspan></text>
<line x1="1071.9" y1="1111.5" x2="1076.9" y2="1111.5" stroke="#262626" stroke-width="1.15" />
<text x="1066" y="1121.9" font-size="26.8" font-family="'DejaVu Sans','Liberation Sans',sans-serif" text-anchor="end">10<tspan font-size="18.76" dx="-0.4" dy="-10.05">1</tspan></text>
<line x1="1071.9" y1="1013.25" x2="1076.9" y2="1013.25" stroke="#262626" stroke-width="1.15" />
<text x="1066" y="1023.65" font-size="26.8" font-family="'DejaVu Sans','Liberation Sans',sans-serif" text-anchor="end">10<tspan font-size="18.76" dx="-0.4" dy="-10.05">2</tspan></text>
<line x1="1071.9" y1="915" x2="1076.9" y2="915" stroke="#262626" stroke-width="1.15" />
<text x="1066" y="925.4" font-size="26.8" font-family="'DejaVu Sans','Liberation Sans',sans-serif" text-anchor="end">10<tspan font-size="18.76" dx="-0.4" dy="-10.05">3</tspan></text>
<line x1="1071.9" y1="816.75" x2="1076.9" y2="816.75" stroke="#262626" stroke-width="1.15" />
<text x="1066" y="827.15" font-size="26.8" font-family="'DejaVu Sans','Liberation Sans',sans-serif" text-anchor="end">10<tspan font-size="18.76" dx="-0.4" dy="-10.05">4</tspan></text>
<line x1="1071.9" y1="718.5" x2="1076.9" y2="718.5" stroke="#262626" stroke-width="1.15" />
<text x="1066" y="728.9" font-size="26.8" font-family="'DejaVu Sans','Liberation Sans',sans-serif" text-anchor="end">10<tspan font-size="18.76" dx="-0.4" dy="-10.05">5</tspan></text>
<line x1="1073.9" y1="1278.42" x2="1076.9" y2="1278.42" stroke="#262626" stroke-width="0.9" />
<line x1="1073.9" y1="1261.12" x2="1076.9" y2="1261.12" stroke="#262626" stroke-width="0.9" />
<line x1="1073.9" y1="1248.85" x2="1076.9" y2="1248.85" stroke="#262626" stroke-width="0.9" />
<line x1="1073.9" y1="1239.33" x2="1076.9" y2="1239.33" stroke="#262626" stroke-width="0.9" />
<line x1="1073.9" y1="1231.55" x2="1076.9" y2="1231.55" stroke="#262626" stroke-width="0.9" />
<line x1="1073.9" y1="1224.97" x2="1076.9" y2="1224.97" stroke="#262626" stroke-width="0.9" />
<line x1="1073.9" y1="1219.27" x2="1076.9" y2="1219.27" stroke="#262626" stroke-width="0.9" />
<line x1="1073.9" y1="1214.25" x2="1076.9" y2="1214.25" stroke="#262626" stroke-width="0.9" />
<line x1="1073.9" y1="1180.17" x2="1076.9" y2="1180.17" stroke="#262626" stroke-width="0.9" />
<line x1="1073.9" y1="1162.87" x2="1076.9" y2="1162.87" stroke="#262626" stroke-width="0.9" />
<line x1="1073.9" y1="1150.6" x2="1076.9" y2="1150.6" stroke="#262626" stroke-width="0.9" />
<line x1="1073.9" y1="1141.08" x2="1076.9" y2="1141.08" stroke="#262626" stroke-width="0.9" />
<line x1="1073.9" y1="1133.3" x2="1076.9" y2="1133.3" stroke="#262626" stroke-width="0.9" />
<line x1="1073.9" y1="1126.72" x2="1076.9" y2="1126.72" stroke="#262626" stroke-width="0.9" />
<line x1="1073.9" y1="1121.02" x2="1076.9" y2="1121.02" stroke="#262626" stroke-width="0.9" />
<line x1="1073.9" y1="1116" x2="1076.9" y2="1116" stroke="#262626" stroke-width="0.9" />
<line x1="1073.9" y1="1081.92" x2="1076.9" y2="1081.92" stroke="#262626" stroke-width="0.9" />
<line x1="1073.9" y1="1064.62" x2="1076.9" y2="1064.62" stroke="#262626" stroke-width="0.9" />
<line x1="1073.9" y1="1052.35" x2="1076.9" y2="1052.35" stroke="#262626" stroke-width="0.9" />
<line x1="1073.9" y1="1042.83" x2="1076.9" y2="1042.83" stroke="#262626" stroke-width="0.9" />
<line x1="1073.9" y1="1035.05" x2="1076.9" y2="1035.05" stroke="#262626" stroke-width="0.9" />
<line x1="1073.9" y1="1028.47" x2="1076.9" y2="1028.47" stroke="#262626" stroke-width="0.9" />
<line x1="1073.9" y1="1022.77" x2="1076.9" y2="1022.77" stroke="#262626" stroke-width="0.9" />
<line x1="1073.9" y1="1017.75" x2="1076.9" y2="1017.75" stroke="#262626" stroke-width="0.9" />
<line x1="1073.9" y1="983.67" x2="1076.9" y2="983.67" stroke="#262626" stroke-width="0.9" />
<line x1="1073.9" y1="966.37" x2="1076.9" y2="966.37" stroke="#262626" stroke-width="0.9" />
<line x1="1073.9" y1="954.1" x2="1076.9" y2="954.1" stroke="#262626" stroke-width="0.9" />
<line x1="1073.9" y1="944.58" x2="1076.9" y2="944.58" stroke="#262626" stroke-width="0.9" />
<line x1="1073.9" y1="936.8" x2="1076.9" y2="936.8" stroke="#262626" stroke-width="0.9" />
<line x1="1073.9" y1="930.22" x2="1076.9" y2="930.22" stroke="#262626" stroke-width="0.9" />
<line x1="1073.9" y1="924.52" x2="1076.9" y2="924.52" stroke="#262626" stroke-width="0.9" />
<line x1="1073.9" y1="919.5" x2="1076.9" y2="919.5" stroke="#262626" stroke-width="0.9" />
<line x1="1073.9" y1="885.42" x2="1076.9" y2="885.42" stroke="#262626" stroke-width="0.9" />
<line x1="1073.9" y1="868.12" x2="1076.9" y2="868.12" stroke="#262626" stroke-width="0.9" />
<line x1="1073.9" y1="855.85" x2="1076.9" y2="855.85" stroke="#262626" stroke-width="0.9" />
<line x1="1073.9" y1="846.33" x2="1076.9" y2="846.33" stroke="#262626" stroke-width="0.9" />
<line x1="1073.9" y1="838.55" x2="1076.9" y2="838.55" stroke="#262626" stroke-width="0.9" />
<line x1="1073.9" y1="831.97" x2="1076.9" y2="831.97" stroke="#262626" stroke-width="0.9" />
<line x1="1073.9" y1="826.27" x2="1076.9" y2="826.27" stroke="#262626" stroke-width="0.9" />
<line x1="1073.9" y1="821.25" x2="1076.9" y2="821.25" stroke="#262626" stroke-width="0.9" />
<line x1="1073.9" y1="787.17" x2="1076.9" y2="787.17" stroke="#262626" stroke-width="0.9" />
<line x1="1073.9" y1="769.87" x2="1076.9" y2="769.87" stroke="#262626" stroke-width="0.9" />
<line x1="1073.9" y1="757.6" x2="1076.9" y2="757.6" stroke="#262626" stroke-width="0.9" />
<line x1="1073.9" y1="748.08" x2="1076.9" y2="748.08" stroke="#262626" stroke-width="0.9" />
<line x1="1073.9" y1="740.3" x2="1076.9" y2="740.3" stroke="#262626" stroke-width="0.9" />
<line x1="1073.9" y1="733.72" x2="1076.9" y2="733.72" stroke="#262626" stroke-width="0.9" />
<line x1="1073.9" y1="728.02" x2="1076.9" y2="728.02" stroke="#262626" stroke-width="0.9" />
<line x1="1073.9" y1="723" x2="1076.9" y2="723" stroke="#262626" stroke-width="0.9" />
<line x1="1103.56" y1="1308" x2="1103.56" y2="1313" stroke="#262626" stroke-width="1.15" />
<text x="1102.66" y="1337.6" font-size="26.8" font-family="'DejaVu Sans','Liberation Sans',sans-serif" text-anchor="middle">10<tspan font-size="18.76" dx="0.3" dy="-10.45">1</tspan></text>
<line x1="1378.62" y1="1308" x2="1378.62" y2="1313" stroke="#262626" stroke-width="1.15" />
<text x="1377.72" y="1337.6" font-size="26.8" font-family="'DejaVu Sans','Liberation Sans',sans-serif" text-anchor="middle">10<tspan font-size="18.76" dx="0.3" dy="-10.45">2</tspan></text>
<line x1="1653.69" y1="1308" x2="1653.69" y2="1313" stroke="#262626" stroke-width="1.15" />
<text x="1652.79" y="1337.6" font-size="26.8" font-family="'DejaVu Sans','Liberation Sans',sans-serif" text-anchor="middle">10<tspan font-size="18.76" dx="0.3" dy="-10.45">3</tspan></text>
<line x1="1076.9" y1="1308" x2="1076.9" y2="1311" stroke="#262626" stroke-width="0.9" />
<line x1="1090.97" y1="1308" x2="1090.97" y2="1311" stroke="#262626" stroke-width="0.9" />
<line x1="1186.36" y1="1308" x2="1186.36" y2="1311" stroke="#262626" stroke-width="0.9" />
<line x1="1234.8" y1="1308" x2="1234.8" y2="1311" stroke="#262626" stroke-width="0.9" />
<line x1="1269.16" y1="1308" x2="1269.16" y2="1311" stroke="#262626" stroke-width="0.9" />
<line x1="1295.82" y1="1308" x2="1295.82" y2="1311" stroke="#262626" stroke-width="0.9" />
<line x1="1317.6" y1="1308" x2="1317.6" y2="1311" stroke="#262626" stroke-width="0.9" />
<line x1="1336.02" y1="1308" x2="1336.02" y2="1311" stroke="#262626" stroke-width="0.9" />
<line x1="1351.97" y1="1308" x2="1351.97" y2="1311" stroke="#262626" stroke-width="0.9" />
<line x1="1366.04" y1="1308" x2="1366.04" y2="1311" stroke="#262626" stroke-width="0.9" />
<line x1="1461.43" y1="1308" x2="1461.43" y2="1311" stroke="#262626" stroke-width="0.9" />
<line x1="1509.87" y1="1308" x2="1509.87" y2="1311" stroke="#262626" stroke-width="0.9" />
<line x1="1544.23" y1="1308" x2="1544.23" y2="1311" stroke="#262626" stroke-width="0.9" />
<line x1="1570.89" y1="1308" x2="1570.89" y2="1311" stroke="#262626" stroke-width="0.9" />
<line x1="1592.67" y1="1308" x2="1592.67" y2="1311" stroke="#262626" stroke-width="0.9" />
<line x1="1611.08" y1="1308" x2="1611.08" y2="1311" stroke="#262626" stroke-width="0.9" />
<line x1="1627.04" y1="1308" x2="1627.04" y2="1311" stroke="#262626" stroke-width="0.9" />
<line x1="1641.11" y1="1308" x2="1641.11" y2="1311" stroke="#262626" stroke-width="0.9" />
<line x1="1736.5" y1="1308" x2="1736.5" y2="1311" stroke="#262626" stroke-width="0.9" />
<line x1="1784.93" y1="1308" x2="1784.93" y2="1311" stroke="#262626" stroke-width="0.9" />
<line x1="1819.3" y1="1308" x2="1819.3" y2="1311" stroke="#262626" stroke-width="0.9" />
<text x="1448.1" y="1368.8" font-size="26.4" font-family="'DejaVu Sans','Liberation Sans',sans-serif" text-anchor="middle" fill="#000" >Energy(keV)</text>
<text transform="translate(991.4,1013.25) rotate(-90)" font-size="26.8" font-family="'DejaVu Sans','Liberation Sans',sans-serif" text-anchor="middle">keV<tspan font-size="18.8" dy="-10.4" dx="0.6">2</tspan><tspan dy="10.4" dx="0.6"> (photons cm</tspan><tspan font-size="18.8" dy="-10.4" dx="0.7">−2</tspan><tspan dy="10.4" dx="0.7"> </tspan><tspan font-style="oblique">s</tspan><tspan font-size="18.8" dy="-10.4" dx="0.7">−1</tspan><tspan dy="10.4" dx="0.7">keV</tspan><tspan font-size="18.8" dy="-10.4" dx="0.7">−1</tspan><tspan dy="10.4" dx="0.7">)</tspan></text>
<text x="1393.1" y="1018.5" font-family="'Liberation Serif','DejaVu Serif',serif" font-size="34.71" textLength="176" lengthAdjust="spacingAndGlyphs" >BB+BAND</text>
<g font-family="'Liberation Serif','DejaVu Serif',serif" font-size="34.71" fill="#000">
<text x="1392.4" y="1169.5" textLength="43.6" lengthAdjust="spacingAndGlyphs">(d)</text>
<text x="1450.3" y="1169.5" textLength="76.5" lengthAdjust="spacingAndGlyphs">GRB</text>
<text x="1539.1" y="1169.5" textLength="127.5" lengthAdjust="spacingAndGlyphs">210121A</text>
</g>
<g font-family="'Liberation Serif','DejaVu Serif',serif" font-size="34.71" fill="#000">
<text x="1390.2" y="1244.5" font-style="italic" textLength="21.5" lengthAdjust="spacingAndGlyphs">T</text>
<text x="1412.5" y="1249.7" font-size="24.26">0</text>
<text x="1435.7" y="1244.5" textLength="24.5" lengthAdjust="spacingAndGlyphs">+</text>
<text x="1470.6" y="1244.5" textLength="182" lengthAdjust="spacingAndGlyphs">[−0.01, 2.19]</text>
<text x="1665.4" y="1244.5">s</text>
</g>
<rect x="1089.6" y="731.6" width="231.9" height="202.4" rx="4.5" ry="4.5" fill="#fff" fill-opacity="0.8" stroke="#ccc" stroke-opacity="0.8" stroke-width="1.6"/>
<line x1="1100.3" y1="752.7" x2="1153.6" y2="752.7" stroke="#f00" stroke-width="4.2" stroke-dasharray="15.5 6.7"/>
<line x1="1100.3" y1="791.8" x2="1153.6" y2="791.8" stroke="#0ff" stroke-width="4.2"/>
<line x1="1100.3" y1="831.0" x2="1153.6" y2="831.0" stroke="#000" stroke-width="4.2" stroke-dasharray="15.5 6.7"/>
<line x1="1113.5" y1="870.1" x2="1140.5" y2="870.1" stroke="#0000ff" stroke-opacity="0.3" stroke-width="2"/>
<line x1="1127" y1="856.6" x2="1127" y2="883.6" stroke="#0000ff" stroke-opacity="0.3" stroke-width="2"/>
<circle cx="1127" cy="870.1" r="5.6" fill="#0000ff" fill-opacity="0.3" stroke="#0000ff" stroke-opacity="0.18" stroke-width="1"/>
<line x1="1113.5" y1="909.3" x2="1140.5" y2="909.3" stroke="#ffa500" stroke-opacity="0.3" stroke-width="2"/>
<line x1="1127" y1="895.8" x2="1127" y2="922.8" stroke="#ffa500" stroke-opacity="0.3" stroke-width="2"/>
<circle cx="1127" cy="909.3" r="5.6" fill="#ffa500" fill-opacity="0.3" stroke="#ffa500" stroke-opacity="0.18" stroke-width="1"/>
<text x="1175.5" y="762" font-size="26.6" font-family="'DejaVu Sans','Liberation Sans',sans-serif" text-anchor="start" fill="#000" >BB</text>
<text x="1175.5" y="801.15" font-size="26.6" font-family="'DejaVu Sans','Liberation Sans',sans-serif" text-anchor="start" fill="#000" >BAND</text>
<text x="1175.5" y="840.3" font-size="26.6" font-family="'DejaVu Sans','Liberation Sans',sans-serif" text-anchor="start" fill="#000" >BB+BAND</text>
<text x="1175.5" y="879.45" font-size="26.6" font-family="'DejaVu Sans','Liberation Sans',sans-serif" text-anchor="start" fill="#000" >GBMn0</text>
<text x="1175.5" y="918.6" font-size="26.6" font-family="'DejaVu Sans','Liberation Sans',sans-serif" text-anchor="start" fill="#000" >GBMb0</text>
<!-- panel e -->
<clipPath id="clipe"><rect x="634" y="1454.2" width="667.5" height="664.3"/></clipPath>
<g clip-path="url(#clipe)">
<polygon points="754.39,1745.38 1060.3,1744.28 1060.3,1998.93 754.39,1998.04" fill="#ff0000" fill-opacity="0.3"/>
<polygon points="754.39,1958.07 1060.3,1919.65 1060.3,2100.79 754.39,2103.44" fill="#ee82ee" fill-opacity="0.3"/>
<polyline points="711.97,2171.12 714.63,2150.63 717.71,2093.28 720.98,1930.44 725.08,1905.86 730,1921.22 732.86,1942.73 737.17,1947.23 741.26,1888.45 744.95,1852.6 749.05,1886.4 752.94,1915.08 756.83,1854.65 760.72,1838.26 764.82,1831.71 768.71,1855.67 772.19,1891.93 776.08,1871.65 780.39,1874.11 784.48,1885.37 788.37,1901.76 792.06,1949.49 795.95,1902.79 799.84,1886.81 803.94,1915.08 805.37,1966.28 808.04,2130.15 811.93,2134.25 815.62,2085.09 818.69,2126.05 822.79,2134.25 826.88,2115.81 827.91,2107.62 830.98,1966.28 835.08,1839.29 839.38,1827.41 843.27,1925.32 847.37,1947.85 851.05,2011.35 854.94,1986.77 858.84,2048.22 862.93,2112.74 866.83,2058.46 870.92,1992.91 874.61,1929.41 878.71,1915.69 882.39,1931.46 886.28,1926.75 890.38,1959.12 894.48,1941.29 898.16,2011.35 902.26,1964.24 906.15,2005.2 909.84,2035.93 913.94,2044.74 917.83,2016.88 921.72,2092.26 925.61,2043.1 929.71,2060.51 933.6,2105.16 937.49,2058.46 941.59,2013.4 945.48,2032.86 949.1,1984.47 953.12,2046.28 956.93,2050.52 960.75,2069.99 964.77,2058.98 968.79,2094.34 972.81,2042.05 976.62,2042.47 980.64,1992.3 984.45,2024.06 988.48,2085.44 992.5,2016.01 996.31,2045.22 1000.33,2023 1004.14,2033.16 1008.16,2043.11 1011.97,2040.99 1016.21,2037.82 1019.81,2051.57 1023.83,2076.55 1027.85,2073.8 1031.66,2060.68 1035.68,2075.28 1039.49,2073.17 1043.3,2051.15 1047.32,2061.1 1051.35,2071.26 1055.37,2122.49 1059.39,2135.19 1063.41,2119.31 1067.01,2103.01 1070.82,2119.31 1074.84,2094.97 1078.65,2122.49 1082.68,2096.03 1086.49,2119.31 1090.51,2090.74 1094.53,2109.79 1098.55,2060.68 1102.36,2104.5 1106.38,2082.9 1109.35,2119.31 1113.58,2130.96 1117.82,2116.14 1122.47,2119.31 1126.28,2097.09 1130.09,2085.44 1134.12,2049.46 1137.93,2045.65 1141.74,2080.15 1145.76,2117.2 1149.57,2053.69 1153.59,2051.15 1157.4,2091.8 1161.21,2075.5 1165.23,2087.56 1169.25,2087.98 1173.28,2085.44 1177.09,2069.99 1181.11,2093.91 1185.13,2089.68 1189.15,2099.2 1192.96,2081.21 1196.77,2079.09 1200.8,2089.68 1204.61,2075.5 1208.63,2081.63 1212.44,2071.69 1216.46,2069.57 1220.48,2103.44 1224.29,2072.74 1228.31,2061.1 1232.13,2085.44 1236.15,2086.93 1240.17,2090.31 1243.98,2069.99 1248,2085.44 1251.81,2078.04 1255.83,2092.85 1259.22,2119.31 1261.13,2122.49 1263.24,2105.55 1267.27,2103.01 1271.29,2120.37 1275.1,2082.9 1279.12,2087.56 1283.14,2080.79 1287.16,2109.79 1290.97,2107.04 1295,2113.6 1298.81,2087.56 1301.98,2089.68 1306.22,2092.85" fill="none" stroke="#808080" stroke-width="2.4" stroke-linejoin="miter"/>
<line x1="712.14" y1="1454.2" x2="712.14" y2="2118.5" stroke="#808080" stroke-width="2.2" stroke-dasharray="8.4 3.7"/>
<line x1="822.67" y1="1454.2" x2="822.67" y2="2118.5" stroke="#808080" stroke-width="2.2" stroke-dasharray="8.4 3.7"/>
<line x1="1297.18" y1="1454.2" x2="1297.18" y2="2118.5" stroke="#808080" stroke-width="2.2" stroke-dasharray="8.4 3.7"/>
</g>
<rect x="634" y="1454.2" width="667.5" height="664.3" fill="none" stroke="#2a2a2a" stroke-width="1.25" />
<line x1="634" y1="2118.5" x2="634" y2="2123.1" stroke="#000" stroke-width="1.1" />
<text x="634" y="2146.2" font-size="22.6" font-family="'DejaVu Sans','Liberation Sans',sans-serif" text-anchor="middle" fill="#000" >−2</text>
<line x1="712.53" y1="2118.5" x2="712.53" y2="2123.1" stroke="#000" stroke-width="1.1" />
<text x="712.53" y="2146.2" font-size="22.6" font-family="'DejaVu Sans','Liberation Sans',sans-serif" text-anchor="middle" fill="#000" >0</text>
<line x1="791.06" y1="2118.5" x2="791.06" y2="2123.1" stroke="#000" stroke-width="1.1" />
<text x="791.06" y="2146.2" font-size="22.6" font-family="'DejaVu Sans','Liberation Sans',sans-serif" text-anchor="middle" fill="#000" >2</text>
<line x1="869.59" y1="2118.5" x2="869.59" y2="2123.1" stroke="#000" stroke-width="1.1" />
<text x="869.59" y="2146.2" font-size="22.6" font-family="'DejaVu Sans','Liberation Sans',sans-serif" text-anchor="middle" fill="#000" >4</text>
<line x1="948.12" y1="2118.5" x2="948.12" y2="2123.1" stroke="#000" stroke-width="1.1" />
<text x="948.12" y="2146.2" font-size="22.6" font-family="'DejaVu Sans','Liberation Sans',sans-serif" text-anchor="middle" fill="#000" >6</text>
<line x1="1026.65" y1="2118.5" x2="1026.65" y2="2123.1" stroke="#000" stroke-width="1.1" />
<text x="1026.65" y="2146.2" font-size="22.6" font-family="'DejaVu Sans','Liberation Sans',sans-serif" text-anchor="middle" fill="#000" >8</text>
<line x1="1105.18" y1="2118.5" x2="1105.18" y2="2123.1" stroke="#000" stroke-width="1.1" />
<text x="1105.18" y="2146.2" font-size="22.6" font-family="'DejaVu Sans','Liberation Sans',sans-serif" text-anchor="middle" fill="#000" >10</text>
<line x1="1183.71" y1="2118.5" x2="1183.71" y2="2123.1" stroke="#000" stroke-width="1.1" />
<text x="1183.71" y="2146.2" font-size="22.6" font-family="'DejaVu Sans','Liberation Sans',sans-serif" text-anchor="middle" fill="#000" >12</text>
<line x1="1262.24" y1="2118.5" x2="1262.24" y2="2123.1" stroke="#000" stroke-width="1.1" />
<text x="1262.24" y="2146.2" font-size="22.6" font-family="'DejaVu Sans','Liberation Sans',sans-serif" text-anchor="middle" fill="#000" >14</text>
<line x1="629.4" y1="2118.5" x2="634" y2="2118.5" stroke="#000" stroke-width="1.1" />
<text x="624.2" y="2126.9" font-size="22.8" font-family="'DejaVu Sans','Liberation Sans',sans-serif" text-anchor="end" fill="#000" >1.0</text>
<line x1="629.4" y1="2007.78" x2="634" y2="2007.78" stroke="#000" stroke-width="1.1" />
<text x="624.2" y="2016.18" font-size="22.8" font-family="'DejaVu Sans','Liberation Sans',sans-serif" text-anchor="end" fill="#000" >1.5</text>
<line x1="629.4" y1="1897.07" x2="634" y2="1897.07" stroke="#000" stroke-width="1.1" />
<text x="624.2" y="1905.47" font-size="22.8" font-family="'DejaVu Sans','Liberation Sans',sans-serif" text-anchor="end" fill="#000" >2.0</text>
<line x1="629.4" y1="1786.35" x2="634" y2="1786.35" stroke="#000" stroke-width="1.1" />
<text x="624.2" y="1794.75" font-size="22.8" font-family="'DejaVu Sans','Liberation Sans',sans-serif" text-anchor="end" fill="#000" >2.5</text>
<line x1="629.4" y1="1675.63" x2="634" y2="1675.63" stroke="#000" stroke-width="1.1" />
<text x="624.2" y="1684.03" font-size="22.8" font-family="'DejaVu Sans','Liberation Sans',sans-serif" text-anchor="end" fill="#000" >3.0</text>
<line x1="629.4" y1="1564.92" x2="634" y2="1564.92" stroke="#000" stroke-width="1.1" />
<text x="624.2" y="1573.32" font-size="22.8" font-family="'DejaVu Sans','Liberation Sans',sans-serif" text-anchor="end" fill="#000" >3.5</text>
<line x1="629.4" y1="1454.2" x2="634" y2="1454.2" stroke="#000" stroke-width="1.1" />
<text x="624.2" y="1462.6" font-size="22.8" font-family="'DejaVu Sans','Liberation Sans',sans-serif" text-anchor="end" fill="#000" >4.0</text>
<text x="966.9" y="2181.2" font-size="33" font-family="'DejaVu Sans','Liberation Sans',sans-serif" text-anchor="middle">Time (s) relative to  <tspan font-style="oblique">T</tspan><tspan font-size="23.1" dy="6.5">0</tspan></text>
<text transform="translate(575.2,1786.85) rotate(-90)" font-size="33" font-family="'DejaVu Sans','Liberation Sans',sans-serif" text-anchor="middle">(1<tspan dx="3.9">+</tspan><tspan font-style="oblique" dx="3.9">σ</tspan><tspan font-size="23.1" dy="6.5">0</tspan><tspan dy="-6.5">)</tspan></text>
<rect x="761.6" y="1469.3" width="525.9" height="168.8" rx="4.5" ry="4.5" fill="#fff" fill-opacity="0.8" stroke="#ccc" stroke-opacity="0.8" stroke-width="1.6"/>
<rect x="773" y="1504" width="61.5" height="22" fill="#ff0000" stroke="none" stroke-width="1" fill-opacity="0.3"/>
<rect x="773" y="1584" width="61.5" height="22" fill="#ee82ee" stroke="none" stroke-width="1" fill-opacity="0.3"/>
<text x="858" y="1504.2" font-size="29.9" font-family="'DejaVu Sans','Liberation Sans',sans-serif" text-anchor="start" fill="#000" >GRB 210121A</text>
<text x="858" y="1537.6" font-size="30.2" font-family="'DejaVu Sans','Liberation Sans',sans-serif">Regime II, range of (1<tspan dx="4.9">+</tspan><tspan font-style="oblique" dx="4.9">σ</tspan><tspan font-size="21.1" dy="6">0</tspan><tspan dy="-6">)</tspan></text>
<text x="858" y="1584.2" font-size="29.9" font-family="'DejaVu Sans','Liberation Sans',sans-serif" text-anchor="start" fill="#000" >GRB 210121A</text>
<text x="858" y="1617.6" font-size="30.2" font-family="'DejaVu Sans','Liberation Sans',sans-serif">Regime III, range of (1<tspan dx="4.9">+</tspan><tspan font-style="oblique" dx="4.9">σ</tspan><tspan font-size="21.1" dy="6">0</tspan><tspan dy="-6">)</tspan></text>
<text x="980.2" y="1914" font-family="'Liberation Serif','DejaVu Serif',serif" font-size="34.71" textLength="287" lengthAdjust="spacingAndGlyphs" >(e)with mBB, Y=2</text>
</svg>
</body></html>
